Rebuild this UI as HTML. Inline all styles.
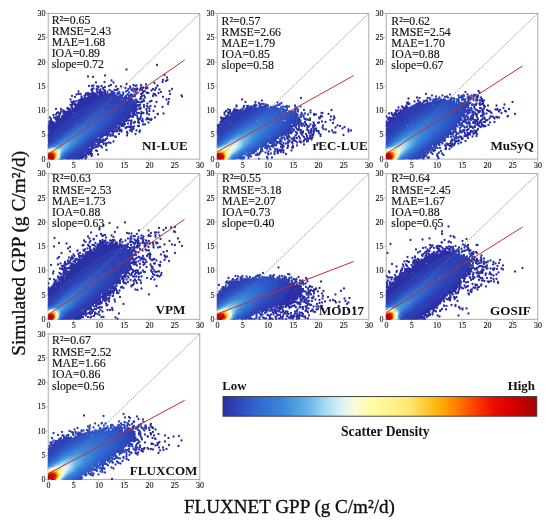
<!DOCTYPE html>
<html><head><meta charset="utf-8"><title>GPP scatter density</title>
<style>html,body{margin:0;padding:0;background:#fff}svg{display:block}text{font-family:"Liberation Serif",serif;fill:#111}</style></head><body>
<svg width="550" height="525" viewBox="0 0 550 525">
<rect width="550" height="525" fill="#fff"/>
<defs><linearGradient id="cb" x1="0" x2="1" y1="0" y2="0">
<stop offset="0.000" stop-color="#2b2fa5"/>
<stop offset="0.100" stop-color="#2f62cf"/>
<stop offset="0.200" stop-color="#3c8cda"/>
<stop offset="0.270" stop-color="#64b4e8"/>
<stop offset="0.330" stop-color="#aadcf2"/>
<stop offset="0.385" stop-color="#e1f3f8"/>
<stop offset="0.420" stop-color="#fafbd7"/>
<stop offset="0.480" stop-color="#fffca0"/>
<stop offset="0.590" stop-color="#ffe876"/>
<stop offset="0.685" stop-color="#ffb20a"/>
<stop offset="0.740" stop-color="#ff8200"/>
<stop offset="0.807" stop-color="#fa3c00"/>
<stop offset="0.864" stop-color="#eb0c00"/>
<stop offset="0.920" stop-color="#d70000"/>
<stop offset="1.000" stop-color="#a80000"/>
</linearGradient></defs>
<g>
<clipPath id="cp1"><rect x="47.7" y="12.9" width="152.6" height="146.7"/></clipPath>
<rect x="48.2" y="13.4" width="151.6" height="145.7" fill="none" stroke="#a2a2a2" stroke-width="0.9"/>
<path d="M48.2 159.6v1.6M47.7 159.1h-1.6M73.5 159.6v1.6M47.7 134.8h-1.6M98.7 159.6v1.6M47.7 110.5h-1.6M124.0 159.6v1.6M47.7 86.2h-1.6M149.3 159.6v1.6M47.7 62.0h-1.6M174.5 159.6v1.6M47.7 37.7h-1.6M199.8 159.6v1.6M47.7 13.4h-1.6" stroke="#a2a2a2" stroke-width="0.7" fill="none"/>
<g clip-path="url(#cp1)">
<g transform="scale(.5)" fill="none" stroke-width="4.6" stroke-linecap="round">
<path stroke="#2b2fa5" d="M314 130h0M253 139h0M329 150h0M210 151h0M176 153h0M186 154h0M334 155h0M326 160h0M335 160h0M223 161h0M332 162h0M209 164h0M325 164h0M192 165h0M227 165h0M309 166h0M253 168h0M292 169h0M222 170h0M267 170h0M282 170h0M187 171h0M273 171h0M315 171h0M178 172h0M184 172h0M203 172h0M218 172h0M271 172h0M315 172h0M194 173h0M197 173h0M232 173h0M242 173h0M260 173h0M197 174h0M210 174h0M282 175h0M286 175h0M292 175h0M294 175h0M206 176h0M251 176h0M261 176h0M285 176h0M295 176h0M312 176h0M187 177h0M267 177h0M274 177h0M292 177h0M184 178h0M195 178h0M236 178h0M273 178h0M275 178h0M282 178h0M284 178h0M306 178h0M344 178h0M193 179h0M201 179h0M207 179h0M235 179h0M270 179h0M280 179h0M319 179h0M183 180h0M184 180h0M219 180h0M229 180h0M233 180h0M274 180h0M284 180h0M310 180h0M199 181h0M210 181h0M303 181h0M201 182h0M289 182h0M339 182h0M157 183h0M185 183h0M194 183h0M223 183h0M287 183h0M203 184h0M210 184h0M215 184h0M225 184h0M322 184h0M195 185h0M196 185h0M199 185h0M207 185h0M286 185h0M293 185h0M176 186h0M186 186h0M201 186h0M210 186h0M285 186h0M294 186h0M297 186h0M317 186h0M172 187h0M183 187h0M184 187h0M190 187h0M205 187h0M157 188h0M161 188h0M179 188h0M180 188h0M185 188h0M187 188h0M212 188h0M282 188h0M307 188h0M308 188h0M340 188h0M153 189h0M174 189h0M182 189h0M193 189h0M199 189h0M203 189h0M204 189h0M310 189h0M176 190h0M185 190h0M191 190h0M209 190h0M170 191h0M178 191h0M187 191h0M194 191h0M201 191h0M205 191h0M206 191h0M210 191h0M288 191h0M312 191h0M363 191h0M144 192h0M169 192h0M183 192h0M186 192h0M191 192h0M284 192h0M306 192h0M163 193h0M170 193h0M177 193h0M188 193h0M193 193h0M195 193h0M197 193h0M200 193h0M203 193h0M364 193h0M150 194h0M181 194h0M187 194h0M188 194h0M194 194h0M282 194h0M326 194h0M177 195h0M182 195h0M184 195h0M191 195h0M192 195h0M197 195h0M199 195h0M201 195h0M202 195h0M290 195h0M175 196h0M191 196h0M163 197h0M166 197h0M171 197h0M172 197h0M176 197h0M179 197h0M181 197h0M182 197h0M185 197h0M187 197h0M189 197h0M192 197h0M194 197h0M197 197h0M282 197h0M163 198h0M167 198h0M173 198h0M189 198h0M280 198h0M338 198h0M141 199h0M161 199h0M169 199h0M174 199h0M178 199h0M180 199h0M183 199h0M185 199h0M190 199h0M192 199h0M194 199h0M287 199h0M333 199h0M163 200h0M168 200h0M182 200h0M158 201h0M160 201h0M164 201h0M167 201h0M175 201h0M176 201h0M179 201h0M181 201h0M185 201h0M189 201h0M153 202h0M169 202h0M179 202h0M181 202h0M187 202h0M288 202h0M303 202h0M147 203h0M161 203h0M163 203h0M164 203h0M171 203h0M172 203h0M174 203h0M183 203h0M185 203h0M273 203h0M275 203h0M284 203h0M300 203h0M143 204h0M149 204h0M175 204h0M176 204h0M181 204h0M274 204h0M277 204h0M284 204h0M313 204h0M337 204h0M146 205h0M157 205h0M164 205h0M167 205h0M169 205h0M178 205h0M183 205h0M185 205h0M281 205h0M146 206h0M159 206h0M167 206h0M168 206h0M174 206h0M272 206h0M161 207h0M162 207h0M164 207h0M170 207h0M173 207h0M177 207h0M181 207h0M295 207h0M147 208h0M158 208h0M162 208h0M176 208h0M178 208h0M336 208h0M144 209h0M149 209h0M150 209h0M152 209h0M154 209h0M156 209h0M160 209h0M166 209h0M169 209h0M171 209h0M173 209h0M174 209h0M271 209h0M141 210h0M162 210h0M277 210h0M280 210h0M288 210h0M155 211h0M158 211h0M161 211h0M165 211h0M167 211h0M169 211h0M170 211h0M176 211h0M270 211h0M272 211h0M274 211h0M160 212h0M165 212h0M270 212h0M276 212h0M294 212h0M301 212h0M144 213h0M151 213h0M152 213h0M155 213h0M157 213h0M159 213h0M163 213h0M166 213h0M168 213h0M170 213h0M272 213h0M310 213h0M154 214h0M158 214h0M165 214h0M167 214h0M169 214h0M272 214h0M288 214h0M325 214h0M143 215h0M152 215h0M161 215h0M163 215h0M281 215h0M297 215h0M135 216h0M155 216h0M162 216h0M267 216h0M269 216h0M270 216h0M272 216h0M281 216h0M137 217h0M145 217h0M150 217h0M152 217h0M156 217h0M159 217h0M164 217h0M278 217h0M299 217h0M112 218h0M122 218h0M135 218h0M147 218h0M153 218h0M165 218h0M269 218h0M272 218h0M281 218h0M293 218h0M137 219h0M138 219h0M140 219h0M148 219h0M154 219h0M157 219h0M159 219h0M161 219h0M267 219h0M274 219h0M145 220h0M157 220h0M159 220h0M264 220h0M293 220h0M126 221h0M138 221h0M142 221h0M149 221h0M151 221h0M153 221h0M155 221h0M266 221h0M269 221h0M271 221h0M139 222h0M142 222h0M147 222h0M158 222h0M266 222h0M299 222h0M307 222h0M122 223h0M129 223h0M130 223h0M144 223h0M150 223h0M153 223h0M154 223h0M157 223h0M264 223h0M268 223h0M127 224h0M134 224h0M137 224h0M265 224h0M266 224h0M283 224h0M294 224h0M116 225h0M139 225h0M141 225h0M142 225h0M144 225h0M149 225h0M150 225h0M153 225h0M273 225h0M114 226h0M121 226h0M133 226h0M141 226h0M151 226h0M260 226h0M268 226h0M274 226h0M278 226h0M285 226h0M287 226h0M119 227h0M127 227h0M130 227h0M135 227h0M137 227h0M143 227h0M152 227h0M265 227h0M294 227h0M327 227h0M128 228h0M139 228h0M140 228h0M144 228h0M151 228h0M267 228h0M269 228h0M282 228h0M315 228h0M316 228h0M112 229h0M119 229h0M131 229h0M135 229h0M137 229h0M143 229h0M147 229h0M149 229h0M258 229h0M298 229h0M107 230h0M145 230h0M256 230h0M266 230h0M270 230h0M119 231h0M129 231h0M131 231h0M133 231h0M135 231h0M138 231h0M140 231h0M143 231h0M146 231h0M261 231h0M274 231h0M125 232h0M131 232h0M141 232h0M145 232h0M255 232h0M256 232h0M116 233h0M129 233h0M133 233h0M135 233h0M137 233h0M138 233h0M142 233h0M260 233h0M262 233h0M282 233h0M115 234h0M118 234h0M124 234h0M127 234h0M128 234h0M136 234h0M141 234h0M266 234h0M100 235h0M108 235h0M112 235h0M116 235h0M130 235h0M133 235h0M135 235h0M139 235h0M252 235h0M254 235h0M258 235h0M275 235h0M310 235h0M128 236h0M133 236h0M256 236h0M275 236h0M295 236h0M114 237h0M123 237h0M125 237h0M127 237h0M131 237h0M135 237h0M137 237h0M280 237h0M102 238h0M111 238h0M119 238h0M127 238h0M130 238h0M137 238h0M253 238h0M254 238h0M276 238h0M280 238h0M285 238h0M294 238h0M297 238h0M303 238h0M117 239h0M121 239h0M125 239h0M128 239h0M133 239h0M135 239h0M278 239h0M293 239h0M300 239h0M123 240h0M126 240h0M134 240h0M302 240h0M102 241h0M113 241h0M115 241h0M116 241h0M118 241h0M121 241h0M125 241h0M131 241h0M133 241h0M250 241h0M256 241h0M258 241h0M263 241h0M277 241h0M126 242h0M252 242h0M262 242h0M284 242h0M99 243h0M102 243h0M104 243h0M113 243h0M115 243h0M119 243h0M121 243h0M123 243h0M124 243h0M129 243h0M249 243h0M286 243h0M103 244h0M113 244h0M124 244h0M247 244h0M248 244h0M263 244h0M269 244h0M270 244h0M276 244h0M99 245h0M104 245h0M107 245h0M114 245h0M119 245h0M121 245h0M123 245h0M127 245h0M297 245h0M115 246h0M119 246h0M123 246h0M247 246h0M248 246h0M268 246h0M278 246h0M99 247h0M103 247h0M106 247h0M110 247h0M113 247h0M120 247h0M256 247h0M262 247h0M106 248h0M117 248h0M123 248h0M242 248h0M246 248h0M250 248h0M99 249h0M101 249h0M109 249h0M110 249h0M112 249h0M115 249h0M118 249h0M121 249h0M124 249h0M241 249h0M262 249h0M286 249h0M290 249h0M102 250h0M109 250h0M248 250h0M97 251h0M99 251h0M101 251h0M105 251h0M107 251h0M111 251h0M115 251h0M116 251h0M118 251h0M121 251h0M245 251h0M97 252h0M119 252h0M244 252h0M247 252h0M276 252h0M278 252h0M99 253h0M101 253h0M106 253h0M109 253h0M111 253h0M113 253h0M115 253h0M117 253h0M239 253h0M259 253h0M268 253h0M99 254h0M104 254h0M107 254h0M115 254h0M254 254h0M258 254h0M263 254h0M265 254h0M97 255h0M101 255h0M103 255h0M109 255h0M111 255h0M237 255h0M253 255h0M261 255h0M97 256h0M101 256h0M239 256h0M251 256h0M265 256h0M99 257h0M103 257h0M107 257h0M108 257h0M110 257h0M113 257h0M99 258h0M100 258h0M107 258h0M109 258h0M112 258h0M267 258h0M103 259h0M105 259h0M111 259h0M233 259h0M235 259h0M239 259h0M263 259h0M243 260h0M97 261h0M98 261h0M103 261h0M105 261h0M109 261h0M260 261h0M263 261h0M273 261h0M280 261h0M228 262h0M230 262h0M239 262h0M101 263h0M103 263h0M104 263h0M106 263h0M109 263h0M234 263h0M243 263h0M264 263h0M101 264h0M107 264h0M224 264h0M254 264h0M279 264h0M99 265h0M103 265h0M227 265h0M101 267h0M103 267h0M104 267h0M255 267h0M98 268h0M101 268h0M238 268h0M271 268h0M97 269h0M102 269h0M220 269h0M225 269h0M221 270h0M98 271h0M226 271h0M254 271h0M97 272h0M100 272h0M215 272h0M221 272h0M230 273h0M232 274h0M214 277h0M212 278h0M208 281h0M210 281h0M227 283h0M202 284h0M206 284h0M200 285h0M217 285h0M221 286h0M211 287h0M213 287h0M196 288h0M207 288h0M198 290h0M192 291h0M197 291h0M212 291h0M202 292h0M195 293h0M197 293h0M192 294h0M204 295h0M188 296h0M183 298h0M184 298h0M213 300h0M180 301h0M192 301h0M183 302h0M194 302h0M177 304h0M179 304h0M174 306h0M182 306h0M179 307h0M181 308h0M184 308h0M170 309h0M172 309h0M177 309h0M196 309h0M168 310h0M172 310h0M183 311h0M184 311h0M164 312h0M172 312h0M183 312h0M171 313h0M160 314h0M162 314h0M167 314h0M173 314h0M165 315h0M159 316h0M161 316h0M164 317h0M156 318h0M158 318h0M171 318h0"/>
<path stroke="#2c3baf" d="M257 178h0M263 180h0M264 180h0M255 181h0M252 183h0M267 183h0M271 183h0M226 185h0M237 185h0M239 185h0M246 185h0M258 185h0M229 186h0M235 186h0M275 186h0M223 187h0M226 187h0M237 187h0M238 187h0M273 187h0M221 188h0M235 188h0M247 188h0M215 189h0M217 189h0M219 189h0M223 189h0M225 189h0M255 189h0M262 189h0M269 189h0M217 190h0M220 190h0M229 190h0M242 190h0M264 190h0M212 191h0M215 191h0M222 191h0M225 191h0M231 191h0M245 191h0M258 191h0M260 191h0M209 192h0M211 192h0M228 192h0M239 192h0M252 192h0M270 192h0M207 193h0M213 193h0M214 193h0M219 193h0M220 193h0M234 193h0M243 193h0M261 193h0M265 193h0M269 193h0M207 194h0M208 194h0M213 194h0M218 194h0M227 194h0M235 194h0M250 194h0M205 195h0M211 195h0M214 195h0M216 195h0M221 195h0M225 195h0M231 195h0M233 195h0M236 195h0M242 195h0M252 195h0M257 195h0M207 196h0M211 196h0M216 196h0M249 196h0M253 196h0M258 196h0M199 197h0M200 197h0M203 197h0M208 197h0M212 197h0M214 197h0M218 197h0M221 197h0M223 197h0M225 197h0M227 197h0M199 198h0M204 198h0M209 198h0M212 198h0M214 198h0M216 198h0M219 198h0M252 198h0M257 198h0M262 198h0M264 198h0M196 199h0M200 199h0M202 199h0M207 199h0M211 199h0M221 199h0M259 199h0M272 199h0M201 200h0M207 200h0M209 200h0M191 201h0M194 201h0M197 201h0M198 201h0M203 201h0M204 201h0M210 201h0M213 201h0M251 201h0M252 201h0M258 201h0M261 201h0M265 201h0M266 201h0M270 201h0M273 201h0M193 202h0M199 202h0M201 202h0M210 202h0M252 202h0M258 202h0M264 202h0M189 203h0M191 203h0M195 203h0M197 203h0M203 203h0M205 203h0M206 203h0M209 203h0M254 203h0M261 203h0M195 204h0M199 204h0M252 204h0M256 204h0M261 204h0M268 204h0M187 205h0M189 205h0M190 205h0M192 205h0M197 205h0M201 205h0M202 205h0M205 205h0M254 205h0M258 205h0M262 205h0M185 206h0M187 206h0M190 206h0M198 206h0M256 206h0M259 206h0M261 206h0M266 206h0M268 206h0M270 206h0M183 207h0M193 207h0M194 207h0M196 207h0M200 207h0M264 207h0M183 208h0M187 208h0M191 208h0M192 208h0M198 208h0M253 208h0M256 208h0M266 208h0M268 208h0M181 209h0M185 209h0M188 209h0M194 209h0M197 209h0M255 209h0M258 209h0M260 209h0M265 209h0M189 210h0M253 210h0M254 210h0M256 210h0M259 210h0M260 210h0M264 210h0M267 210h0M175 211h0M179 211h0M181 211h0M182 211h0M185 211h0M186 211h0M190 211h0M193 211h0M263 211h0M268 211h0M181 212h0M187 212h0M253 212h0M255 212h0M264 212h0M266 212h0M173 213h0M176 213h0M182 213h0M188 213h0M191 213h0M192 213h0M257 213h0M259 213h0M263 213h0M186 214h0M254 214h0M256 214h0M258 214h0M260 214h0M262 214h0M264 214h0M266 214h0M171 215h0M173 215h0M175 215h0M177 215h0M179 215h0M181 215h0M183 215h0M184 215h0M252 215h0M177 216h0M185 216h0M251 216h0M261 216h0M167 217h0M169 217h0M171 217h0M173 217h0M174 217h0M179 217h0M183 217h0M252 217h0M254 217h0M258 217h0M263 217h0M173 218h0M253 218h0M254 218h0M258 218h0M260 218h0M262 218h0M166 219h0M169 219h0M171 219h0M175 219h0M177 219h0M178 219h0M180 219h0M251 219h0M256 219h0M264 219h0M164 220h0M167 220h0M171 220h0M173 220h0M176 220h0M179 220h0M248 220h0M250 220h0M258 220h0M260 220h0M263 220h0M161 221h0M163 221h0M168 221h0M252 221h0M254 221h0M256 221h0M170 222h0M173 222h0M177 222h0M248 222h0M250 222h0M261 222h0M161 223h0M162 223h0M164 223h0M167 223h0M169 223h0M174 223h0M247 223h0M256 223h0M258 223h0M163 224h0M164 224h0M172 224h0M248 224h0M255 224h0M256 224h0M258 224h0M260 224h0M155 225h0M156 225h0M159 225h0M161 225h0M166 225h0M169 225h0M171 225h0M246 225h0M250 225h0M252 225h0M167 226h0M247 226h0M248 226h0M254 226h0M256 226h0M154 227h0M158 227h0M161 227h0M163 227h0M168 227h0M244 227h0M250 227h0M252 227h0M244 228h0M248 228h0M257 228h0M152 229h0M157 229h0M159 229h0M160 229h0M167 229h0M168 229h0M246 229h0M250 229h0M253 229h0M254 229h0M152 230h0M159 230h0M163 230h0M242 230h0M248 230h0M250 230h0M149 231h0M151 231h0M155 231h0M157 231h0M161 231h0M246 231h0M253 231h0M150 232h0M157 232h0M161 232h0M240 232h0M242 232h0M244 232h0M247 232h0M250 232h0M253 232h0M149 233h0M152 233h0M155 233h0M159 233h0M162 233h0M153 234h0M239 234h0M240 234h0M242 234h0M246 234h0M248 234h0M142 235h0M145 235h0M149 235h0M150 235h0M157 235h0M159 235h0M244 235h0M250 235h0M143 236h0M147 236h0M149 236h0M238 236h0M240 236h0M243 236h0M245 236h0M247 236h0M249 236h0M139 237h0M141 237h0M145 237h0M150 237h0M152 237h0M154 237h0M138 238h0M143 238h0M236 238h0M240 238h0M244 238h0M246 238h0M249 238h0M140 239h0M145 239h0M147 239h0M149 239h0M151 239h0M155 239h0M238 239h0M144 240h0M234 240h0M239 240h0M137 241h0M138 241h0M141 241h0M142 241h0M146 241h0M148 241h0M237 241h0M240 241h0M243 241h0M244 241h0M247 241h0M233 242h0M234 242h0M238 242h0M240 242h0M242 242h0M132 243h0M134 243h0M137 243h0M138 243h0M141 243h0M143 243h0M145 243h0M148 243h0M237 243h0M132 244h0M140 244h0M230 244h0M233 244h0M235 244h0M237 244h0M243 244h0M131 245h0M137 245h0M138 245h0M144 245h0M139 246h0M142 246h0M232 246h0M236 246h0M240 246h0M127 247h0M129 247h0M131 247h0M132 247h0M135 247h0M137 247h0M140 247h0M228 247h0M230 247h0M234 247h0M126 248h0M231 248h0M232 248h0M236 248h0M128 249h0M131 249h0M132 249h0M135 249h0M139 249h0M238 249h0M124 250h0M133 250h0M123 251h0M127 251h0M129 251h0M130 251h0M134 251h0M137 251h0M138 251h0M223 251h0M228 251h0M232 251h0M129 252h0M131 252h0M132 252h0M225 252h0M230 252h0M121 253h0M123 253h0M124 253h0M127 253h0M135 253h0M222 253h0M226 253h0M229 253h0M232 253h0M234 253h0M121 254h0M124 254h0M130 254h0M133 254h0M220 254h0M223 254h0M227 254h0M233 254h0M117 255h0M118 255h0M122 255h0M126 255h0M129 255h0M225 255h0M230 255h0M117 256h0M118 256h0M124 256h0M127 256h0M218 256h0M220 256h0M225 256h0M120 257h0M123 257h0M131 257h0M217 257h0M222 257h0M227 257h0M228 257h0M230 257h0M117 258h0M127 258h0M216 258h0M223 258h0M226 258h0M115 259h0M118 259h0M121 259h0M122 259h0M125 259h0M128 259h0M117 260h0M122 260h0M127 260h0M215 260h0M218 260h0M226 260h0M114 261h0M119 261h0M121 261h0M125 261h0M221 261h0M222 261h0M225 261h0M212 262h0M220 262h0M224 262h0M226 262h0M111 263h0M113 263h0M115 263h0M117 263h0M118 263h0M120 263h0M122 263h0M214 263h0M216 263h0M119 264h0M122 264h0M210 264h0M213 264h0M108 265h0M110 265h0M112 265h0M115 265h0M117 265h0M121 265h0M208 265h0M216 265h0M218 265h0M112 266h0M116 266h0M209 266h0M218 266h0M106 267h0M109 267h0M111 267h0M115 267h0M212 267h0M214 267h0M217 267h0M204 268h0M212 268h0M215 268h0M104 269h0M107 269h0M109 269h0M111 269h0M113 269h0M114 269h0M116 269h0M208 269h0M210 269h0M217 269h0M110 270h0M203 270h0M205 270h0M207 270h0M209 270h0M212 270h0M216 270h0M101 271h0M105 271h0M107 271h0M108 271h0M112 271h0M102 272h0M105 272h0M112 272h0M201 272h0M202 272h0M204 272h0M206 272h0M106 273h0M108 273h0M110 273h0M107 274h0M109 274h0M201 274h0M203 274h0M204 274h0M97 275h0M98 275h0M101 275h0M102 275h0M105 275h0M97 276h0M101 276h0M200 276h0M99 277h0M102 277h0M105 277h0M107 277h0M101 278h0M192 278h0M200 278h0M98 279h0M102 279h0M194 279h0M196 279h0M199 279h0M207 279h0M101 280h0M191 280h0M193 280h0M196 280h0M200 280h0M205 280h0M206 280h0M97 281h0M99 281h0M102 281h0M203 281h0M186 282h0M188 282h0M193 282h0M194 282h0M101 283h0M197 283h0M201 283h0M185 284h0M194 284h0M98 285h0M182 285h0M188 285h0M190 285h0M183 286h0M184 286h0M188 286h0M198 286h0M186 287h0M180 288h0M182 288h0M184 288h0M188 288h0M178 289h0M180 290h0M183 290h0M184 290h0M186 290h0M191 290h0M176 291h0M179 291h0M172 292h0M177 292h0M181 292h0M187 292h0M183 293h0M185 293h0M173 294h0M177 294h0M185 294h0M174 295h0M183 295h0M170 296h0M172 296h0M174 296h0M177 296h0M185 296h0M171 298h0M174 298h0M176 298h0M181 298h0M165 299h0M167 299h0M169 299h0M173 299h0M165 300h0M168 300h0M175 300h0M178 300h0M162 301h0M170 301h0M172 301h0M162 302h0M165 302h0M174 302h0M166 303h0M169 303h0M171 303h0M164 304h0M166 304h0M171 304h0M172 304h0M160 305h0M162 305h0M163 306h0M164 306h0M166 306h0M168 306h0M158 307h0M160 307h0M154 308h0M158 308h0M162 308h0M165 308h0M166 308h0M152 309h0M151 310h0M152 310h0M154 310h0M159 310h0M163 310h0M164 310h0M166 310h0M148 311h0M156 311h0M160 311h0M149 312h0M156 312h0M159 312h0M147 313h0M150 313h0M153 313h0M155 313h0M161 313h0M145 314h0M147 314h0M149 314h0M150 314h0M153 314h0M154 314h0M156 314h0M159 314h0M140 316h0M142 316h0M145 316h0M146 316h0M148 316h0M150 316h0M152 316h0M154 316h0M156 316h0M138 318h0M143 318h0M146 318h0M148 318h0M150 318h0M152 318h0"/>
<path stroke="#2d43b5" d="M238 195h0M231 196h0M234 196h0M244 196h0M232 197h0M236 197h0M238 197h0M243 197h0M247 197h0M248 198h0M223 199h0M224 199h0M227 199h0M229 199h0M231 199h0M235 199h0M237 199h0M239 199h0M228 200h0M234 200h0M217 201h0M219 201h0M221 201h0M223 201h0M225 201h0M227 201h0M233 201h0M237 201h0M238 201h0M240 201h0M243 201h0M246 201h0M248 201h0M214 202h0M220 202h0M246 202h0M249 202h0M251 202h0M213 203h0M217 203h0M223 203h0M224 203h0M227 203h0M231 203h0M233 203h0M235 203h0M236 203h0M238 203h0M240 203h0M242 203h0M245 203h0M219 204h0M226 204h0M240 204h0M243 204h0M245 204h0M247 204h0M248 204h0M250 204h0M207 205h0M209 205h0M210 205h0M212 205h0M214 205h0M220 205h0M223 205h0M225 205h0M229 205h0M232 205h0M235 205h0M239 205h0M210 206h0M213 206h0M221 206h0M235 206h0M236 206h0M252 206h0M205 207h0M206 207h0M209 207h0M215 207h0M216 207h0M219 207h0M223 207h0M224 207h0M227 207h0M229 207h0M231 207h0M233 207h0M238 207h0M240 207h0M242 207h0M244 207h0M246 207h0M248 207h0M250 207h0M201 208h0M212 208h0M215 208h0M223 208h0M240 208h0M243 208h0M249 208h0M203 209h0M205 209h0M207 209h0M208 209h0M210 209h0M217 209h0M233 209h0M235 209h0M236 209h0M238 209h0M244 209h0M250 209h0M205 210h0M209 210h0M211 210h0M236 210h0M244 210h0M246 210h0M250 210h0M197 211h0M199 211h0M201 211h0M202 211h0M207 211h0M235 211h0M238 211h0M240 211h0M242 211h0M248 211h0M197 212h0M199 212h0M208 212h0M236 212h0M240 212h0M244 212h0M195 213h0M200 213h0M203 213h0M204 213h0M206 213h0M242 213h0M249 213h0M250 213h0M205 214h0M236 214h0M239 214h0M242 214h0M246 214h0M189 215h0M191 215h0M193 215h0M194 215h0M196 215h0M199 215h0M200 215h0M240 215h0M248 215h0M250 215h0M192 216h0M238 216h0M241 216h0M187 217h0M191 217h0M195 217h0M197 217h0M198 217h0M242 217h0M246 217h0M240 218h0M242 218h0M248 218h0M183 219h0M185 219h0M187 219h0M189 219h0M191 219h0M193 219h0M238 219h0M245 219h0M246 219h0M185 220h0M187 220h0M236 220h0M241 220h0M246 220h0M181 221h0M189 221h0M191 221h0M238 221h0M243 221h0M244 221h0M236 222h0M240 222h0M243 222h0M245 222h0M178 223h0M181 223h0M182 223h0M185 223h0M186 223h0M238 223h0M178 224h0M183 224h0M236 224h0M240 224h0M176 225h0M181 225h0M238 225h0M242 225h0M244 225h0M234 226h0M238 226h0M241 226h0M242 226h0M171 227h0M172 227h0M175 227h0M176 227h0M178 227h0M180 227h0M177 228h0M234 228h0M238 228h0M242 228h0M171 229h0M172 229h0M175 229h0M232 229h0M237 229h0M241 229h0M232 230h0M234 230h0M238 230h0M240 230h0M165 231h0M167 231h0M168 231h0M170 231h0M172 231h0M169 232h0M172 232h0M232 232h0M236 232h0M238 232h0M167 233h0M171 233h0M235 233h0M165 234h0M171 234h0M229 234h0M232 234h0M235 234h0M237 234h0M160 235h0M162 235h0M230 235h0M233 236h0M235 236h0M157 237h0M159 237h0M161 237h0M162 237h0M164 237h0M229 237h0M228 238h0M231 238h0M232 238h0M156 239h0M158 239h0M161 239h0M226 239h0M153 240h0M154 240h0M227 240h0M232 240h0M157 241h0M159 241h0M228 241h0M230 241h0M222 242h0M224 242h0M226 242h0M229 242h0M151 243h0M155 243h0M157 243h0M230 243h0M153 244h0M222 244h0M226 244h0M228 244h0M147 245h0M149 245h0M151 245h0M225 245h0M220 246h0M226 246h0M144 247h0M146 247h0M149 247h0M151 247h0M224 247h0M218 248h0M220 248h0M222 248h0M142 249h0M144 249h0M147 249h0M224 249h0M145 250h0M216 250h0M218 250h0M220 250h0M224 250h0M141 251h0M143 251h0M147 251h0M214 252h0M216 252h0M220 252h0M137 253h0M138 253h0M140 253h0M142 253h0M216 254h0M218 254h0M135 255h0M138 255h0M141 255h0M212 255h0M214 255h0M210 256h0M215 256h0M133 257h0M135 257h0M137 257h0M209 257h0M133 258h0M208 258h0M212 258h0M214 258h0M131 259h0M135 259h0M210 259h0M130 260h0M133 260h0M205 260h0M206 260h0M208 260h0M213 260h0M128 261h0M210 261h0M129 262h0M204 262h0M210 262h0M127 263h0M131 263h0M206 263h0M209 263h0M202 264h0M205 264h0M207 264h0M125 265h0M126 265h0M201 265h0M124 266h0M203 266h0M204 266h0M206 266h0M119 267h0M121 267h0M122 267h0M199 267h0M200 267h0M120 268h0M196 268h0M200 268h0M202 268h0M118 269h0M123 269h0M122 270h0M196 270h0M115 271h0M116 271h0M119 271h0M120 271h0M194 271h0M198 271h0M196 272h0M198 272h0M115 273h0M116 273h0M192 273h0M188 274h0M191 274h0M195 274h0M110 275h0M112 275h0M115 275h0M109 276h0M112 276h0M186 276h0M189 276h0M191 276h0M110 277h0M111 278h0M188 278h0M105 279h0M106 279h0M108 279h0M186 279h0M184 280h0M107 281h0M181 281h0M182 281h0M186 281h0M188 281h0M183 282h0M184 282h0M103 283h0M104 283h0M107 283h0M177 283h0M180 283h0M178 284h0M180 284h0M101 285h0M103 285h0M104 285h0M174 285h0M176 285h0M99 286h0M101 286h0M176 286h0M180 286h0M174 287h0M178 287h0M174 288h0M177 288h0M97 289h0M173 289h0M172 290h0M175 290h0M171 291h0M167 292h0M171 292h0M163 294h0M166 294h0M168 294h0M165 295h0M161 296h0M163 296h0M166 296h0M164 297h0M160 298h0M162 298h0M158 299h0M156 300h0M159 300h0M161 300h0M153 302h0M159 302h0M160 302h0M155 303h0M157 303h0M149 304h0M153 304h0M154 305h0M149 306h0M150 306h0M152 306h0M154 306h0M146 307h0M144 308h0M147 308h0M150 308h0M148 309h0M147 310h0M142 311h0M144 311h0M137 312h0M142 312h0M145 312h0M138 313h0M140 313h0M137 314h0M139 314h0M134 315h0M140 315h0M134 316h0M139 316h0M137 317h0M134 318h0"/>
<path stroke="#2d4bbc" d="M228 208h0M219 209h0M220 209h0M225 209h0M226 209h0M230 209h0M224 210h0M230 210h0M212 211h0M214 211h0M216 211h0M219 211h0M221 211h0M223 211h0M227 211h0M228 211h0M233 211h0M219 212h0M226 212h0M233 212h0M234 212h0M210 213h0M213 213h0M214 213h0M216 213h0M220 213h0M223 213h0M224 213h0M228 213h0M230 213h0M213 214h0M231 214h0M235 214h0M207 215h0M208 215h0M211 215h0M215 215h0M216 215h0M218 215h0M221 215h0M222 215h0M225 215h0M227 215h0M232 215h0M204 216h0M211 216h0M212 216h0M219 216h0M223 216h0M236 216h0M201 217h0M203 217h0M206 217h0M215 217h0M216 217h0M220 217h0M224 217h0M226 217h0M228 217h0M231 217h0M232 217h0M204 218h0M207 218h0M211 218h0M213 218h0M221 218h0M224 218h0M226 218h0M228 218h0M230 218h0M232 218h0M234 218h0M236 218h0M195 219h0M197 219h0M199 219h0M200 219h0M202 219h0M209 219h0M215 219h0M216 219h0M218 219h0M222 219h0M201 220h0M220 220h0M224 220h0M226 220h0M232 220h0M193 221h0M195 221h0M197 221h0M199 221h0M203 221h0M223 221h0M229 221h0M231 221h0M234 221h0M192 222h0M195 222h0M224 222h0M234 222h0M188 223h0M191 223h0M196 223h0M226 223h0M231 223h0M232 223h0M197 224h0M224 224h0M227 224h0M233 224h0M234 224h0M185 225h0M186 225h0M188 225h0M190 225h0M193 225h0M229 225h0M230 225h0M191 226h0M224 226h0M227 226h0M230 226h0M183 227h0M185 227h0M187 227h0M188 227h0M228 227h0M232 227h0M179 228h0M183 228h0M180 229h0M185 229h0M222 229h0M224 229h0M229 229h0M230 229h0M179 230h0M185 230h0M222 230h0M226 230h0M174 231h0M177 231h0M181 231h0M224 231h0M228 231h0M230 231h0M222 232h0M175 233h0M179 233h0M224 233h0M226 233h0M228 233h0M223 234h0M225 234h0M169 235h0M173 235h0M175 235h0M220 235h0M226 235h0M169 236h0M170 236h0M173 236h0M220 236h0M166 237h0M224 237h0M226 237h0M224 238h0M163 239h0M165 239h0M167 239h0M169 239h0M219 239h0M220 239h0M216 240h0M218 240h0M222 240h0M224 240h0M161 241h0M163 241h0M164 241h0M166 241h0M221 241h0M216 242h0M219 242h0M159 243h0M161 243h0M163 243h0M164 243h0M214 243h0M221 243h0M161 244h0M215 244h0M220 244h0M155 245h0M157 245h0M218 245h0M216 246h0M152 247h0M154 247h0M157 247h0M158 247h0M214 247h0M210 248h0M213 248h0M214 248h0M216 248h0M149 249h0M151 249h0M209 250h0M212 250h0M214 250h0M148 251h0M151 251h0M207 252h0M211 252h0M212 252h0M145 253h0M147 253h0M149 253h0M208 253h0M147 254h0M206 254h0M208 254h0M210 254h0M142 255h0M145 255h0M204 255h0M205 256h0M139 257h0M141 257h0M143 257h0M203 257h0M206 257h0M202 258h0M206 258h0M137 259h0M139 259h0M141 259h0M204 259h0M200 260h0M203 260h0M134 261h0M137 261h0M135 262h0M133 263h0M198 263h0M200 263h0M195 264h0M197 264h0M198 264h0M129 265h0M131 265h0M132 265h0M131 266h0M192 266h0M194 266h0M197 266h0M126 267h0M129 267h0M194 268h0M125 269h0M127 269h0M188 269h0M190 269h0M191 270h0M192 270h0M125 271h0M188 271h0M120 272h0M187 272h0M190 272h0M119 273h0M186 274h0M116 275h0M119 275h0M182 275h0M184 275h0M119 276h0M181 276h0M183 276h0M185 276h0M115 277h0M117 277h0M117 278h0M181 278h0M182 278h0M113 279h0M115 279h0M178 279h0M176 280h0M178 280h0M109 281h0M111 281h0M111 282h0M173 282h0M174 282h0M178 282h0M108 283h0M110 284h0M172 284h0M107 285h0M108 285h0M171 285h0M171 286h0M172 286h0M103 287h0M104 287h0M106 287h0M169 287h0M165 288h0M167 288h0M168 288h0M170 288h0M99 289h0M100 289h0M99 290h0M164 290h0M166 290h0M168 290h0M163 292h0M164 292h0M159 295h0M155 296h0M157 296h0M158 297h0M154 299h0M151 300h0M154 300h0M149 302h0M150 302h0M144 304h0M146 304h0M141 306h0M142 306h0M144 306h0M139 308h0M140 309h0M140 310h0M136 311h0M138 311h0M132 312h0M135 313h0M132 314h0M130 315h0M132 316h0M130 317h0"/>
<path stroke="#2e53c3" d="M211 220h0M217 220h0M204 221h0M209 221h0M213 221h0M214 221h0M218 221h0M211 222h0M215 222h0M220 222h0M199 223h0M201 223h0M203 223h0M205 223h0M206 223h0M208 223h0M213 223h0M217 223h0M218 223h0M199 225h0M200 225h0M204 225h0M207 225h0M209 225h0M211 225h0M213 225h0M214 225h0M216 225h0M219 225h0M220 225h0M206 226h0M211 226h0M216 226h0M220 226h0M222 226h0M193 227h0M194 227h0M197 227h0M199 227h0M202 227h0M208 227h0M212 227h0M218 227h0M189 228h0M191 228h0M192 228h0M212 228h0M214 228h0M217 228h0M221 228h0M194 229h0M196 229h0M198 229h0M202 229h0M204 229h0M206 229h0M208 229h0M219 229h0M189 230h0M210 230h0M214 230h0M218 230h0M220 230h0M187 231h0M191 231h0M194 231h0M212 231h0M210 232h0M212 232h0M214 232h0M218 232h0M220 232h0M181 233h0M183 233h0M184 233h0M186 233h0M190 233h0M216 233h0M213 234h0M214 234h0M179 235h0M181 235h0M183 235h0M184 235h0M216 235h0M218 235h0M212 236h0M218 236h0M175 237h0M177 237h0M179 237h0M210 237h0M215 237h0M216 237h0M175 238h0M210 238h0M170 239h0M173 239h0M212 239h0M216 239h0M169 241h0M171 241h0M173 241h0M211 241h0M212 241h0M215 241h0M211 242h0M167 243h0M168 243h0M170 243h0M208 243h0M206 244h0M208 244h0M210 244h0M212 244h0M163 245h0M164 245h0M206 246h0M160 247h0M162 247h0M210 247h0M205 248h0M206 248h0M208 248h0M155 249h0M156 249h0M158 249h0M202 250h0M204 250h0M206 250h0M155 251h0M200 252h0M202 252h0M204 252h0M150 253h0M153 253h0M200 254h0M149 255h0M150 255h0M198 255h0M202 255h0M147 256h0M197 256h0M198 256h0M144 257h0M148 257h0M200 257h0M200 258h0M142 259h0M195 259h0M196 259h0M198 259h0M194 260h0M196 260h0M139 261h0M140 261h0M138 262h0M192 262h0M137 263h0M194 263h0M189 264h0M190 264h0M193 264h0M134 265h0M136 265h0M134 266h0M191 266h0M133 267h0M188 267h0M129 269h0M131 269h0M185 269h0M186 269h0M186 270h0M127 271h0M180 272h0M184 272h0M123 273h0M124 273h0M182 273h0M123 274h0M178 274h0M121 275h0M180 275h0M176 276h0M178 276h0M120 277h0M118 278h0M174 278h0M176 279h0M171 280h0M174 280h0M113 283h0M114 284h0M167 284h0M168 285h0M164 286h0M167 286h0M104 288h0M162 288h0M161 289h0M97 291h0M100 291h0M160 291h0M157 292h0M160 292h0M156 294h0M153 296h0M150 298h0M149 299h0M148 300h0M146 301h0M144 302h0M146 302h0M141 305h0M142 305h0M139 306h0M135 308h0M136 308h0M133 310h0M135 310h0M130 313h0M129 316h0M127 317h0M126 318h0"/>
<path stroke="#2e5bc9" d="M200 229h0M199 230h0M201 230h0M205 230h0M193 231h0M196 231h0M203 231h0M206 231h0M208 231h0M193 232h0M203 232h0M206 232h0M189 233h0M195 233h0M197 233h0M198 233h0M200 233h0M204 233h0M208 233h0M195 234h0M210 234h0M186 235h0M188 235h0M191 235h0M197 235h0M199 235h0M202 235h0M204 235h0M206 235h0M208 235h0M186 236h0M208 236h0M181 237h0M183 237h0M185 237h0M188 237h0M190 237h0M193 237h0M195 237h0M196 237h0M199 237h0M201 237h0M202 237h0M205 237h0M206 237h0M187 238h0M190 238h0M178 239h0M180 239h0M182 239h0M185 239h0M199 239h0M202 239h0M206 239h0M208 239h0M181 240h0M198 240h0M206 240h0M174 241h0M177 241h0M179 241h0M200 241h0M202 241h0M204 241h0M173 242h0M204 242h0M206 242h0M175 243h0M176 243h0M199 243h0M200 243h0M202 243h0M174 244h0M198 244h0M205 244h0M167 245h0M169 245h0M170 245h0M172 245h0M200 245h0M202 245h0M169 246h0M170 246h0M198 246h0M203 246h0M204 246h0M165 247h0M167 247h0M163 248h0M198 248h0M201 248h0M202 248h0M161 249h0M165 249h0M196 249h0M163 250h0M164 250h0M196 250h0M198 250h0M200 250h0M159 251h0M194 252h0M196 252h0M198 252h0M157 253h0M194 254h0M153 255h0M155 255h0M193 255h0M197 255h0M151 256h0M192 256h0M194 256h0M149 258h0M145 259h0M147 259h0M190 259h0M192 259h0M145 260h0M189 260h0M190 260h0M143 261h0M146 261h0M192 261h0M187 262h0M189 262h0M190 262h0M140 263h0M143 263h0M139 265h0M141 265h0M184 265h0M184 266h0M186 266h0M137 267h0M133 269h0M134 269h0M180 269h0M183 269h0M178 270h0M131 271h0M181 271h0M130 272h0M177 272h0M178 272h0M127 273h0M129 273h0M175 274h0M176 274h0M125 275h0M123 277h0M124 277h0M172 277h0M174 277h0M171 278h0M172 278h0M119 280h0M117 281h0M166 282h0M168 282h0M165 283h0M165 284h0M113 285h0M162 286h0M111 287h0M160 287h0M106 289h0M157 290h0M102 291h0M158 291h0M101 292h0M154 292h0M97 293h0M152 294h0M150 296h0M145 300h0M143 302h0M138 304h0M137 305h0M136 306h0M132 309h0M130 311h0M128 313h0M128 314h0"/>
<path stroke="#2f63cf" d="M189 239h0M192 239h0M194 239h0M191 240h0M192 240h0M183 241h0M185 241h0M187 241h0M189 241h0M194 241h0M179 243h0M181 243h0M183 243h0M184 243h0M191 243h0M192 243h0M196 243h0M177 244h0M190 244h0M192 244h0M196 244h0M178 245h0M181 245h0M183 245h0M184 245h0M186 245h0M188 245h0M172 246h0M175 246h0M184 246h0M194 246h0M196 246h0M176 247h0M187 247h0M189 247h0M191 247h0M193 247h0M171 248h0M190 248h0M194 248h0M167 249h0M169 249h0M188 249h0M192 249h0M167 250h0M191 250h0M192 250h0M194 250h0M165 252h0M188 252h0M190 252h0M159 253h0M160 253h0M163 253h0M192 253h0M160 254h0M163 254h0M188 254h0M157 255h0M158 255h0M153 257h0M154 257h0M156 257h0M188 257h0M190 257h0M152 258h0M188 258h0M150 259h0M184 259h0M187 259h0M149 260h0M184 260h0M186 260h0M150 261h0M182 262h0M184 263h0M143 265h0M180 265h0M182 265h0M179 266h0M180 266h0M182 266h0M138 267h0M137 268h0M177 268h0M179 268h0M138 269h0M133 270h0M177 271h0M174 272h0M128 274h0M172 274h0M170 275h0M127 276h0M170 276h0M168 278h0M121 280h0M168 280h0M164 281h0M118 283h0M117 284h0M162 284h0M160 285h0M158 286h0M113 287h0M156 288h0M158 288h0M155 290h0M104 291h0M107 291h0M152 293h0M150 294h0M145 298h0M146 298h0M143 300h0M141 302h0M134 306h0M132 307h0M129 311h0M126 314h0M124 317h0M123 318h0"/>
<path stroke="#3169d1" d="M179 247h0M182 247h0M181 248h0M177 249h0M179 249h0M182 249h0M185 249h0M186 249h0M173 250h0M184 250h0M170 251h0M175 251h0M176 251h0M178 251h0M181 251h0M186 251h0M188 251h0M167 252h0M186 252h0M169 253h0M171 253h0M173 253h0M176 253h0M179 253h0M180 253h0M182 253h0M184 253h0M176 254h0M182 254h0M186 254h0M165 255h0M167 255h0M178 255h0M180 255h0M184 255h0M160 256h0M180 256h0M184 256h0M158 257h0M182 257h0M180 258h0M154 259h0M157 259h0M182 259h0M180 260h0M182 260h0M153 261h0M178 261h0M149 262h0M178 262h0M147 263h0M180 263h0M149 264h0M175 264h0M177 264h0M145 265h0M178 265h0M146 266h0M142 267h0M175 267h0M140 268h0M172 269h0M174 269h0M171 270h0M172 270h0M174 270h0M135 271h0M136 271h0M132 273h0M168 274h0M168 276h0M164 277h0M166 277h0M167 278h0M125 279h0M164 279h0M163 280h0M122 281h0M160 282h0M162 282h0M120 283h0M158 284h0M157 286h0M115 287h0M154 287h0M154 288h0M111 289h0M112 289h0M153 290h0M151 291h0M150 292h0M99 294h0M149 294h0M146 296h0M144 297h0M142 298h0M140 300h0M134 304h0M130 308h0M126 312h0M124 314h0"/>
<path stroke="#3370d3" d="M170 254h0M169 255h0M173 255h0M174 255h0M164 257h0M166 257h0M169 257h0M170 257h0M175 257h0M176 257h0M178 257h0M161 258h0M163 258h0M168 258h0M177 258h0M178 258h0M159 259h0M166 259h0M170 259h0M172 259h0M174 259h0M158 260h0M166 260h0M170 260h0M155 261h0M156 261h0M173 261h0M175 261h0M176 261h0M172 262h0M151 263h0M174 263h0M153 264h0M147 265h0M150 265h0M172 265h0M172 266h0M148 267h0M171 267h0M142 269h0M144 269h0M168 269h0M170 269h0M139 270h0M142 270h0M140 271h0M137 272h0M166 272h0M168 272h0M135 274h0M166 274h0M131 275h0M132 275h0M133 276h0M129 277h0M129 278h0M162 278h0M127 279h0M126 280h0M160 280h0M125 281h0M158 282h0M156 284h0M119 285h0M117 287h0M116 288h0M152 288h0M111 291h0M149 291h0M148 292h0M103 293h0M146 294h0M97 296h0M140 299h0M139 300h0M136 302h0M131 305h0M131 306h0M129 307h0M122 316h0"/>
<path stroke="#3576d4" d="M161 261h0M162 261h0M164 261h0M169 261h0M160 262h0M166 262h0M170 262h0M157 263h0M164 263h0M168 263h0M162 264h0M165 264h0M170 264h0M154 265h0M156 265h0M158 265h0M161 265h0M166 265h0M168 265h0M155 266h0M162 266h0M168 266h0M150 267h0M165 267h0M166 267h0M167 268h0M164 269h0M145 270h0M164 270h0M166 270h0M142 272h0M162 272h0M164 272h0M138 273h0M161 274h0M162 274h0M164 274h0M136 275h0M161 276h0M162 276h0M131 277h0M160 278h0M159 279h0M157 280h0M156 282h0M155 283h0M153 284h0M154 284h0M120 285h0M119 286h0M153 286h0M150 288h0M114 289h0M114 290h0M146 291h0M147 292h0M105 293h0M106 293h0M144 294h0M142 295h0M142 296h0M137 299h0M139 299h0M136 300h0M126 308h0M126 310h0M124 312h0M122 315h0"/>
<path stroke="#377dd6" d="M160 266h0M156 267h0M158 267h0M151 268h0M153 268h0M162 268h0M149 269h0M155 269h0M157 269h0M158 269h0M161 269h0M150 270h0M152 270h0M154 270h0M159 270h0M162 270h0M146 271h0M156 271h0M160 271h0M157 272h0M141 273h0M158 273h0M160 273h0M139 274h0M140 275h0M159 275h0M134 277h0M156 277h0M158 277h0M130 279h0M153 279h0M156 279h0M128 281h0M154 281h0M125 283h0M150 283h0M152 283h0M123 284h0M151 286h0M120 287h0M148 288h0M113 291h0M112 292h0M143 292h0M145 292h0M109 293h0M141 294h0M101 295h0M140 296h0M137 297h0M138 297h0M135 300h0M124 310h0M120 318h0"/>
<path stroke="#3983d8" d="M149 272h0M150 272h0M154 272h0M145 273h0M146 273h0M153 273h0M144 274h0M156 274h0M143 275h0M149 275h0M150 275h0M153 275h0M155 275h0M139 276h0M152 276h0M154 276h0M136 277h0M141 277h0M137 278h0M154 278h0M132 279h0M135 279h0M150 280h0M152 281h0M127 283h0M128 283h0M148 285h0M148 286h0M119 288h0M146 288h0M116 291h0M144 291h0M111 293h0M138 295h0M98 297h0M130 302h0M129 304h0M126 307h0"/>
<path stroke="#3b8ad9" d="M148 276h0M143 277h0M145 277h0M147 277h0M150 277h0M139 278h0M150 278h0M146 279h0M148 279h0M134 280h0M148 280h0M131 281h0M132 281h0M147 281h0M146 282h0M130 283h0M148 283h0M125 286h0M122 287h0M144 287h0M143 288h0M144 288h0M120 289h0M141 291h0M142 291h0M140 293h0M105 295h0M106 295h0M134 298h0M131 300h0M126 305h0M124 309h0"/>
<path stroke="#4292dc" d="M141 279h0M142 279h0M144 279h0M144 280h0M137 281h0M140 281h0M143 281h0M132 283h0M142 283h0M144 283h0M143 284h0M144 284h0M127 285h0M128 285h0M142 286h0M123 288h0M140 289h0M118 291h0M117 292h0M136 295h0M134 296h0M132 298h0M128 302h0M123 310h0"/>
<path stroke="#4b9bdf" d="M139 282h0M136 284h0M138 284h0M131 285h0M132 285h0M134 285h0M140 285h0M127 287h0M139 287h0M140 287h0M127 288h0M122 290h0M137 291h0M138 291h0M136 292h0M115 293h0M109 295h0M133 295h0M101 297h0M132 297h0M130 299h0M128 301h0M126 303h0M124 305h0M122 308h0M120 315h0"/>
<path stroke="#54a4e2" d="M133 286h0M134 286h0M129 287h0M136 287h0M129 288h0M136 288h0M138 288h0M125 289h0M135 289h0M135 291h0M133 292h0M134 293h0M116 294h0M134 294h0M111 295h0M130 297h0M129 298h0M123 307h0"/>
<path stroke="#5dade6" d="M130 289h0M132 289h0M125 291h0M127 291h0M128 291h0M130 291h0M132 291h0M122 292h0M119 293h0M120 293h0M130 293h0M130 294h0M113 295h0M115 295h0M118 295h0M126 300h0M124 303h0"/>
<path stroke="#68b6e9" d="M128 292h0M124 293h0M124 294h0M126 294h0M129 294h0M121 295h0M112 296h0M126 296h0M128 296h0M103 297h0M106 297h0M99 298h0M97 299h0M126 299h0M124 300h0M123 304h0M120 312h0"/>
<path stroke="#7ac1eb" d="M123 295h0M116 296h0M122 296h0M124 296h0M105 297h0M108 297h0M111 297h0M121 297h0M124 298h0M100 299h0M120 311h0M118 317h0"/>
<path stroke="#8ccbee" d="M115 297h0M122 299h0M122 301h0M121 302h0M122 303h0"/>
<path stroke="#9fd6f0" d="M120 299h0M120 300h0M120 306h0"/>
<path stroke="#b0def3" d="M112 298h0M102 299h0M116 299h0M118 299h0M118 314h0M116 317h0"/>
<path stroke="#c0e5f4" d="M105 299h0M107 299h0M114 299h0M97 301h0M119 301h0M118 302h0M118 313h0"/>
<path stroke="#cfecf6" d="M110 299h0M117 301h0M118 304h0M118 309h0M118 310h0"/>
<path stroke="#dff2f8" d="M108 299h0M102 300h0M99 301h0M117 302h0M118 307h0M116 314h0"/>
<path stroke="#ebf6eb" d="M111 300h0M114 301h0"/>
<path stroke="#f6fadd" d="M100 301h0M105 301h0M109 301h0M116 304h0"/>
<path stroke="#fbfbce" d="M113 301h0M97 303h0M116 307h0M116 308h0M116 310h0M116 312h0"/>
<path stroke="#fcfbc0" d="M106 301h0M114 303h0M114 316h0"/>
<path stroke="#fdfcb1" d="M113 303h0M114 304h0M115 307h0M115 311h0M114 314h0"/>
<path stroke="#fffca3" d="M99 303h0M113 304h0"/>
<path stroke="#fffa9b" d="M108 302h0M110 303h0"/>
<path stroke="#fff795" d="M114 308h0M111 318h0"/>
<path stroke="#fff48f" d="M101 303h0"/>
<path stroke="#fff189" d="M103 303h0M107 303h0M112 316h0"/>
<path stroke="#ffee83" d="M105 303h0M111 305h0M113 309h0"/>
<path stroke="#ffec7e" d="M112 307h0M113 311h0M112 313h0M112 314h0"/>
<path stroke="#ffe978" d="M106 304h0"/>
<path stroke="#ffe169" d="M99 305h0M111 307h0"/>
<path stroke="#ffd957" d="M108 305h0"/>
<path stroke="#ffd045" d="M111 315h0M110 316h0"/>
<path stroke="#ffbe22" d="M103 305h0M111 309h0"/>
<path stroke="#ffb510" d="M109 307h0"/>
<path stroke="#ff9b05" d="M97 307h0M110 313h0M108 317h0"/>
<path stroke="#ff8e02" d="M110 310h0M108 318h0"/>
<path stroke="#ff8000" d="M98 307h0M107 307h0"/>
<path stroke="#fe6f00" d="M108 309h0"/>
<path stroke="#fb4f00" d="M101 307h0M104 307h0M108 310h0"/>
<path stroke="#fa3e00" d="M103 307h0"/>
<path stroke="#f63100" d="M97 309h0M108 314h0"/>
<path stroke="#f22400" d="M106 309h0M106 318h0"/>
<path stroke="#ea0b00" d="M105 317h0M106 317h0"/>
<path stroke="#e40800" d="M99 309h0M103 309h0M104 309h0M105 318h0"/>
<path stroke="#df0500" d="M106 311h0"/>
<path stroke="#d90100" d="M106 315h0"/>
<path stroke="#d10000" d="M104 310h0M103 318h0"/>
<path stroke="#c80000" d="M99 311h0"/>
<path stroke="#bf0000" d="M100 311h0M102 311h0M104 313h0"/>
<path stroke="#b60000" d="M97 313h0M103 313h0M104 315h0M102 316h0M101 318h0"/>
<path stroke="#ad0000" d="M99 313h0M100 313h0M98 315h0M100 315h0M102 315h0M99 316h0M100 316h0M97 317h0"/>
</g>
</g>
<line x1="48.2" y1="159.1" x2="199.8" y2="13.4" stroke="#7c7c7c" stroke-opacity="0.9" stroke-width="0.8" stroke-dasharray="1.8 1"/>
<polyline points="48.2,154.4 184.6,60.0" fill="none" stroke="#c22c3a" stroke-width="1"/>
<text x="48.5" y="167.5" font-size="8" stroke="#111" stroke-width="0.12" text-anchor="middle">0</text>
<text x="45.6" y="161.7" font-size="8" stroke="#111" stroke-width="0.12" text-anchor="end">0</text>
<text x="73.8" y="167.5" font-size="8" stroke="#111" stroke-width="0.12" text-anchor="middle">5</text>
<text x="45.6" y="137.4" font-size="8" stroke="#111" stroke-width="0.12" text-anchor="end">5</text>
<text x="99.0" y="167.5" font-size="8" stroke="#111" stroke-width="0.12" text-anchor="middle">10</text>
<text x="45.6" y="113.1" font-size="8" stroke="#111" stroke-width="0.12" text-anchor="end">10</text>
<text x="124.3" y="167.5" font-size="8" stroke="#111" stroke-width="0.12" text-anchor="middle">15</text>
<text x="45.6" y="88.8" font-size="8" stroke="#111" stroke-width="0.12" text-anchor="end">15</text>
<text x="149.6" y="167.5" font-size="8" stroke="#111" stroke-width="0.12" text-anchor="middle">20</text>
<text x="45.6" y="64.6" font-size="8" stroke="#111" stroke-width="0.12" text-anchor="end">20</text>
<text x="174.8" y="167.5" font-size="8" stroke="#111" stroke-width="0.12" text-anchor="middle">25</text>
<text x="45.6" y="40.3" font-size="8" stroke="#111" stroke-width="0.12" text-anchor="end">25</text>
<text x="200.1" y="167.5" font-size="8" stroke="#111" stroke-width="0.12" text-anchor="middle">30</text>
<text x="45.6" y="16.0" font-size="8" stroke="#111" stroke-width="0.12" text-anchor="end">30</text>
<text x="51.7" y="23.5" font-size="11.8" stroke="#111" stroke-width="0.15">R²=0.65</text>
<text x="51.7" y="34.6" font-size="11.8" stroke="#111" stroke-width="0.15">RMSE=2.43</text>
<text x="51.7" y="45.8" font-size="11.8" stroke="#111" stroke-width="0.15">MAE=1.68</text>
<text x="51.7" y="57.0" font-size="11.8" stroke="#111" stroke-width="0.15">IOA=0.89</text>
<text x="51.7" y="68.1" font-size="11.8" stroke="#111" stroke-width="0.15">slope=0.72</text>
<text x="141.9" y="149.7" font-size="13.1" font-weight="bold" fill="#161616">NI-LUE</text>
</g>
<g>
<clipPath id="cp2"><rect x="216.7" y="12.9" width="152.6" height="146.7"/></clipPath>
<rect x="217.2" y="13.4" width="151.6" height="145.7" fill="none" stroke="#a2a2a2" stroke-width="0.9"/>
<path d="M217.2 159.6v1.6M216.7 159.1h-1.6M242.5 159.6v1.6M216.7 134.8h-1.6M267.7 159.6v1.6M216.7 110.5h-1.6M293.0 159.6v1.6M216.7 86.2h-1.6M318.3 159.6v1.6M216.7 62.0h-1.6M343.5 159.6v1.6M216.7 37.7h-1.6M368.8 159.6v1.6M216.7 13.4h-1.6" stroke="#a2a2a2" stroke-width="0.7" fill="none"/>
<g clip-path="url(#cp2)">
<g transform="scale(.5)" fill="none" stroke-width="4.6" stroke-linecap="round">
<path stroke="#2b2fa5" d="M484 199h0M491 204h0M473 211h0M488 212h0M473 213h0M469 218h0M456 219h0M460 220h0M471 220h0M473 220h0M663 220h0M468 221h0M452 222h0M467 222h0M472 222h0M460 223h0M471 223h0M468 224h0M449 225h0M456 225h0M465 225h0M621 225h0M459 226h0M643 226h0M645 226h0M461 227h0M465 227h0M628 228h0M657 228h0M449 229h0M457 229h0M632 229h0M628 230h0M453 232h0M642 232h0M455 233h0M456 233h0M644 233h0M662 233h0M668 233h0M442 235h0M452 235h0M455 235h0M638 235h0M447 236h0M640 236h0M669 236h0M443 237h0M449 237h0M451 237h0M452 237h0M620 237h0M639 237h0M447 239h0M449 239h0M450 239h0M614 239h0M667 239h0M445 240h0M447 240h0M618 240h0M620 240h0M661 240h0M443 241h0M445 242h0M443 243h0M446 243h0M644 243h0M441 244h0M610 244h0M651 244h0M444 245h0M627 245h0M638 245h0M636 246h0M666 246h0M607 248h0M612 248h0M628 248h0M440 249h0M621 249h0M438 250h0M435 251h0M614 251h0M626 251h0M630 251h0M646 251h0M675 251h0M435 252h0M609 252h0M680 252h0M437 253h0M618 253h0M627 253h0M626 254h0M689 254h0M615 255h0M645 255h0M671 255h0M628 257h0M632 257h0M685 257h0M623 258h0M647 258h0M614 259h0M652 259h0M697 259h0M598 260h0M602 260h0M632 260h0M617 261h0M622 261h0M627 261h0M664 261h0M702 261h0M617 262h0M628 262h0M634 262h0M637 262h0M606 263h0M658 263h0M697 263h0M603 264h0M623 264h0M628 264h0M601 265h0M606 265h0M621 265h0M667 265h0M671 265h0M594 266h0M618 266h0M638 266h0M603 268h0M612 268h0M627 268h0M593 269h0M624 269h0M641 269h0M687 270h0M591 271h0M605 271h0M620 271h0M626 271h0M614 272h0M621 272h0M641 272h0M598 273h0M608 274h0M614 274h0M588 275h0M620 275h0M622 275h0M625 275h0M593 276h0M594 276h0M620 276h0M583 277h0M600 277h0M615 277h0M618 277h0M586 278h0M588 278h0M610 278h0M616 278h0M613 279h0M623 279h0M579 281h0M587 281h0M589 281h0M608 281h0M591 282h0M616 282h0M579 283h0M599 283h0M601 283h0M607 283h0M614 283h0M584 284h0M594 285h0M602 285h0M576 286h0M585 287h0M635 287h0M608 289h0M576 291h0M594 291h0M586 292h0M567 293h0M576 293h0M564 295h0M584 295h0M586 295h0M565 296h0M575 296h0M560 300h0M564 300h0M567 301h0M583 301h0M555 302h0M557 302h0M562 303h0M562 304h0M567 305h0M555 306h0M556 306h0M549 308h0M572 308h0M544 315h0M535 317h0"/>
<path stroke="#2c3baf" d="M602 196h0M524 201h0M511 204h0M518 206h0M523 208h0M527 208h0M511 209h0M519 209h0M509 210h0M511 211h0M513 211h0M494 212h0M497 212h0M507 212h0M509 212h0M511 212h0M502 213h0M497 214h0M503 214h0M487 215h0M495 215h0M504 215h0M510 215h0M499 216h0M494 217h0M503 217h0M505 217h0M506 217h0M510 217h0M485 218h0M491 218h0M495 218h0M497 218h0M493 219h0M499 219h0M500 219h0M503 219h0M504 219h0M507 219h0M482 220h0M499 220h0M503 220h0M608 220h0M475 221h0M476 221h0M478 221h0M481 221h0M491 221h0M493 221h0M494 221h0M497 221h0M500 221h0M621 221h0M477 222h0M488 222h0M499 222h0M501 222h0M483 223h0M485 223h0M487 223h0M491 223h0M493 223h0M495 223h0M475 224h0M483 224h0M486 224h0M470 225h0M473 225h0M477 225h0M478 225h0M480 225h0M485 225h0M489 225h0M493 225h0M496 225h0M469 226h0M481 226h0M483 226h0M485 226h0M488 226h0M495 226h0M603 226h0M470 227h0M473 227h0M474 227h0M476 227h0M479 227h0M487 227h0M493 227h0M610 227h0M604 228h0M467 229h0M470 229h0M472 229h0M474 229h0M477 229h0M479 229h0M480 229h0M483 229h0M485 229h0M489 229h0M490 229h0M616 229h0M463 230h0M466 230h0M471 230h0M479 230h0M480 230h0M484 230h0M486 230h0M465 231h0M468 231h0M472 231h0M474 231h0M477 231h0M483 231h0M488 231h0M601 231h0M607 231h0M465 232h0M469 232h0M472 232h0M475 232h0M477 232h0M480 232h0M482 232h0M460 233h0M462 233h0M467 233h0M471 233h0M479 233h0M602 233h0M607 233h0M462 234h0M475 234h0M602 234h0M457 235h0M459 235h0M461 235h0M465 235h0M466 235h0M469 235h0M471 235h0M473 235h0M476 235h0M478 235h0M481 235h0M457 236h0M461 236h0M598 236h0M455 237h0M459 237h0M463 237h0M465 237h0M467 237h0M469 237h0M471 237h0M473 237h0M474 237h0M477 237h0M478 237h0M609 237h0M455 238h0M469 238h0M609 238h0M453 239h0M457 239h0M458 239h0M462 239h0M465 239h0M467 239h0M471 239h0M472 239h0M598 239h0M612 239h0M452 240h0M459 240h0M460 240h0M599 240h0M455 241h0M457 241h0M462 241h0M464 241h0M467 241h0M469 241h0M470 241h0M595 241h0M596 241h0M601 241h0M465 242h0M467 242h0M597 242h0M448 243h0M450 243h0M452 243h0M454 243h0M459 243h0M461 243h0M469 243h0M470 243h0M447 244h0M449 244h0M454 244h0M461 244h0M599 244h0M600 244h0M450 245h0M453 245h0M456 245h0M462 245h0M465 245h0M467 245h0M595 245h0M451 246h0M463 246h0M602 246h0M443 247h0M445 247h0M447 247h0M448 247h0M452 247h0M454 247h0M461 247h0M597 247h0M604 247h0M456 248h0M592 248h0M594 248h0M596 248h0M443 249h0M445 249h0M447 249h0M448 249h0M451 249h0M452 249h0M459 249h0M445 250h0M455 250h0M598 250h0M602 250h0M443 251h0M446 251h0M449 251h0M451 251h0M453 251h0M457 251h0M588 251h0M592 251h0M445 252h0M589 252h0M591 252h0M604 252h0M440 253h0M443 253h0M446 253h0M448 253h0M451 253h0M440 254h0M447 254h0M591 254h0M598 254h0M436 255h0M438 255h0M443 255h0M444 255h0M449 255h0M450 255h0M592 255h0M437 256h0M445 256h0M449 256h0M450 256h0M441 257h0M443 257h0M446 257h0M584 258h0M594 258h0M598 258h0M435 259h0M436 259h0M439 259h0M440 259h0M443 259h0M445 259h0M583 259h0M588 259h0M435 260h0M441 260h0M596 260h0M436 261h0M443 261h0M588 261h0M436 262h0M578 262h0M580 262h0M434 263h0M438 263h0M442 263h0M585 263h0M437 264h0M439 264h0M443 264h0M581 264h0M592 264h0M441 265h0M577 265h0M435 266h0M437 266h0M439 266h0M574 266h0M578 266h0M581 266h0M583 266h0M576 267h0M577 268h0M435 269h0M571 270h0M572 270h0M577 271h0M574 273h0M578 273h0M579 274h0M563 275h0M568 275h0M576 275h0M574 276h0M564 277h0M560 279h0M570 279h0M576 279h0M561 282h0M563 282h0M554 284h0M558 284h0M576 284h0M559 286h0M561 286h0M567 286h0M549 287h0M554 287h0M572 287h0M549 289h0M562 289h0M547 290h0M564 290h0M552 291h0M567 291h0M543 292h0M545 293h0M547 293h0M539 294h0M562 294h0M539 296h0M534 298h0M550 298h0M555 298h0M541 299h0M551 301h0M537 303h0M549 304h0M531 305h0M520 306h0M536 307h0M542 307h0M517 309h0M518 309h0M537 309h0M515 310h0M534 314h0M518 318h0"/>
<path stroke="#2d43b5" d="M555 205h0M531 209h0M535 211h0M536 211h0M590 211h0M521 212h0M529 212h0M534 212h0M536 212h0M519 213h0M522 213h0M531 213h0M601 213h0M525 214h0M532 214h0M591 214h0M521 215h0M526 215h0M529 215h0M522 216h0M513 217h0M515 217h0M517 217h0M518 217h0M520 217h0M592 217h0M595 217h0M512 218h0M515 218h0M517 218h0M519 218h0M525 218h0M509 219h0M511 219h0M520 219h0M515 220h0M596 220h0M505 221h0M506 221h0M508 221h0M510 221h0M513 221h0M517 221h0M591 221h0M505 222h0M507 222h0M510 222h0M503 223h0M509 223h0M513 223h0M515 223h0M596 223h0M502 224h0M511 224h0M591 224h0M500 225h0M505 225h0M506 225h0M509 225h0M496 227h0M499 227h0M503 227h0M505 227h0M506 227h0M592 227h0M590 228h0M494 229h0M497 229h0M499 229h0M500 229h0M503 229h0M504 229h0M595 229h0M490 230h0M500 230h0M493 231h0M494 231h0M497 231h0M499 231h0M589 231h0M594 231h0M495 232h0M592 232h0M595 232h0M484 233h0M487 233h0M491 233h0M493 233h0M496 233h0M590 233h0M488 234h0M588 234h0M591 234h0M594 234h0M483 235h0M485 235h0M491 235h0M492 235h0M495 235h0M483 236h0M588 236h0M591 236h0M481 237h0M485 237h0M486 237h0M489 237h0M490 237h0M481 238h0M485 238h0M586 238h0M588 238h0M594 238h0M477 239h0M482 239h0M487 239h0M476 240h0M481 240h0M487 240h0M588 240h0M590 240h0M473 241h0M474 241h0M483 241h0M485 241h0M587 241h0M479 242h0M587 242h0M589 242h0M592 242h0M473 243h0M475 243h0M481 243h0M483 243h0M584 243h0M591 243h0M473 244h0M475 244h0M584 244h0M588 244h0M468 245h0M471 245h0M477 245h0M479 245h0M582 245h0M587 245h0M591 245h0M469 246h0M580 246h0M582 246h0M585 246h0M465 247h0M467 247h0M471 247h0M473 247h0M474 247h0M476 247h0M463 248h0M578 248h0M581 248h0M588 248h0M461 249h0M464 249h0M467 249h0M468 249h0M470 249h0M472 249h0M463 250h0M468 250h0M471 250h0M578 250h0M580 250h0M587 250h0M459 251h0M461 251h0M464 251h0M466 251h0M458 252h0M465 252h0M466 252h0M469 252h0M578 252h0M582 252h0M585 252h0M586 252h0M455 253h0M456 253h0M461 253h0M463 253h0M461 254h0M578 254h0M584 254h0M453 255h0M454 255h0M457 255h0M459 255h0M462 255h0M577 255h0M580 255h0M582 255h0M455 256h0M458 256h0M578 256h0M580 256h0M453 257h0M461 257h0M462 257h0M574 257h0M577 257h0M572 258h0M577 258h0M579 258h0M580 258h0M449 259h0M450 259h0M453 259h0M455 259h0M456 259h0M459 259h0M571 259h0M574 259h0M447 260h0M453 260h0M570 260h0M572 260h0M445 261h0M449 261h0M451 261h0M455 261h0M568 261h0M575 261h0M576 261h0M453 262h0M568 262h0M570 262h0M574 262h0M445 263h0M446 263h0M448 263h0M451 263h0M572 263h0M451 264h0M568 264h0M571 264h0M572 264h0M445 265h0M446 265h0M449 265h0M566 265h0M443 266h0M449 266h0M573 266h0M441 267h0M445 267h0M447 267h0M564 267h0M570 267h0M441 268h0M568 268h0M570 268h0M437 269h0M438 269h0M443 269h0M445 269h0M447 269h0M562 269h0M565 269h0M439 270h0M559 270h0M561 270h0M564 270h0M566 270h0M437 271h0M443 271h0M444 271h0M558 272h0M563 272h0M437 273h0M439 273h0M441 273h0M439 274h0M553 274h0M555 274h0M556 274h0M437 275h0M435 276h0M551 276h0M554 276h0M556 276h0M547 278h0M550 278h0M552 278h0M546 280h0M549 280h0M544 281h0M551 281h0M543 282h0M548 282h0M551 282h0M549 284h0M541 285h0M545 285h0M539 286h0M542 286h0M545 288h0M536 291h0M532 292h0M537 292h0M534 293h0M534 294h0M530 295h0M524 296h0M532 296h0M523 298h0M524 298h0M522 300h0M525 302h0M521 304h0M508 306h0M515 307h0M515 309h0M512 310h0M497 313h0M502 313h0M497 316h0"/>
<path stroke="#2d4bbc" d="M563 206h0M560 208h0M557 210h0M559 210h0M553 211h0M574 212h0M548 213h0M552 213h0M565 213h0M572 213h0M578 213h0M542 214h0M569 214h0M545 215h0M550 215h0M531 216h0M540 216h0M574 216h0M527 217h0M532 217h0M535 217h0M538 217h0M535 218h0M523 219h0M527 219h0M529 219h0M531 219h0M533 219h0M522 220h0M531 220h0M589 220h0M519 221h0M521 221h0M524 221h0M527 222h0M516 223h0M519 223h0M521 223h0M525 223h0M578 223h0M583 223h0M584 223h0M518 224h0M580 224h0M588 224h0M512 225h0M515 225h0M520 225h0M522 225h0M579 225h0M513 226h0M516 226h0M519 226h0M580 226h0M582 226h0M584 226h0M587 226h0M509 227h0M510 227h0M514 227h0M511 228h0M515 228h0M582 228h0M506 229h0M508 229h0M579 229h0M581 229h0M505 230h0M507 230h0M512 230h0M585 230h0M586 230h0M503 231h0M509 231h0M510 231h0M580 232h0M586 232h0M588 232h0M499 233h0M501 233h0M502 233h0M504 233h0M582 233h0M584 233h0M499 234h0M503 234h0M579 234h0M580 234h0M586 234h0M496 235h0M500 235h0M584 235h0M499 236h0M501 236h0M580 236h0M582 236h0M586 236h0M493 237h0M494 237h0M579 237h0M584 237h0M491 238h0M494 238h0M580 238h0M582 238h0M584 238h0M489 239h0M492 239h0M497 239h0M578 239h0M580 240h0M583 240h0M488 241h0M490 241h0M493 241h0M579 241h0M584 241h0M574 242h0M578 242h0M580 242h0M582 242h0M487 243h0M488 243h0M574 244h0M576 244h0M480 245h0M482 245h0M485 245h0M578 245h0M580 245h0M478 246h0M480 246h0M482 246h0M573 246h0M575 246h0M578 246h0M576 247h0M480 248h0M574 248h0M576 248h0M474 249h0M478 249h0M572 249h0M475 250h0M477 250h0M572 250h0M576 250h0M570 251h0M574 251h0M470 252h0M571 252h0M572 252h0M473 253h0M474 253h0M568 253h0M574 253h0M568 254h0M570 254h0M574 254h0M467 255h0M469 255h0M471 255h0M472 255h0M565 255h0M566 255h0M570 256h0M572 256h0M466 257h0M470 257h0M564 257h0M566 257h0M463 258h0M564 258h0M461 259h0M563 259h0M568 259h0M465 260h0M563 260h0M566 260h0M457 261h0M459 261h0M461 261h0M463 261h0M560 261h0M560 262h0M564 262h0M455 263h0M457 263h0M459 263h0M461 263h0M558 263h0M563 263h0M453 264h0M562 264h0M455 265h0M457 265h0M556 265h0M558 265h0M561 265h0M555 266h0M559 266h0M560 266h0M562 266h0M451 267h0M453 267h0M455 267h0M556 267h0M451 268h0M449 269h0M453 269h0M551 269h0M553 269h0M449 270h0M452 270h0M447 271h0M553 271h0M554 271h0M445 272h0M447 272h0M552 272h0M443 273h0M546 273h0M549 273h0M550 273h0M444 274h0M547 274h0M548 274h0M440 275h0M443 275h0M545 275h0M550 275h0M443 276h0M543 276h0M544 276h0M546 276h0M548 276h0M439 277h0M544 278h0M437 279h0M438 279h0M440 279h0M540 279h0M542 279h0M437 280h0M538 280h0M543 280h0M435 281h0M536 281h0M435 282h0M540 282h0M436 283h0M536 283h0M539 283h0M532 284h0M534 285h0M528 286h0M531 286h0M532 286h0M527 288h0M532 288h0M525 290h0M529 290h0M526 291h0M524 292h0M527 292h0M519 293h0M521 293h0M522 293h0M522 295h0M516 298h0M513 299h0M511 300h0M509 301h0M511 302h0M512 302h0M506 303h0M509 303h0M504 304h0M509 304h0M506 305h0M504 306h0M506 306h0M502 307h0M497 308h0M501 308h0M493 310h0M499 311h0M489 314h0M486 316h0M482 317h0M484 317h0M481 318h0M482 318h0M487 318h0"/>
<path stroke="#2e53c3" d="M548 215h0M562 215h0M547 216h0M550 216h0M552 216h0M542 217h0M544 217h0M556 217h0M540 218h0M557 218h0M563 218h0M566 218h0M536 219h0M542 219h0M544 219h0M547 219h0M551 219h0M552 219h0M555 219h0M559 219h0M564 219h0M574 219h0M536 220h0M538 220h0M549 220h0M558 220h0M570 220h0M574 220h0M533 221h0M535 221h0M541 221h0M543 221h0M545 221h0M547 221h0M553 221h0M554 221h0M560 221h0M568 221h0M572 221h0M566 222h0M572 222h0M529 223h0M531 223h0M533 223h0M535 223h0M537 223h0M539 223h0M527 224h0M530 224h0M569 224h0M572 224h0M529 225h0M533 225h0M570 225h0M572 226h0M520 227h0M523 227h0M525 227h0M526 227h0M528 227h0M518 228h0M524 228h0M572 228h0M576 228h0M516 229h0M520 229h0M522 229h0M514 230h0M518 230h0M570 230h0M572 230h0M576 230h0M516 231h0M578 231h0M509 232h0M513 232h0M570 232h0M574 232h0M507 233h0M511 233h0M515 233h0M572 233h0M572 234h0M576 234h0M505 235h0M506 235h0M509 235h0M571 235h0M574 235h0M506 236h0M574 236h0M502 237h0M504 237h0M573 237h0M576 237h0M502 238h0M570 238h0M573 238h0M499 239h0M500 239h0M574 239h0M576 239h0M573 240h0M574 240h0M495 241h0M497 241h0M499 241h0M494 242h0M492 243h0M566 243h0M572 243h0M566 244h0M568 244h0M487 245h0M488 245h0M491 245h0M570 245h0M490 246h0M566 246h0M570 246h0M485 247h0M487 247h0M489 247h0M564 247h0M568 247h0M566 248h0M568 248h0M570 248h0M484 249h0M486 249h0M564 249h0M562 250h0M567 250h0M479 251h0M481 251h0M483 251h0M564 251h0M477 252h0M478 252h0M562 252h0M481 253h0M560 253h0M566 253h0M474 255h0M477 255h0M563 255h0M475 256h0M476 256h0M558 256h0M562 256h0M561 257h0M469 258h0M471 258h0M556 258h0M559 258h0M560 258h0M467 259h0M554 260h0M556 260h0M558 260h0M467 261h0M468 261h0M552 262h0M554 262h0M557 262h0M462 263h0M465 263h0M463 264h0M459 265h0M461 265h0M551 265h0M554 265h0M547 266h0M548 266h0M551 266h0M552 266h0M457 267h0M455 268h0M546 268h0M457 269h0M544 269h0M548 269h0M545 270h0M546 270h0M548 270h0M455 271h0M543 271h0M453 272h0M543 272h0M449 273h0M451 273h0M543 274h0M447 275h0M449 275h0M541 275h0M445 276h0M536 276h0M447 277h0M540 277h0M534 278h0M538 278h0M443 279h0M444 279h0M441 280h0M532 280h0M534 280h0M442 282h0M528 282h0M438 283h0M530 283h0M437 284h0M438 284h0M528 285h0M523 286h0M435 287h0M526 287h0M522 288h0M521 289h0M521 290h0M515 292h0M516 292h0M514 294h0M516 294h0M514 296h0M508 297h0M510 297h0M506 298h0M508 298h0M504 300h0M500 302h0M504 302h0M502 303h0M498 304h0M494 310h0M482 314h0M484 314h0M480 315h0M479 316h0M480 316h0"/>
<path stroke="#2e5bc9" d="M556 222h0M558 222h0M540 223h0M543 223h0M544 223h0M547 223h0M549 223h0M553 223h0M554 223h0M561 223h0M540 224h0M546 224h0M551 224h0M557 224h0M560 224h0M535 225h0M536 225h0M539 225h0M542 225h0M545 225h0M553 225h0M554 225h0M559 225h0M562 225h0M565 225h0M534 226h0M553 226h0M558 226h0M560 226h0M530 227h0M533 227h0M536 227h0M539 227h0M540 227h0M545 227h0M546 227h0M549 227h0M554 227h0M557 227h0M563 227h0M564 227h0M566 227h0M531 228h0M535 228h0M555 228h0M564 228h0M527 229h0M529 229h0M533 229h0M537 229h0M557 229h0M558 229h0M560 229h0M563 229h0M566 229h0M568 229h0M527 230h0M562 230h0M522 231h0M525 231h0M529 231h0M557 231h0M558 231h0M560 231h0M564 231h0M567 231h0M568 231h0M561 232h0M566 232h0M568 232h0M516 233h0M520 233h0M522 233h0M524 233h0M562 233h0M564 233h0M514 234h0M564 234h0M566 234h0M568 234h0M513 235h0M517 235h0M562 235h0M512 236h0M562 236h0M567 236h0M568 236h0M509 237h0M515 237h0M560 237h0M564 237h0M508 238h0M510 238h0M560 238h0M562 238h0M566 238h0M568 238h0M505 239h0M507 239h0M565 239h0M562 240h0M566 240h0M501 241h0M503 241h0M504 241h0M506 241h0M561 241h0M560 242h0M562 242h0M497 243h0M499 243h0M501 243h0M558 244h0M562 244h0M564 244h0M497 245h0M499 245h0M560 245h0M561 246h0M493 247h0M494 247h0M558 247h0M562 247h0M495 248h0M557 248h0M561 248h0M562 248h0M489 249h0M491 249h0M559 249h0M558 250h0M485 251h0M486 251h0M489 251h0M556 251h0M556 252h0M483 253h0M558 253h0M554 254h0M556 254h0M558 254h0M479 255h0M480 255h0M552 255h0M552 256h0M554 256h0M556 257h0M477 258h0M551 258h0M552 258h0M554 258h0M473 259h0M475 259h0M549 260h0M551 260h0M552 260h0M471 261h0M473 261h0M468 262h0M548 262h0M466 263h0M470 263h0M546 263h0M465 265h0M466 265h0M544 265h0M546 265h0M543 266h0M545 266h0M461 267h0M462 267h0M461 268h0M541 268h0M543 269h0M541 270h0M458 271h0M539 271h0M539 272h0M540 272h0M454 273h0M536 274h0M451 275h0M452 275h0M534 275h0M451 276h0M448 277h0M530 277h0M532 277h0M535 277h0M532 278h0M446 279h0M448 279h0M528 279h0M530 280h0M442 281h0M445 281h0M527 281h0M528 281h0M526 283h0M522 285h0M524 285h0M436 287h0M519 287h0M520 287h0M435 289h0M516 289h0M514 290h0M516 290h0M511 294h0M509 295h0M504 297h0M503 299h0M501 301h0M496 302h0M495 303h0M496 304h0M495 305h0M487 308h0M488 308h0M490 308h0M485 309h0M481 311h0M483 312h0M477 314h0M478 314h0M475 316h0M476 316h0M470 318h0"/>
<path stroke="#2f63cf" d="M539 229h0M541 229h0M543 229h0M545 229h0M546 229h0M548 229h0M553 229h0M533 230h0M536 230h0M545 230h0M530 231h0M534 231h0M538 231h0M541 231h0M542 231h0M546 231h0M549 231h0M550 231h0M554 231h0M530 232h0M541 232h0M543 232h0M544 232h0M553 232h0M558 232h0M527 233h0M528 233h0M533 233h0M534 233h0M536 233h0M539 233h0M546 233h0M549 233h0M557 233h0M523 234h0M530 234h0M535 234h0M536 234h0M545 234h0M546 234h0M553 234h0M554 234h0M556 234h0M519 235h0M521 235h0M525 235h0M527 235h0M529 235h0M548 235h0M550 235h0M558 235h0M517 236h0M518 236h0M521 237h0M523 237h0M524 237h0M550 237h0M552 237h0M555 237h0M559 237h0M514 238h0M520 238h0M550 238h0M553 238h0M556 238h0M558 238h0M513 239h0M517 239h0M519 239h0M554 239h0M553 240h0M554 240h0M558 240h0M508 241h0M510 241h0M556 241h0M557 242h0M558 242h0M505 243h0M507 243h0M509 243h0M552 243h0M554 243h0M503 244h0M501 245h0M552 245h0M555 245h0M552 246h0M497 247h0M499 247h0M500 247h0M554 247h0M552 248h0M493 249h0M550 249h0M555 249h0M550 250h0M552 250h0M490 251h0M492 251h0M555 251h0M490 252h0M550 252h0M552 252h0M554 252h0M487 253h0M488 253h0M548 253h0M548 254h0M482 255h0M485 255h0M487 255h0M547 255h0M550 255h0M481 256h0M546 256h0M549 256h0M483 257h0M547 258h0M478 259h0M544 259h0M543 260h0M544 260h0M475 261h0M476 261h0M546 261h0M543 262h0M544 263h0M543 264h0M468 265h0M540 265h0M465 266h0M538 266h0M540 266h0M536 268h0M463 269h0M538 269h0M460 270h0M536 270h0M534 271h0M533 272h0M536 272h0M457 273h0M534 273h0M530 274h0M532 274h0M455 275h0M454 276h0M528 276h0M452 277h0M526 277h0M526 278h0M524 279h0M522 280h0M447 281h0M524 281h0M447 282h0M521 282h0M444 283h0M522 283h0M443 284h0M518 285h0M520 285h0M440 286h0M439 287h0M516 287h0M436 289h0M438 289h0M512 289h0M514 289h0M510 290h0M512 290h0M508 292h0M510 292h0M506 294h0M503 296h0M500 298h0M493 304h0M490 306h0M485 307h0M486 307h0M488 307h0M477 312h0M480 312h0M478 313h0M475 314h0M470 316h0M472 316h0"/>
<path stroke="#3169d1" d="M533 235h0M538 235h0M541 235h0M542 235h0M541 236h0M526 237h0M528 237h0M530 237h0M532 237h0M535 237h0M537 237h0M538 237h0M543 237h0M545 237h0M546 237h0M549 237h0M527 238h0M548 238h0M522 239h0M524 239h0M529 239h0M531 239h0M532 239h0M534 239h0M537 239h0M538 239h0M540 239h0M543 239h0M544 239h0M546 239h0M520 240h0M517 241h0M519 241h0M522 241h0M540 241h0M542 241h0M545 241h0M548 241h0M551 241h0M519 242h0M510 243h0M513 243h0M515 243h0M544 243h0M548 243h0M509 244h0M515 244h0M546 244h0M507 245h0M511 245h0M545 245h0M548 245h0M550 245h0M506 246h0M548 246h0M550 246h0M503 247h0M505 247h0M509 247h0M544 247h0M546 247h0M545 248h0M497 249h0M498 249h0M501 249h0M502 249h0M546 249h0M548 249h0M497 250h0M498 250h0M546 250h0M494 251h0M545 251h0M548 251h0M546 252h0M493 253h0M543 253h0M544 253h0M492 254h0M544 254h0M489 255h0M491 255h0M542 255h0M542 256h0M485 257h0M486 257h0M488 257h0M539 257h0M540 257h0M485 258h0M542 258h0M481 259h0M482 259h0M540 259h0M481 260h0M540 261h0M537 262h0M539 262h0M474 263h0M476 263h0M538 264h0M471 265h0M473 265h0M474 265h0M534 265h0M536 265h0M533 266h0M534 266h0M536 266h0M469 267h0M533 268h0M534 268h0M465 269h0M466 269h0M531 269h0M530 270h0M532 270h0M462 271h0M530 272h0M459 273h0M461 273h0M526 274h0M528 274h0M457 275h0M458 275h0M524 277h0M453 278h0M521 278h0M451 279h0M521 280h0M449 281h0M518 282h0M448 283h0M517 283h0M516 284h0M444 285h0M514 285h0M444 286h0M514 286h0M442 287h0M512 287h0M509 289h0M510 289h0M506 290h0M508 291h0M505 292h0M506 292h0M502 293h0M503 294h0M504 294h0M501 296h0M499 297h0M496 298h0M495 300h0M489 304h0M483 308h0M479 310h0M475 312h0M472 314h0M469 315h0M467 317h0M465 318h0M467 318h0"/>
<path stroke="#3370d3" d="M534 240h0M524 241h0M527 241h0M528 241h0M530 241h0M532 241h0M537 241h0M539 241h0M524 242h0M530 242h0M533 242h0M538 242h0M520 243h0M523 243h0M526 243h0M528 243h0M534 243h0M536 243h0M540 243h0M517 244h0M522 244h0M526 244h0M541 244h0M513 245h0M519 245h0M524 245h0M529 245h0M531 245h0M532 245h0M534 245h0M536 245h0M542 245h0M513 246h0M517 246h0M540 246h0M511 247h0M514 247h0M534 247h0M536 247h0M538 247h0M542 247h0M540 248h0M504 249h0M506 249h0M509 249h0M538 249h0M503 250h0M505 250h0M537 250h0M538 250h0M500 251h0M540 251h0M542 251h0M538 252h0M541 252h0M495 253h0M497 253h0M499 253h0M501 253h0M536 253h0M536 254h0M538 254h0M494 255h0M536 256h0M538 258h0M487 259h0M534 259h0M482 261h0M484 261h0M534 261h0M536 261h0M479 262h0M534 262h0M481 263h0M476 264h0M531 264h0M532 264h0M528 266h0M531 266h0M471 267h0M472 267h0M528 268h0M470 269h0M527 269h0M467 270h0M526 270h0M528 270h0M465 271h0M463 272h0M465 272h0M526 272h0M522 274h0M524 274h0M460 275h0M521 276h0M522 276h0M457 277h0M459 277h0M518 278h0M454 279h0M516 279h0M515 280h0M517 280h0M518 280h0M451 281h0M453 281h0M514 283h0M512 284h0M446 285h0M508 286h0M511 286h0M442 288h0M441 289h0M506 289h0M437 291h0M438 291h0M435 293h0M499 294h0M500 295h0M497 296h0M493 298h0M494 298h0M491 300h0M492 300h0M488 302h0M486 304h0M482 306h0M479 308h0M480 308h0M476 310h0M473 312h0M468 316h0"/>
<path stroke="#3576d4" d="M519 247h0M521 247h0M522 247h0M524 247h0M526 247h0M529 247h0M531 247h0M532 247h0M528 248h0M531 248h0M511 249h0M513 249h0M514 249h0M517 249h0M518 249h0M520 249h0M523 249h0M524 249h0M527 249h0M532 249h0M535 249h0M511 250h0M512 250h0M516 250h0M521 250h0M523 250h0M524 250h0M530 250h0M507 251h0M508 251h0M528 251h0M532 251h0M534 251h0M512 252h0M532 252h0M534 252h0M503 253h0M505 253h0M529 253h0M530 253h0M502 254h0M530 254h0M496 255h0M498 255h0M501 255h0M533 255h0M534 255h0M495 256h0M534 256h0M491 257h0M492 257h0M531 257h0M532 257h0M530 258h0M489 259h0M491 259h0M492 259h0M528 260h0M530 260h0M532 260h0M487 261h0M527 261h0M527 262h0M530 262h0M483 263h0M484 263h0M479 264h0M526 264h0M529 265h0M526 266h0M474 267h0M473 268h0M524 268h0M522 269h0M469 270h0M524 270h0M522 271h0M520 272h0M522 272h0M463 274h0M464 274h0M519 274h0M517 275h0M516 276h0M519 276h0M458 278h0M514 278h0M457 279h0M512 280h0M511 282h0M512 282h0M453 283h0M508 284h0M510 284h0M448 285h0M447 286h0M506 286h0M504 288h0M503 290h0M500 292h0M436 293h0M499 293h0M494 296h0M490 299h0M487 301h0M487 302h0M484 304h0M479 307h0M480 307h0M477 308h0M475 309h0M471 312h0M467 314h0M463 317h0M463 318h0"/>
<path stroke="#377dd6" d="M518 251h0M522 252h0M526 252h0M507 253h0M510 253h0M514 253h0M517 253h0M520 253h0M524 253h0M508 254h0M514 254h0M516 254h0M505 255h0M506 255h0M513 255h0M519 255h0M520 255h0M526 255h0M528 255h0M499 256h0M505 256h0M509 256h0M524 256h0M528 256h0M497 257h0M501 257h0M502 257h0M522 257h0M526 257h0M522 258h0M496 259h0M524 259h0M526 259h0M528 259h0M494 260h0M525 260h0M488 261h0M491 261h0M493 261h0M522 261h0M522 262h0M524 262h0M521 264h0M524 264h0M482 265h0M522 265h0M520 266h0M524 266h0M477 267h0M479 267h0M523 267h0M520 268h0M474 269h0M518 270h0M470 271h0M469 272h0M516 272h0M466 273h0M518 273h0M514 276h0M461 277h0M512 277h0M513 278h0M455 281h0M508 281h0M454 282h0M508 282h0M452 284h0M504 285h0M448 287h0M504 287h0M501 288h0M502 288h0M500 290h0M498 291h0M440 292h0M497 292h0M493 294h0M494 294h0M496 294h0M435 295h0M491 296h0M492 296h0M488 299h0M485 302h0M472 310h0M468 313h0M464 315h0"/>
<path stroke="#3983d8" d="M516 256h0M506 257h0M510 257h0M512 257h0M514 257h0M519 257h0M520 257h0M516 258h0M503 259h0M506 259h0M508 259h0M511 259h0M518 259h0M520 259h0M516 260h0M497 261h0M498 261h0M500 261h0M518 261h0M520 261h0M491 262h0M494 262h0M518 262h0M489 263h0M493 263h0M516 263h0M520 263h0M489 264h0M516 264h0M518 264h0M484 265h0M486 265h0M483 266h0M516 266h0M518 266h0M481 267h0M479 268h0M481 268h0M516 268h0M518 268h0M477 269h0M514 269h0M515 270h0M473 271h0M474 271h0M516 271h0M471 272h0M514 273h0M514 274h0M466 275h0M510 276h0M462 277h0M508 278h0M510 278h0M461 279h0M457 281h0M506 281h0M504 283h0M450 285h0M503 285h0M501 286h0M502 286h0M498 288h0M447 289h0M443 291h0M496 291h0M494 292h0M439 294h0M489 296h0M486 299h0M485 300h0M482 302h0M477 306h0M468 311h0M470 311h0"/>
<path stroke="#3b8ad9" d="M505 260h0M508 260h0M512 260h0M503 261h0M511 261h0M511 262h0M498 263h0M502 263h0M505 263h0M506 263h0M509 263h0M512 263h0M514 263h0M495 264h0M499 264h0M490 265h0M493 265h0M510 265h0M512 265h0M487 266h0M510 266h0M512 266h0M514 266h0M485 267h0M485 268h0M513 268h0M510 269h0M510 270h0M476 271h0M512 271h0M474 272h0M512 272h0M472 273h0M508 273h0M510 273h0M472 274h0M508 274h0M511 274h0M468 275h0M509 276h0M465 277h0M506 278h0M463 279h0M504 280h0M458 281h0M501 283h0M502 283h0M500 284h0M498 286h0M451 287h0M494 291h0M443 292h0M492 292h0M490 294h0M489 295h0M485 298h0M480 302h0M479 303h0M478 304h0M476 305h0M474 306h0M472 308h0"/>
<path stroke="#4292dc" d="M501 263h0M501 264h0M506 264h0M496 265h0M503 265h0M504 265h0M508 265h0M494 266h0M499 266h0M500 266h0M489 267h0M491 267h0M503 267h0M504 267h0M506 267h0M508 267h0M490 268h0M508 268h0M483 269h0M487 269h0M505 270h0M507 270h0M483 271h0M508 271h0M477 273h0M504 273h0M506 273h0M505 274h0M506 274h0M471 275h0M504 276h0M506 276h0M466 277h0M466 278h0M502 278h0M464 279h0M461 280h0M501 280h0M502 280h0M458 282h0M457 283h0M498 284h0M497 286h0M451 288h0M449 289h0M492 290h0M445 291h0M446 291h0M490 292h0M437 295h0M482 300h0M480 301h0M470 308h0M468 309h0"/>
<path stroke="#4b9bdf" d="M497 267h0M489 268h0M493 268h0M497 268h0M501 268h0M494 269h0M498 269h0M502 269h0M504 269h0M488 270h0M501 270h0M502 270h0M485 271h0M501 272h0M502 272h0M478 273h0M474 275h0M500 275h0M502 275h0M469 277h0M500 278h0M499 279h0M498 280h0M461 282h0M498 282h0M457 284h0M458 284h0M455 285h0M496 285h0M494 286h0M453 287h0M493 288h0M449 290h0M489 291h0M490 291h0M488 293h0M484 296h0M476 303h0M472 306h0M466 310h0M464 312h0M462 314h0M460 315h0M460 316h0"/>
<path stroke="#54a4e2" d="M487 271h0M490 271h0M492 271h0M495 271h0M496 271h0M498 271h0M489 272h0M481 273h0M482 273h0M484 273h0M487 273h0M492 273h0M496 273h0M498 273h0M483 274h0M476 275h0M479 275h0M497 275h0M498 275h0M474 276h0M470 277h0M473 277h0M496 277h0M496 278h0M469 279h0M495 279h0M466 280h0M463 281h0M465 281h0M496 281h0M494 282h0M496 282h0M492 284h0M494 284h0M492 286h0M455 287h0M490 289h0M486 292h0M445 293h0M443 294h0M479 299h0M478 300h0M475 303h0M471 305h0M470 306h0M462 312h0"/>
<path stroke="#5dade6" d="M491 273h0M489 274h0M485 275h0M491 275h0M493 275h0M494 275h0M476 276h0M481 276h0M491 277h0M494 277h0M492 278h0M471 279h0M472 279h0M492 280h0M494 280h0M492 283h0M490 284h0M490 286h0M457 287h0M453 289h0M486 291h0M485 292h0M447 293h0M445 294h0M484 294h0M440 295h0M438 296h0M477 300h0M472 304h0M468 306h0M464 310h0M462 311h0M458 318h0"/>
<path stroke="#68b6e9" d="M479 277h0M482 277h0M485 277h0M486 277h0M476 278h0M482 278h0M485 278h0M487 279h0M489 279h0M491 279h0M469 281h0M488 281h0M490 281h0M490 282h0M463 283h0M465 283h0M488 283h0M487 285h0M488 285h0M459 286h0M460 286h0M488 286h0M487 287h0M486 288h0M455 289h0M452 290h0M451 291h0M448 292h0M482 294h0M480 296h0M474 301h0M463 309h0M464 309h0"/>
<path stroke="#7ac1eb" d="M475 279h0M479 279h0M473 280h0M474 280h0M480 280h0M483 280h0M485 280h0M471 281h0M467 283h0M461 285h0M462 285h0M484 288h0M484 290h0M482 291h0M482 292h0M480 294h0M437 297h0M476 298h0M473 300h0M460 312h0M458 316h0"/>
<path stroke="#8ccbee" d="M476 281h0M478 281h0M471 282h0M480 282h0M469 283h0M483 283h0M484 283h0M464 285h0M484 285h0M482 286h0M463 287h0M482 288h0M457 289h0M454 291h0M481 291h0M450 292h0M480 293h0M479 294h0M478 296h0M435 298h0M475 298h0M470 302h0M468 304h0M464 306h0M466 306h0M460 311h0M458 314h0"/>
<path stroke="#9fd6f0" d="M474 283h0M477 283h0M479 283h0M469 284h0M480 284h0M467 285h0M479 285h0M480 287h0M481 288h0M459 289h0M456 290h0M479 291h0M478 293h0M446 295h0M476 296h0M472 299h0M469 302h0M466 304h0M458 313h0M456 317h0"/>
<path stroke="#b0def3" d="M471 285h0M472 285h0M475 285h0M476 285h0M476 286h0M465 287h0M478 288h0M461 289h0M461 290h0M477 290h0M453 293h0M476 293h0M476 294h0M474 296h0M441 297h0M442 297h0M469 300h0M470 300h0M462 306h0"/>
<path stroke="#c0e5f4" d="M467 287h0M469 287h0M471 287h0M472 287h0M475 287h0M467 288h0M474 288h0M465 289h0M474 291h0M474 292h0M448 295h0M473 295h0M471 297h0M470 298h0M466 302h0M460 309h0M458 311h0M457 312h0"/>
<path stroke="#cfecf6" d="M469 289h0M470 289h0M473 289h0M462 290h0M470 291h0M456 293h0M472 293h0M470 294h0M451 295h0M452 295h0M448 297h0M443 298h0M444 298h0M468 298h0M436 299h0M466 301h0M465 302h0M463 304h0M459 308h0"/>
<path stroke="#dff2f8" d="M465 291h0M466 291h0M468 291h0M460 292h0M462 292h0M470 292h0M458 293h0M468 293h0M469 294h0M451 296h0M445 297h0M446 297h0M468 297h0M466 299h0M464 301h0M461 305h0M454 318h0"/>
<path stroke="#ebf6eb" d="M465 293h0M466 293h0M459 294h0M466 294h0M455 295h0M456 295h0M465 295h0M465 296h0M466 297h0M441 299h0M465 299h0M462 303h0M460 306h0"/>
<path stroke="#f6fadd" d="M460 295h0M462 295h0M457 296h0M453 297h0M462 298h0M462 301h0M459 304h0M458 307h0M456 311h0"/>
<path stroke="#fbfbce" d="M454 297h0M458 297h0M448 298h0M460 298h0M438 300h0M460 300h0M437 301h0M460 302h0"/>
<path stroke="#fcfbc0" d="M457 298h0M447 299h0M458 299h0M459 300h0M458 303h0M456 308h0"/>
<path stroke="#fdfcb1" d="M451 299h0M452 299h0M455 299h0M447 300h0M456 301h0M456 302h0M456 307h0"/>
<path stroke="#fffca3" d="M449 300h0M450 300h0M454 301h0M454 310h0M454 312h0"/>
<path stroke="#fffa9b" d="M440 301h0M443 301h0M445 301h0M452 301h0M439 302h0M454 308h0"/>
<path stroke="#fff795" d="M435 303h0M453 303h0M454 303h0M454 304h0M454 306h0M452 316h0M451 317h0"/>
<path stroke="#fff48f" d="M453 304h0M452 313h0M452 314h0"/>
<path stroke="#fff189" d="M449 303h0M450 303h0M452 306h0M452 309h0"/>
<path stroke="#ffee83" d="M451 305h0"/>
<path stroke="#ffec7e" d="M437 303h0M447 303h0M451 307h0M451 308h0M452 310h0"/>
<path stroke="#ffe978" d="M445 303h0M437 304h0M449 305h0M450 315h0M449 318h0"/>
<path stroke="#ffe169" d="M443 303h0"/>
<path stroke="#ffd957" d="M439 304h0"/>
<path stroke="#ffd045" d="M450 313h0"/>
<path stroke="#ffc734" d="M446 305h0M448 307h0"/>
<path stroke="#ffbe22" d="M440 305h0"/>
<path stroke="#ffb510" d="M445 306h0M448 309h0M449 312h0"/>
<path stroke="#ffa908" d="M442 305h0M446 307h0M448 316h0"/>
<path stroke="#ff8e02" d="M448 315h0"/>
<path stroke="#ff8000" d="M435 307h0M448 311h0"/>
<path stroke="#fd5f00" d="M446 309h0M446 318h0"/>
<path stroke="#fb4f00" d="M443 307h0"/>
<path stroke="#fa3e00" d="M437 307h0M445 318h0"/>
<path stroke="#f63100" d="M446 311h0"/>
<path stroke="#f22400" d="M446 316h0"/>
<path stroke="#ee1600" d="M436 308h0M446 312h0M446 314h0M445 317h0"/>
<path stroke="#e40800" d="M445 315h0"/>
<path stroke="#d90100" d="M442 309h0M444 311h0"/>
<path stroke="#d10000" d="M438 309h0M440 309h0M435 310h0M444 313h0"/>
<path stroke="#c80000" d="M442 311h0"/>
<path stroke="#bf0000" d="M441 311h0"/>
<path stroke="#b60000" d="M439 311h0M442 312h0M442 316h0M441 318h0"/>
<path stroke="#ad0000" d="M437 311h0M441 312h0M435 313h0M437 313h0M439 313h0M435 315h0M436 315h0M438 315h0M440 315h0M435 316h0M437 316h0M440 317h0M435 318h0M437 318h0M439 318h0"/>
</g>
</g>
<line x1="217.2" y1="159.1" x2="368.8" y2="13.4" stroke="#7c7c7c" stroke-opacity="0.9" stroke-width="0.8" stroke-dasharray="1.8 1"/>
<polyline points="217.2,151.8 353.6,75.6" fill="none" stroke="#c22c3a" stroke-width="1"/>
<text x="217.5" y="167.5" font-size="8" stroke="#111" stroke-width="0.12" text-anchor="middle">0</text>
<text x="214.6" y="161.7" font-size="8" stroke="#111" stroke-width="0.12" text-anchor="end">0</text>
<text x="242.8" y="167.5" font-size="8" stroke="#111" stroke-width="0.12" text-anchor="middle">5</text>
<text x="214.6" y="137.4" font-size="8" stroke="#111" stroke-width="0.12" text-anchor="end">5</text>
<text x="268.0" y="167.5" font-size="8" stroke="#111" stroke-width="0.12" text-anchor="middle">10</text>
<text x="214.6" y="113.1" font-size="8" stroke="#111" stroke-width="0.12" text-anchor="end">10</text>
<text x="293.3" y="167.5" font-size="8" stroke="#111" stroke-width="0.12" text-anchor="middle">15</text>
<text x="214.6" y="88.8" font-size="8" stroke="#111" stroke-width="0.12" text-anchor="end">15</text>
<text x="318.6" y="167.5" font-size="8" stroke="#111" stroke-width="0.12" text-anchor="middle">20</text>
<text x="214.6" y="64.6" font-size="8" stroke="#111" stroke-width="0.12" text-anchor="end">20</text>
<text x="343.8" y="167.5" font-size="8" stroke="#111" stroke-width="0.12" text-anchor="middle">25</text>
<text x="214.6" y="40.3" font-size="8" stroke="#111" stroke-width="0.12" text-anchor="end">25</text>
<text x="369.1" y="167.5" font-size="8" stroke="#111" stroke-width="0.12" text-anchor="middle">30</text>
<text x="214.6" y="16.0" font-size="8" stroke="#111" stroke-width="0.12" text-anchor="end">30</text>
<text x="221.6" y="24.9" font-size="11.8" stroke="#111" stroke-width="0.15">R²=0.57</text>
<text x="221.6" y="35.9" font-size="11.8" stroke="#111" stroke-width="0.15">RMSE=2.66</text>
<text x="221.6" y="46.9" font-size="11.8" stroke="#111" stroke-width="0.15">MAE=1.79</text>
<text x="221.6" y="57.9" font-size="11.8" stroke="#111" stroke-width="0.15">IOA=0.85</text>
<text x="221.6" y="68.9" font-size="11.8" stroke="#111" stroke-width="0.15">slope=0.58</text>
<text x="312.4" y="149.9" font-size="13.1" font-weight="bold" fill="#161616">rEC-LUE</text>
</g>
<g>
<clipPath id="cp3"><rect x="385.7" y="12.9" width="152.6" height="146.7"/></clipPath>
<rect x="386.2" y="13.4" width="151.6" height="145.7" fill="none" stroke="#a2a2a2" stroke-width="0.9"/>
<path d="M386.2 159.6v1.6M385.7 159.1h-1.6M411.5 159.6v1.6M385.7 134.8h-1.6M436.7 159.6v1.6M385.7 110.5h-1.6M462.0 159.6v1.6M385.7 86.2h-1.6M487.3 159.6v1.6M385.7 62.0h-1.6M512.5 159.6v1.6M385.7 37.7h-1.6M537.8 159.6v1.6M385.7 13.4h-1.6" stroke="#a2a2a2" stroke-width="0.7" fill="none"/>
<g clip-path="url(#cp3)">
<g transform="scale(.5)" fill="none" stroke-width="4.6" stroke-linecap="round">
<path stroke="#2b2fa5" d="M957 182h0M959 185h0M852 188h0M834 195h0M962 195h0M839 196h0M817 197h0M964 198h0M963 200h0M836 201h0M964 201h0M968 201h0M964 202h0M829 203h0M1025 204h0M816 205h0M960 205h0M966 205h0M814 206h0M817 208h0M819 208h0M964 208h0M967 209h0M1009 209h0M960 210h0M813 211h0M976 211h0M993 211h0M968 212h0M804 213h0M970 213h0M811 214h0M797 215h0M806 215h0M813 215h0M815 215h0M806 216h0M812 216h0M960 216h0M1007 216h0M810 217h0M963 217h0M968 217h0M807 218h0M995 218h0M1018 218h0M813 219h0M991 219h0M801 220h0M954 220h0M965 220h0M974 220h0M995 220h0M1000 220h0M792 221h0M796 221h0M807 221h0M810 221h0M802 222h0M806 222h0M956 222h0M960 222h0M965 222h0M966 222h0M977 222h0M979 222h0M1010 222h0M793 223h0M801 223h0M805 223h0M808 223h0M998 223h0M1012 223h0M801 224h0M805 224h0M959 224h0M981 224h0M792 225h0M803 225h0M806 225h0M957 225h0M965 225h0M967 225h0M783 226h0M798 226h0M967 226h0M983 226h0M1003 226h0M778 227h0M789 227h0M801 227h0M803 227h0M973 227h0M797 228h0M798 228h0M951 228h0M1030 228h0M784 229h0M791 229h0M793 229h0M795 229h0M801 229h0M953 229h0M954 229h0M968 229h0M785 230h0M788 230h0M791 230h0M965 230h0M793 231h0M794 231h0M797 231h0M953 231h0M787 232h0M962 232h0M964 232h0M1016 232h0M773 233h0M795 233h0M981 233h0M985 233h0M1015 233h0M787 234h0M954 234h0M993 234h0M779 235h0M789 235h0M793 235h0M969 235h0M988 235h0M995 235h0M998 235h0M778 236h0M781 236h0M967 236h0M776 237h0M783 237h0M787 237h0M789 237h0M946 237h0M969 237h0M979 237h0M989 237h0M783 238h0M785 238h0M787 238h0M789 238h0M946 238h0M956 238h0M969 238h0M777 239h0M779 239h0M964 239h0M785 240h0M951 240h0M975 240h0M781 241h0M786 241h0M949 241h0M953 241h0M954 241h0M962 241h0M972 241h0M780 242h0M949 242h0M950 242h0M952 242h0M773 243h0M779 243h0M783 243h0M955 243h0M960 243h0M773 244h0M779 244h0M968 244h0M970 244h0M989 244h0M775 245h0M776 245h0M781 245h0M946 245h0M963 245h0M980 245h0M777 246h0M947 246h0M950 246h0M955 246h0M773 247h0M774 247h0M779 247h0M940 247h0M958 247h0M956 248h0M963 248h0M773 249h0M775 249h0M777 249h0M953 249h0M964 249h0M775 250h0M956 250h0M977 250h0M773 251h0M939 251h0M967 251h0M772 252h0M949 252h0M958 252h0M971 252h0M775 253h0M942 253h0M963 253h0M968 253h0M940 254h0M944 254h0M950 254h0M961 254h0M946 256h0M937 258h0M956 258h0M935 260h0M933 261h0M949 261h0M954 261h0M942 262h0M950 262h0M928 263h0M945 263h0M952 264h0M941 265h0M935 266h0M938 266h0M950 266h0M930 267h0M947 267h0M936 268h0M947 268h0M954 268h0M940 269h0M932 270h0M936 271h0M929 272h0M930 272h0M933 272h0M953 272h0M920 273h0M945 273h0M922 274h0M917 275h0M925 276h0M936 276h0M923 278h0M925 278h0M912 281h0M918 281h0M913 282h0M916 282h0M931 282h0M911 283h0M911 284h0M922 285h0M910 286h0M917 287h0M905 288h0M903 289h0M909 289h0M907 291h0M900 292h0M903 293h0M903 294h0M891 298h0M892 298h0M899 298h0M884 307h0M887 310h0M874 311h0M876 314h0M877 317h0"/>
<path stroke="#2c3baf" d="M931 184h0M900 189h0M935 189h0M927 190h0M948 190h0M950 190h0M864 191h0M885 191h0M943 191h0M953 191h0M928 192h0M956 192h0M872 193h0M938 193h0M947 193h0M956 194h0M879 195h0M935 195h0M940 195h0M954 195h0M855 196h0M859 196h0M942 196h0M947 196h0M878 197h0M937 197h0M953 197h0M872 198h0M954 198h0M861 199h0M867 199h0M874 199h0M938 199h0M941 199h0M953 199h0M861 200h0M867 200h0M869 200h0M937 200h0M947 200h0M960 200h0M853 201h0M938 201h0M952 201h0M955 201h0M848 202h0M851 202h0M855 202h0M866 203h0M840 204h0M837 205h0M847 205h0M859 206h0M862 206h0M941 206h0M844 207h0M853 207h0M855 207h0M856 207h0M938 207h0M953 207h0M833 208h0M841 208h0M855 208h0M953 208h0M959 208h0M835 209h0M839 209h0M842 209h0M850 209h0M853 209h0M946 209h0M951 209h0M832 210h0M836 210h0M846 210h0M853 210h0M944 210h0M950 210h0M952 210h0M828 211h0M831 211h0M835 211h0M839 211h0M840 211h0M845 211h0M849 211h0M850 211h0M831 212h0M847 212h0M849 212h0M825 213h0M829 213h0M833 213h0M834 213h0M836 213h0M838 213h0M841 213h0M845 213h0M850 213h0M823 214h0M839 214h0M843 214h0M948 214h0M821 215h0M827 215h0M829 215h0M830 215h0M833 215h0M835 215h0M836 215h0M840 215h0M845 215h0M831 216h0M835 216h0M843 216h0M942 216h0M949 216h0M817 217h0M820 217h0M823 217h0M825 217h0M829 217h0M839 217h0M841 217h0M825 218h0M836 218h0M839 218h0M943 218h0M815 219h0M816 219h0M819 219h0M821 219h0M822 219h0M827 219h0M828 219h0M831 219h0M832 219h0M835 219h0M938 219h0M951 219h0M816 220h0M822 220h0M828 220h0M838 220h0M943 220h0M812 221h0M815 221h0M819 221h0M821 221h0M825 221h0M827 221h0M831 221h0M834 221h0M837 221h0M940 221h0M813 222h0M817 222h0M824 222h0M811 223h0M814 223h0M821 223h0M822 223h0M829 223h0M835 223h0M946 223h0M812 224h0M817 224h0M821 224h0M822 224h0M936 224h0M945 224h0M809 225h0M811 225h0M815 225h0M819 225h0M825 225h0M827 225h0M829 225h0M831 225h0M940 225h0M948 225h0M950 225h0M811 226h0M814 226h0M816 226h0M823 226h0M809 227h0M819 227h0M821 227h0M824 227h0M827 227h0M829 227h0M935 227h0M937 227h0M945 227h0M819 228h0M826 228h0M803 229h0M805 229h0M806 229h0M809 229h0M811 229h0M812 229h0M814 229h0M816 229h0M823 229h0M824 229h0M804 230h0M823 230h0M947 230h0M798 231h0M801 231h0M803 231h0M807 231h0M809 231h0M813 231h0M814 231h0M817 231h0M818 231h0M933 231h0M944 231h0M803 232h0M943 232h0M797 233h0M799 233h0M800 233h0M806 233h0M809 233h0M810 233h0M813 233h0M816 233h0M820 233h0M934 233h0M797 234h0M806 234h0M815 234h0M931 234h0M936 234h0M942 234h0M946 234h0M795 235h0M798 235h0M800 235h0M803 235h0M810 235h0M813 235h0M816 235h0M818 235h0M793 236h0M815 236h0M816 236h0M944 236h0M791 237h0M794 237h0M797 237h0M798 237h0M801 237h0M802 237h0M806 237h0M810 237h0M813 237h0M929 237h0M798 238h0M801 238h0M811 238h0M814 238h0M936 238h0M940 238h0M942 238h0M945 238h0M790 239h0M794 239h0M797 239h0M803 239h0M805 239h0M807 239h0M809 239h0M813 239h0M931 239h0M935 239h0M795 240h0M797 240h0M942 240h0M789 241h0M791 241h0M793 241h0M798 241h0M801 241h0M802 241h0M807 241h0M809 241h0M928 241h0M786 242h0M795 242h0M803 242h0M927 242h0M929 242h0M788 243h0M791 243h0M792 243h0M797 243h0M798 243h0M801 243h0M805 243h0M806 243h0M932 243h0M938 243h0M803 244h0M926 244h0M783 245h0M785 245h0M786 245h0M788 245h0M793 245h0M795 245h0M797 245h0M799 245h0M800 245h0M805 245h0M931 245h0M933 245h0M794 246h0M799 246h0M803 246h0M923 246h0M938 246h0M781 247h0M782 247h0M785 247h0M786 247h0M788 247h0M791 247h0M793 247h0M797 247h0M801 247h0M934 247h0M936 247h0M783 248h0M787 248h0M788 248h0M792 248h0M780 249h0M784 249h0M790 249h0M794 249h0M796 249h0M921 249h0M924 249h0M783 250h0M793 250h0M925 250h0M777 251h0M778 251h0M781 251h0M784 251h0M786 251h0M789 251h0M790 251h0M794 251h0M797 251h0M785 252h0M791 252h0M777 253h0M779 253h0M781 253h0M783 253h0M786 253h0M788 253h0M793 253h0M923 253h0M928 253h0M934 253h0M775 254h0M782 254h0M784 254h0M788 254h0M791 254h0M934 254h0M777 255h0M779 255h0M781 255h0M787 255h0M930 255h0M775 256h0M787 256h0M920 256h0M777 257h0M779 257h0M781 257h0M783 257h0M784 257h0M789 257h0M773 258h0M776 258h0M780 258h0M784 258h0M787 258h0M775 259h0M779 259h0M777 260h0M778 260h0M911 260h0M928 260h0M773 261h0M775 261h0M781 261h0M783 261h0M785 261h0M920 261h0M925 261h0M780 262h0M783 262h0M773 263h0M775 263h0M776 263h0M779 263h0M909 263h0M779 264h0M908 264h0M912 264h0M920 264h0M924 264h0M775 265h0M776 265h0M923 265h0M776 266h0M779 266h0M905 266h0M773 267h0M774 267h0M915 267h0M917 267h0M775 268h0M904 268h0M913 268h0M773 269h0M902 269h0M906 269h0M773 270h0M775 271h0M912 271h0M896 273h0M907 273h0M896 274h0M902 274h0M913 274h0M910 276h0M914 276h0M890 279h0M904 279h0M908 280h0M890 281h0M888 282h0M902 283h0M904 283h0M902 284h0M884 285h0M885 287h0M893 287h0M900 287h0M895 288h0M877 289h0M878 289h0M897 289h0M879 290h0M893 290h0M897 290h0M890 291h0M892 295h0M871 296h0M875 296h0M880 296h0M869 299h0M866 300h0M870 301h0M861 302h0M867 302h0M882 302h0M861 304h0M863 305h0M878 305h0M856 306h0M865 308h0M875 308h0M853 310h0M849 311h0M850 311h0M851 312h0M848 314h0M855 315h0M858 315h0M845 316h0M847 318h0"/>
<path stroke="#2d43b5" d="M917 191h0M923 192h0M894 193h0M926 193h0M890 194h0M892 194h0M921 194h0M896 195h0M918 196h0M924 196h0M902 197h0M904 197h0M906 197h0M908 197h0M909 198h0M927 198h0M882 199h0M888 199h0M902 199h0M914 199h0M931 199h0M886 200h0M890 200h0M917 200h0M924 200h0M930 200h0M879 201h0M880 201h0M885 201h0M899 201h0M871 202h0M878 202h0M888 202h0M892 202h0M894 202h0M896 202h0M929 202h0M869 203h0M875 203h0M877 203h0M881 203h0M887 203h0M916 203h0M918 203h0M936 203h0M872 204h0M881 204h0M929 204h0M865 205h0M867 205h0M871 205h0M874 205h0M877 205h0M878 205h0M930 205h0M932 205h0M935 205h0M865 206h0M868 206h0M871 206h0M879 206h0M922 206h0M937 206h0M861 207h0M872 207h0M875 207h0M876 207h0M921 207h0M924 207h0M926 207h0M931 207h0M864 208h0M857 209h0M859 209h0M861 209h0M863 209h0M869 209h0M871 209h0M873 209h0M924 209h0M926 209h0M929 209h0M931 209h0M933 209h0M934 209h0M936 209h0M855 211h0M857 211h0M859 211h0M860 211h0M867 211h0M868 211h0M924 211h0M926 211h0M928 211h0M930 211h0M932 211h0M937 211h0M856 212h0M928 212h0M930 212h0M935 212h0M853 213h0M855 213h0M859 213h0M863 213h0M865 213h0M924 213h0M926 213h0M933 213h0M936 213h0M857 214h0M861 214h0M863 214h0M928 214h0M932 214h0M847 215h0M848 215h0M851 215h0M852 215h0M858 215h0M925 215h0M930 215h0M934 215h0M936 215h0M853 216h0M930 216h0M937 216h0M845 217h0M846 217h0M848 217h0M851 217h0M857 217h0M924 217h0M927 217h0M928 217h0M842 218h0M849 218h0M857 218h0M926 218h0M929 218h0M841 219h0M845 219h0M847 219h0M850 219h0M853 219h0M854 219h0M930 219h0M851 220h0M925 220h0M930 220h0M936 220h0M841 221h0M843 221h0M845 221h0M847 221h0M849 221h0M926 221h0M928 221h0M933 221h0M926 222h0M841 223h0M843 223h0M845 223h0M847 223h0M924 223h0M928 223h0M932 223h0M835 224h0M841 224h0M926 224h0M932 224h0M836 225h0M838 225h0M843 225h0M924 225h0M922 226h0M928 226h0M830 227h0M832 227h0M837 227h0M839 227h0M841 227h0M926 227h0M835 228h0M836 228h0M839 228h0M928 228h0M829 229h0M831 229h0M833 229h0M922 229h0M924 229h0M827 230h0M834 230h0M837 230h0M921 230h0M923 230h0M924 230h0M927 230h0M825 231h0M828 231h0M830 231h0M833 231h0M929 231h0M829 232h0M832 232h0M920 232h0M924 232h0M929 232h0M822 233h0M825 233h0M827 233h0M831 233h0M926 233h0M823 234h0M824 234h0M919 234h0M928 234h0M821 235h0M829 235h0M920 235h0M921 236h0M819 237h0M821 237h0M823 237h0M825 237h0M826 237h0M919 237h0M922 237h0M819 238h0M820 238h0M816 239h0M823 239h0M824 239h0M916 239h0M919 239h0M923 239h0M813 240h0M815 240h0M920 240h0M923 240h0M816 241h0M819 241h0M916 241h0M816 242h0M914 242h0M809 243h0M811 243h0M815 243h0M819 243h0M916 243h0M918 243h0M809 244h0M810 244h0M818 244h0M913 244h0M915 244h0M919 244h0M807 245h0M813 245h0M814 245h0M806 246h0M808 246h0M912 246h0M917 246h0M805 247h0M810 247h0M812 247h0M910 247h0M918 247h0M801 248h0M803 248h0M807 249h0M808 249h0M913 249h0M908 250h0M912 250h0M919 250h0M799 251h0M800 251h0M802 251h0M805 251h0M808 251h0M797 252h0M801 252h0M805 252h0M907 252h0M911 252h0M912 252h0M794 253h0M799 253h0M802 253h0M909 253h0M915 253h0M797 254h0M799 254h0M906 254h0M909 254h0M793 255h0M795 255h0M801 255h0M803 255h0M910 255h0M902 256h0M906 256h0M909 256h0M792 257h0M795 257h0M796 257h0M800 257h0M905 257h0M911 257h0M788 258h0M795 258h0M905 258h0M791 259h0M793 259h0M797 259h0M902 259h0M901 260h0M907 260h0M787 261h0M789 261h0M791 261h0M793 261h0M795 261h0M898 261h0M790 262h0M898 262h0M786 263h0M789 263h0M900 263h0M785 264h0M898 264h0M781 265h0M783 265h0M787 265h0M788 265h0M895 265h0M896 265h0M901 265h0M904 265h0M781 266h0M785 266h0M787 266h0M788 266h0M896 266h0M898 266h0M901 266h0M892 267h0M894 267h0M779 268h0M781 268h0M892 268h0M895 268h0M900 268h0M783 269h0M785 269h0M897 269h0M781 270h0M888 270h0M895 270h0M777 271h0M779 271h0M893 271h0M775 272h0M886 272h0M892 272h0M773 273h0M777 273h0M781 273h0M891 273h0M895 273h0M776 274h0M779 274h0M781 274h0M885 274h0M892 274h0M775 275h0M886 275h0M890 275h0M775 277h0M777 277h0M887 277h0M880 278h0M884 278h0M773 279h0M775 279h0M888 279h0M877 280h0M879 281h0M881 281h0M884 281h0M875 282h0M878 282h0M877 283h0M872 284h0M871 285h0M876 285h0M880 285h0M869 286h0M871 286h0M876 286h0M878 286h0M872 287h0M869 288h0M872 288h0M866 289h0M870 289h0M867 290h0M870 290h0M872 290h0M872 292h0M862 293h0M861 294h0M868 294h0M862 295h0M859 296h0M865 296h0M857 298h0M862 298h0M859 299h0M856 300h0M858 300h0M855 301h0M853 302h0M854 302h0M856 302h0M846 304h0M854 304h0M844 305h0M852 305h0M849 306h0M850 306h0M841 307h0M846 307h0M840 308h0M847 308h0M841 310h0M847 310h0M839 311h0M844 311h0M836 312h0M845 312h0M839 313h0M840 313h0M843 313h0M832 314h0M834 314h0M836 314h0M842 314h0M840 315h0M828 316h0M831 316h0M834 316h0M837 316h0M827 317h0M833 317h0M839 317h0M824 318h0M827 318h0M833 318h0M834 318h0"/>
<path stroke="#2d4bbc" d="M908 202h0M891 203h0M901 203h0M903 203h0M904 203h0M906 203h0M913 203h0M887 204h0M891 204h0M904 204h0M908 204h0M883 205h0M884 205h0M888 205h0M892 205h0M894 205h0M897 205h0M899 205h0M900 205h0M902 205h0M906 205h0M918 205h0M884 206h0M881 207h0M886 207h0M889 207h0M891 207h0M892 207h0M895 207h0M896 207h0M898 207h0M900 207h0M903 207h0M905 207h0M906 207h0M908 207h0M910 207h0M913 207h0M885 208h0M887 208h0M893 208h0M907 208h0M911 208h0M877 209h0M878 209h0M880 209h0M882 209h0M888 209h0M891 209h0M894 209h0M896 209h0M898 209h0M900 209h0M902 209h0M905 209h0M908 209h0M912 209h0M917 209h0M918 209h0M920 209h0M922 209h0M875 210h0M877 210h0M883 210h0M886 210h0M892 210h0M901 210h0M904 210h0M906 210h0M912 210h0M916 210h0M870 211h0M873 211h0M878 211h0M881 211h0M885 211h0M888 211h0M895 211h0M903 211h0M910 211h0M915 211h0M918 211h0M920 211h0M875 212h0M876 212h0M908 212h0M913 212h0M916 212h0M867 213h0M871 213h0M881 213h0M904 213h0M906 213h0M910 213h0M914 213h0M918 213h0M921 213h0M922 213h0M868 214h0M917 214h0M865 215h0M867 215h0M870 215h0M872 215h0M874 215h0M911 215h0M914 215h0M918 215h0M920 215h0M922 215h0M869 216h0M911 216h0M914 216h0M916 216h0M922 216h0M859 217h0M861 217h0M862 217h0M865 217h0M867 217h0M912 217h0M919 217h0M920 217h0M917 218h0M922 218h0M858 219h0M861 219h0M862 219h0M864 219h0M912 219h0M918 219h0M916 220h0M920 220h0M922 220h0M855 221h0M856 221h0M859 221h0M861 221h0M914 221h0M918 221h0M851 222h0M857 222h0M859 222h0M914 222h0M920 222h0M922 222h0M849 223h0M852 223h0M855 223h0M916 223h0M918 223h0M912 224h0M914 224h0M916 224h0M920 224h0M922 224h0M845 225h0M847 225h0M849 225h0M851 225h0M853 225h0M855 225h0M919 225h0M843 226h0M844 226h0M912 226h0M914 226h0M917 226h0M920 226h0M846 227h0M851 227h0M919 227h0M841 228h0M847 228h0M848 228h0M914 228h0M916 228h0M918 228h0M920 228h0M843 229h0M845 229h0M912 229h0M844 230h0M911 230h0M918 230h0M839 231h0M841 231h0M843 231h0M913 231h0M914 231h0M916 231h0M840 232h0M911 232h0M913 232h0M914 232h0M917 232h0M835 233h0M837 233h0M839 233h0M918 233h0M911 234h0M912 234h0M831 235h0M832 235h0M835 235h0M837 235h0M839 235h0M914 235h0M829 236h0M910 236h0M912 236h0M915 236h0M831 237h0M833 237h0M916 237h0M908 238h0M912 238h0M914 238h0M826 239h0M829 239h0M830 239h0M910 239h0M825 240h0M826 240h0M829 240h0M907 240h0M908 240h0M914 240h0M823 241h0M911 241h0M825 242h0M906 242h0M908 242h0M910 242h0M912 242h0M821 243h0M822 243h0M820 244h0M904 244h0M907 244h0M910 244h0M822 245h0M908 245h0M822 246h0M904 246h0M906 246h0M909 246h0M817 247h0M818 247h0M903 247h0M813 248h0M816 248h0M903 248h0M904 248h0M908 248h0M811 249h0M815 249h0M818 249h0M907 249h0M902 250h0M905 250h0M907 250h0M811 251h0M900 251h0M811 252h0M900 252h0M806 253h0M812 253h0M899 253h0M905 253h0M809 254h0M898 254h0M902 254h0M807 255h0M900 255h0M897 256h0M898 256h0M900 256h0M803 257h0M805 257h0M806 257h0M803 258h0M805 258h0M894 258h0M899 258h0M900 258h0M798 259h0M800 259h0M896 259h0M801 260h0M891 260h0M892 260h0M894 260h0M797 261h0M798 261h0M802 261h0M896 261h0M798 262h0M800 262h0M890 262h0M892 262h0M894 262h0M793 263h0M797 263h0M889 263h0M791 264h0M888 264h0M793 265h0M794 265h0M796 265h0M890 265h0M892 265h0M790 266h0M793 266h0M884 266h0M887 266h0M890 266h0M790 268h0M888 268h0M890 268h0M787 269h0M789 269h0M885 269h0M887 269h0M887 270h0M785 271h0M786 271h0M790 271h0M880 271h0M879 272h0M882 272h0M885 272h0M785 273h0M881 273h0M786 274h0M876 274h0M878 274h0M880 274h0M785 275h0M882 275h0M781 276h0M874 276h0M877 276h0M878 276h0M880 276h0M778 277h0M783 277h0M777 278h0M781 278h0M873 278h0M875 278h0M876 278h0M879 278h0M779 279h0M870 280h0M874 280h0M777 281h0M778 281h0M872 281h0M775 282h0M870 282h0M872 282h0M773 283h0M866 283h0M868 283h0M773 284h0M775 284h0M864 284h0M866 284h0M868 285h0M773 286h0M864 286h0M866 286h0M859 288h0M863 288h0M860 289h0M864 289h0M860 290h0M862 290h0M856 291h0M858 291h0M854 292h0M856 292h0M860 292h0M852 293h0M852 294h0M854 294h0M857 294h0M859 294h0M853 296h0M854 296h0M856 296h0M850 297h0M846 298h0M852 298h0M845 299h0M848 299h0M851 299h0M844 300h0M846 300h0M851 300h0M848 301h0M841 302h0M842 302h0M845 302h0M846 302h0M848 302h0M840 304h0M843 304h0M839 305h0M836 306h0M842 306h0M838 307h0M835 308h0M837 308h0M839 308h0M829 310h0M832 310h0M834 310h0M837 310h0M827 312h0M829 312h0M832 312h0M834 312h0M831 313h0M828 314h0M830 314h0M825 315h0M827 315h0M822 316h0M824 316h0M817 318h0M819 318h0M821 318h0M822 318h0"/>
<path stroke="#2e53c3" d="M891 211h0M897 211h0M899 211h0M891 212h0M895 212h0M883 213h0M884 213h0M887 213h0M888 213h0M892 213h0M896 213h0M898 213h0M901 213h0M903 213h0M879 214h0M881 214h0M888 214h0M877 215h0M885 215h0M886 215h0M891 215h0M893 215h0M894 215h0M896 215h0M899 215h0M901 215h0M903 215h0M904 215h0M906 215h0M908 215h0M881 216h0M884 216h0M892 216h0M901 216h0M902 216h0M871 217h0M873 217h0M874 217h0M876 217h0M878 217h0M883 217h0M887 217h0M889 217h0M891 217h0M896 217h0M898 217h0M905 217h0M906 217h0M908 217h0M871 218h0M873 218h0M882 218h0M891 218h0M896 218h0M902 218h0M910 218h0M869 219h0M874 219h0M879 219h0M880 219h0M885 219h0M887 219h0M893 219h0M894 219h0M899 219h0M901 219h0M906 219h0M909 219h0M894 220h0M900 220h0M904 220h0M863 221h0M865 221h0M867 221h0M869 221h0M871 221h0M874 221h0M877 221h0M896 221h0M899 221h0M902 221h0M909 221h0M910 221h0M868 222h0M906 222h0M908 222h0M860 223h0M863 223h0M864 223h0M867 223h0M870 223h0M899 223h0M901 223h0M902 223h0M904 223h0M910 223h0M857 224h0M860 224h0M901 224h0M905 224h0M908 224h0M910 224h0M859 225h0M863 225h0M864 225h0M899 225h0M906 225h0M901 226h0M904 226h0M910 226h0M852 227h0M855 227h0M857 227h0M858 227h0M860 227h0M903 227h0M906 227h0M908 227h0M852 228h0M904 228h0M851 229h0M854 229h0M857 229h0M901 229h0M908 229h0M910 229h0M849 230h0M851 230h0M854 230h0M901 230h0M902 230h0M904 230h0M852 231h0M908 231h0M901 232h0M902 232h0M908 232h0M843 233h0M845 233h0M847 233h0M904 233h0M906 233h0M845 234h0M847 234h0M841 235h0M900 235h0M902 235h0M904 235h0M907 235h0M908 235h0M842 236h0M844 236h0M900 236h0M906 236h0M908 236h0M837 237h0M839 237h0M841 237h0M902 237h0M904 237h0M900 238h0M902 238h0M905 238h0M906 238h0M833 239h0M835 239h0M836 239h0M838 239h0M835 240h0M902 240h0M904 240h0M831 241h0M833 241h0M898 242h0M900 242h0M903 242h0M827 243h0M829 243h0M830 243h0M832 243h0M897 243h0M904 243h0M827 244h0M896 244h0M898 244h0M900 244h0M829 245h0M902 245h0M826 247h0M898 247h0M822 248h0M825 248h0M894 248h0M899 248h0M900 248h0M821 249h0M896 249h0M817 250h0M819 250h0M820 250h0M895 250h0M899 250h0M892 251h0M895 252h0M896 252h0M892 253h0M891 254h0M892 254h0M894 254h0M896 254h0M811 255h0M814 255h0M888 256h0M893 256h0M894 256h0M809 257h0M810 257h0M812 257h0M886 258h0M889 258h0M892 258h0M806 259h0M809 259h0M810 259h0M890 259h0M807 260h0M886 260h0M888 260h0M805 261h0M884 261h0M884 262h0M803 263h0M804 263h0M882 263h0M886 263h0M882 264h0M884 264h0M799 265h0M801 265h0M880 265h0M797 266h0M799 266h0M882 266h0M795 267h0M878 267h0M878 268h0M880 268h0M882 268h0M793 269h0M795 269h0M876 269h0M878 270h0M793 271h0M877 271h0M875 272h0M789 273h0M791 273h0M872 273h0M876 273h0M871 274h0M872 274h0M875 274h0M868 276h0M871 276h0M785 277h0M872 277h0M786 278h0M866 278h0M869 278h0M870 278h0M783 279h0M784 279h0M865 279h0M781 280h0M782 280h0M866 280h0M868 280h0M862 281h0M863 282h0M864 282h0M777 283h0M779 283h0M860 284h0M862 284h0M777 285h0M776 286h0M859 286h0M860 286h0M862 286h0M775 287h0M855 288h0M857 288h0M773 289h0M854 290h0M852 291h0M849 292h0M850 292h0M848 294h0M850 294h0M846 295h0M844 296h0M846 296h0M849 296h0M841 298h0M842 298h0M839 299h0M842 300h0M836 302h0M839 302h0M835 304h0M837 304h0M833 306h0M834 306h0M831 307h0M831 308h0M826 309h0M828 309h0M827 311h0M822 312h0M824 313h0M823 314h0M818 315h0M820 315h0M817 316h0"/>
<path stroke="#2e5bc9" d="M887 220h0M878 221h0M881 221h0M883 221h0M884 221h0M888 221h0M890 221h0M892 221h0M877 222h0M880 222h0M884 222h0M872 223h0M874 223h0M879 223h0M883 223h0M886 223h0M888 223h0M890 223h0M892 223h0M897 223h0M878 224h0M882 224h0M885 224h0M889 224h0M895 224h0M897 224h0M873 225h0M874 225h0M877 225h0M880 225h0M886 225h0M892 225h0M869 226h0M874 226h0M885 226h0M887 226h0M888 226h0M865 227h0M866 227h0M871 227h0M872 227h0M877 227h0M880 227h0M883 227h0M890 227h0M895 227h0M896 227h0M898 227h0M859 229h0M860 229h0M863 229h0M864 229h0M868 229h0M870 229h0M888 229h0M890 229h0M892 229h0M894 229h0M896 229h0M898 229h0M857 230h0M891 230h0M898 230h0M858 231h0M861 231h0M863 231h0M894 231h0M897 231h0M892 232h0M894 232h0M898 232h0M849 233h0M851 233h0M853 233h0M855 233h0M856 233h0M890 233h0M896 233h0M850 234h0M857 234h0M898 234h0M849 235h0M852 235h0M894 235h0M891 236h0M893 236h0M894 236h0M896 236h0M898 236h0M849 237h0M841 238h0M842 238h0M847 238h0M892 238h0M894 238h0M898 238h0M844 239h0M897 239h0M891 240h0M894 240h0M896 240h0M839 241h0M841 241h0M842 241h0M892 241h0M890 242h0M892 242h0M835 243h0M837 243h0M839 243h0M894 243h0M834 244h0M891 244h0M894 244h0M831 245h0M833 245h0M888 245h0M893 245h0M832 246h0M890 246h0M892 246h0M829 247h0M830 247h0M894 247h0M888 248h0M890 248h0M829 249h0M886 249h0M892 249h0M828 250h0M888 250h0M823 251h0M824 251h0M890 251h0M821 252h0M884 252h0M888 252h0M890 252h0M818 253h0M823 253h0M887 253h0M817 254h0M887 254h0M883 255h0M884 255h0M882 256h0M884 256h0M815 257h0M816 257h0M886 257h0M815 258h0M880 258h0M882 258h0M884 258h0M812 259h0M880 260h0M809 261h0M882 261h0M807 262h0M876 263h0M877 264h0M803 265h0M805 265h0M878 265h0M875 266h0M876 266h0M800 267h0M803 267h0M799 268h0M875 268h0M801 269h0M873 269h0M869 270h0M870 270h0M872 270h0M796 271h0M795 272h0M868 272h0M871 272h0M793 273h0M791 275h0M793 275h0M867 275h0M789 276h0M863 276h0M864 276h0M866 276h0M787 277h0M860 278h0M862 278h0M787 280h0M860 280h0M785 281h0M857 282h0M858 282h0M861 282h0M783 283h0M858 284h0M779 285h0M854 285h0M856 285h0M852 286h0M856 286h0M854 287h0M776 288h0M852 288h0M850 289h0M851 290h0M773 291h0M848 291h0M845 293h0M846 293h0M845 294h0M841 296h0M842 296h0M836 300h0M838 300h0M832 302h0M834 302h0M830 304h0M832 304h0M826 307h0M828 307h0M825 308h0M822 309h0M821 310h0M823 310h0M824 310h0M818 312h0M820 312h0M816 314h0M814 315h0M814 316h0M812 317h0M809 318h0"/>
<path stroke="#2f63cf" d="M878 228h0M872 229h0M875 229h0M876 229h0M881 229h0M882 229h0M884 229h0M873 230h0M876 230h0M865 231h0M866 231h0M869 231h0M871 231h0M874 231h0M880 231h0M886 231h0M888 231h0M868 232h0M875 232h0M876 232h0M885 232h0M861 233h0M862 233h0M864 233h0M866 233h0M870 233h0M873 233h0M878 233h0M881 233h0M882 233h0M886 233h0M888 233h0M870 234h0M875 234h0M877 234h0M879 234h0M880 234h0M886 234h0M890 234h0M855 235h0M858 235h0M861 235h0M863 235h0M864 235h0M867 235h0M869 235h0M883 235h0M885 235h0M888 235h0M861 236h0M884 236h0M851 237h0M853 237h0M855 237h0M856 237h0M859 237h0M880 237h0M882 237h0M887 237h0M848 238h0M856 238h0M882 238h0M885 238h0M850 239h0M853 239h0M887 239h0M888 239h0M890 239h0M845 240h0M882 240h0M885 240h0M886 240h0M888 240h0M848 241h0M850 241h0M845 242h0M882 242h0M884 242h0M886 242h0M841 243h0M843 243h0M888 243h0M882 244h0M884 244h0M836 245h0M841 245h0M842 245h0M887 245h0M839 246h0M886 246h0M835 247h0M882 247h0M884 247h0M832 249h0M835 249h0M880 249h0M882 249h0M884 249h0M886 250h0M827 251h0M884 251h0M879 252h0M882 252h0M825 253h0M827 253h0M880 253h0M877 254h0M878 254h0M881 254h0M821 255h0M823 255h0M880 256h0M819 257h0M874 258h0M876 258h0M878 258h0M816 259h0M874 260h0M876 260h0M811 261h0M812 261h0M814 261h0M874 262h0M811 263h0M812 263h0M873 263h0M870 264h0M873 264h0M807 265h0M808 265h0M804 266h0M870 266h0M872 266h0M807 267h0M868 267h0M803 268h0M804 268h0M869 268h0M870 268h0M866 269h0M865 270h0M799 271h0M864 272h0M866 272h0M797 273h0M862 273h0M861 274h0M862 274h0M864 274h0M795 275h0M861 276h0M791 277h0M793 277h0M790 278h0M858 278h0M789 279h0M789 280h0M858 280h0M854 281h0M856 281h0M852 282h0M854 282h0M785 283h0M785 284h0M850 284h0M852 284h0M781 285h0M782 285h0M850 286h0M779 287h0M781 287h0M848 287h0M779 288h0M846 288h0M848 288h0M844 290h0M847 290h0M777 291h0M775 292h0M842 293h0M841 294h0M842 294h0M836 296h0M838 296h0M832 300h0M834 300h0M830 302h0M829 304h0M824 306h0M818 311h0M815 312h0M813 314h0M810 316h0M806 318h0"/>
<path stroke="#3169d1" d="M873 235h0M868 236h0M863 237h0M865 237h0M866 237h0M871 237h0M872 237h0M874 237h0M876 237h0M879 237h0M863 238h0M867 238h0M855 239h0M858 239h0M864 239h0M869 239h0M870 239h0M872 239h0M874 239h0M876 239h0M878 239h0M880 239h0M855 240h0M869 240h0M870 240h0M874 240h0M852 241h0M856 241h0M859 241h0M861 241h0M863 241h0M866 241h0M872 241h0M876 241h0M879 241h0M861 242h0M870 242h0M878 242h0M846 243h0M849 243h0M850 243h0M852 243h0M854 243h0M856 243h0M872 243h0M874 243h0M876 243h0M880 243h0M846 244h0M850 244h0M876 244h0M878 244h0M880 244h0M845 245h0M849 245h0M873 245h0M874 245h0M880 246h0M841 247h0M842 247h0M845 247h0M873 247h0M874 247h0M878 247h0M841 248h0M873 248h0M874 248h0M877 248h0M878 248h0M837 249h0M838 249h0M834 250h0M874 250h0M831 251h0M832 251h0M878 251h0M833 252h0M875 252h0M828 253h0M830 253h0M873 253h0M876 253h0M875 254h0M825 255h0M827 255h0M871 255h0M872 255h0M871 256h0M873 256h0M876 256h0M823 257h0M821 258h0M823 258h0M872 258h0M819 259h0M871 259h0M817 260h0M869 260h0M870 260h0M873 260h0M868 262h0M871 262h0M815 263h0M867 264h0M811 265h0M813 265h0M868 265h0M808 266h0M863 266h0M866 266h0M864 267h0M862 268h0M864 268h0M802 270h0M862 270h0M801 271h0M861 271h0M861 272h0M858 274h0M797 275h0M857 275h0M857 276h0M858 276h0M794 278h0M853 278h0M854 278h0M856 278h0M851 280h0M852 280h0M789 282h0M850 282h0M787 283h0M848 283h0M787 284h0M849 284h0M847 285h0M782 287h0M846 287h0M843 288h0M844 288h0M781 289h0M841 289h0M841 290h0M842 291h0M838 292h0M840 292h0M836 294h0M838 294h0M834 296h0M832 298h0M834 298h0M831 300h0M828 301h0M826 302h0M828 302h0M826 304h0M822 305h0M823 306h0M820 307h0M818 308h0M821 308h0M816 310h0M814 311h0M812 312h0M811 314h0M808 315h0M808 316h0M804 318h0"/>
<path stroke="#3370d3" d="M863 242h0M866 242h0M858 243h0M869 243h0M852 244h0M859 244h0M854 245h0M860 245h0M862 245h0M865 245h0M866 245h0M869 245h0M853 246h0M864 246h0M849 247h0M851 247h0M854 247h0M856 247h0M858 247h0M861 247h0M862 247h0M866 247h0M868 247h0M870 247h0M847 248h0M857 248h0M862 248h0M843 249h0M849 249h0M864 249h0M866 249h0M869 249h0M870 249h0M866 250h0M868 250h0M872 250h0M837 251h0M838 251h0M841 251h0M842 251h0M864 251h0M870 251h0M866 252h0M834 253h0M837 253h0M833 254h0M868 254h0M830 255h0M868 256h0M827 257h0M828 257h0M866 257h0M825 259h0M866 259h0M868 259h0M823 260h0M864 260h0M866 260h0M819 261h0M821 261h0M819 262h0M820 262h0M861 262h0M862 262h0M866 262h0M817 263h0M814 264h0M861 264h0M862 264h0M816 265h0M864 265h0M810 267h0M860 267h0M807 269h0M808 269h0M860 269h0M856 270h0M858 270h0M805 271h0M802 272h0M804 272h0M856 272h0M801 273h0M854 273h0M801 274h0M799 275h0M854 275h0M854 276h0M797 277h0M852 277h0M796 278h0M850 278h0M793 280h0M848 280h0M791 281h0M790 282h0M847 283h0M789 284h0M844 285h0M843 286h0M844 286h0M785 287h0M783 288h0M779 291h0M780 291h0M834 292h0M836 293h0M773 294h0M834 294h0M831 296h0M832 296h0M829 297h0M828 298h0M830 298h0M827 300h0M820 304h0M824 304h0M818 306h0M817 308h0M813 310h0M806 315h0M806 316h0M803 317h0"/>
<path stroke="#3576d4" d="M852 249h0M854 249h0M861 249h0M856 250h0M861 250h0M844 251h0M848 251h0M850 251h0M853 251h0M855 251h0M859 251h0M862 251h0M843 252h0M845 252h0M847 252h0M851 252h0M860 252h0M864 252h0M841 253h0M849 253h0M852 253h0M855 253h0M856 253h0M863 253h0M839 254h0M843 254h0M855 254h0M860 254h0M862 254h0M864 254h0M835 255h0M837 255h0M841 255h0M856 255h0M858 255h0M859 256h0M864 256h0M831 257h0M833 257h0M835 257h0M836 257h0M856 257h0M860 257h0M858 258h0M860 258h0M827 259h0M828 259h0M831 259h0M862 259h0M861 260h0M862 260h0M825 261h0M827 261h0M829 261h0M858 261h0M859 262h0M856 263h0M858 264h0M819 265h0M856 265h0M816 266h0M854 266h0M857 266h0M815 267h0M858 267h0M857 268h0M811 269h0M852 270h0M807 271h0M808 271h0M854 271h0M853 273h0M853 274h0M802 275h0M848 276h0M850 276h0M798 277h0M847 278h0M848 278h0M795 280h0M845 280h0M844 282h0M792 283h0M842 284h0M840 285h0M840 286h0M838 289h0M836 291h0M833 292h0M777 293h0M832 294h0M826 299h0M825 300h0M820 303h0M819 304h0M817 306h0M814 308h0M811 310h0M804 316h0M800 318h0"/>
<path stroke="#377dd6" d="M845 255h0M848 255h0M851 255h0M852 255h0M846 256h0M849 256h0M850 256h0M839 257h0M840 257h0M842 257h0M845 257h0M852 257h0M854 257h0M835 258h0M850 258h0M856 258h0M833 259h0M838 259h0M841 259h0M843 259h0M848 259h0M854 259h0M850 260h0M830 261h0M832 261h0M852 261h0M854 261h0M856 261h0M831 262h0M854 262h0M825 263h0M850 263h0M852 263h0M852 264h0M821 265h0M823 265h0M854 265h0M850 266h0M819 267h0M853 267h0M850 268h0M815 269h0M816 269h0M811 270h0M849 270h0M812 271h0M850 271h0M848 272h0M850 272h0M807 273h0M805 275h0M846 275h0M848 275h0M844 277h0M846 277h0M799 278h0M842 280h0M840 282h0M842 282h0M838 284h0M790 285h0M838 286h0M837 288h0M785 289h0M786 289h0M834 289h0M834 290h0M782 291h0M780 292h0M831 294h0M775 295h0M828 295h0M827 296h0M814 306h0M813 307h0M812 308h0M804 314h0"/>
<path stroke="#3983d8" d="M844 259h0M835 261h0M837 261h0M839 261h0M841 261h0M842 261h0M844 261h0M846 261h0M848 261h0M848 262h0M829 263h0M832 263h0M835 263h0M839 263h0M841 263h0M843 263h0M844 263h0M847 263h0M831 264h0M832 264h0M845 264h0M846 264h0M850 264h0M825 265h0M827 265h0M829 265h0M848 265h0M847 266h0M848 266h0M820 267h0M823 267h0M824 267h0M844 267h0M823 268h0M848 268h0M845 269h0M846 269h0M844 270h0M847 270h0M814 271h0M809 273h0M844 273h0M846 273h0M809 274h0M806 275h0M842 275h0M844 275h0M843 276h0M803 277h0M805 277h0M803 278h0M840 278h0M800 279h0M842 279h0M840 280h0M797 281h0M798 281h0M838 281h0M838 282h0M795 283h0M796 283h0M836 284h0M792 285h0M835 286h0M836 286h0M832 290h0M830 291h0M826 294h0M776 295h0M825 296h0M824 298h0M820 300h0M822 300h0M818 301h0M816 304h0M810 308h0M808 310h0M806 311h0M806 312h0M801 315h0M800 316h0"/>
<path stroke="#3b8ad9" d="M840 264h0M835 265h0M837 265h0M839 265h0M842 265h0M837 266h0M827 267h0M829 267h0M831 267h0M833 267h0M835 267h0M839 267h0M840 267h0M842 267h0M826 268h0M842 268h0M819 269h0M821 269h0M839 269h0M841 269h0M819 270h0M840 270h0M816 271h0M820 271h0M838 271h0M842 271h0M840 272h0M813 273h0M814 273h0M817 273h0M842 273h0M840 276h0M806 277h0M838 277h0M805 278h0M839 278h0M836 279h0M835 281h0M837 281h0M836 283h0M795 284h0M834 284h0M793 286h0M832 286h0M791 287h0M831 288h0M789 289h0M785 291h0M827 291h0M828 291h0M828 292h0M826 293h0M823 296h0M772 297h0M820 299h0M814 304h0M811 306h0M809 308h0M805 310h0M804 312h0"/>
<path stroke="#4292dc" d="M834 268h0M825 269h0M829 269h0M831 269h0M833 269h0M836 269h0M832 270h0M823 271h0M824 271h0M827 271h0M829 271h0M830 271h0M835 271h0M837 271h0M818 272h0M821 272h0M834 272h0M836 273h0M838 273h0M838 274h0M811 275h0M812 275h0M834 275h0M836 275h0M836 276h0M808 277h0M834 279h0M801 281h0M802 281h0M832 281h0M834 282h0M799 283h0M830 284h0M832 284h0M796 285h0M830 286h0M828 287h0M828 288h0M790 289h0M786 291h0M783 293h0M784 293h0M823 294h0M824 294h0M821 296h0M819 298h0M816 300h0M815 302h0M816 302h0M813 304h0M808 307h0M806 308h0M802 312h0"/>
<path stroke="#4b9bdf" d="M823 273h0M825 273h0M826 273h0M828 273h0M830 273h0M832 273h0M822 274h0M828 274h0M832 274h0M816 275h0M819 275h0M821 275h0M824 275h0M826 275h0M830 275h0M811 277h0M812 277h0M814 277h0M832 277h0M811 278h0M830 278h0M807 279h0M808 279h0M832 279h0M828 281h0M830 281h0M801 282h0M830 282h0M829 284h0M799 285h0M795 287h0M827 287h0M793 288h0M826 289h0M825 290h0M789 291h0M824 292h0M822 293h0M778 295h0M781 295h0M820 295h0M810 305h0M802 311h0M798 316h0M796 318h0"/>
<path stroke="#54a4e2" d="M826 276h0M817 277h0M819 277h0M821 277h0M822 277h0M824 277h0M828 277h0M821 278h0M815 279h0M822 279h0M824 279h0M826 279h0M828 279h0M825 280h0M827 280h0M805 281h0M809 281h0M824 282h0M828 282h0M803 283h0M826 285h0M824 287h0M824 288h0M822 290h0M790 291h0M786 293h0M818 296h0M775 297h0M816 298h0M812 302h0M811 303h0M808 305h0M806 307h0M800 313h0"/>
<path stroke="#5dade6" d="M817 279h0M819 279h0M810 280h0M815 280h0M821 281h0M822 281h0M822 282h0M821 283h0M805 284h0M824 284h0M802 285h0M822 285h0M800 286h0M823 286h0M797 287h0M798 287h0M794 289h0M822 289h0M820 290h0M820 292h0M819 293h0M818 294h0M815 296h0M816 296h0M777 297h0M815 298h0M812 301h0M804 308h0M798 314h0M796 316h0"/>
<path stroke="#68b6e9" d="M813 281h0M816 281h0M812 282h0M807 283h0M809 283h0M818 283h0M818 285h0M819 286h0M820 287h0M818 288h0M796 289h0M820 289h0M793 291h0M818 291h0M789 293h0M784 295h0M816 295h0M811 299h0M808 302h0M804 306h0M802 308h0M800 310h0M797 315h0"/>
<path stroke="#7ac1eb" d="M811 283h0M814 283h0M811 284h0M809 285h0M812 285h0M815 285h0M816 285h0M803 286h0M816 287h0M816 288h0M799 289h0M800 289h0M797 290h0M795 291h0M816 291h0M816 292h0M791 293h0M814 293h0M814 294h0M781 296h0M811 296h0M812 296h0M778 297h0M773 299h0M808 300h0M806 304h0M798 312h0"/>
<path stroke="#8ccbee" d="M805 287h0M806 287h0M809 287h0M811 287h0M812 287h0M814 287h0M812 288h0M803 289h0M815 289h0M812 290h0M814 290h0M798 291h0M793 293h0M812 293h0M787 295h0M812 295h0M775 299h0M808 299h0M806 302h0M804 304h0M802 306h0M800 308h0"/>
<path stroke="#9fd6f0" d="M805 289h0M806 289h0M809 289h0M810 289h0M806 290h0M800 291h0M803 291h0M808 291h0M794 293h0M797 293h0M811 293h0M810 294h0M790 295h0M808 296h0M782 297h0M806 298h0M804 302h0M803 303h0M802 304h0M800 307h0M798 310h0"/>
<path stroke="#b0def3" d="M804 291h0M801 292h0M803 292h0M799 293h0M804 293h0M807 293h0M808 293h0M804 294h0M808 294h0M793 295h0M806 295h0M806 296h0M805 298h0M773 300h0M804 300h0M795 315h0M794 316h0"/>
<path stroke="#c0e5f4" d="M799 294h0M795 295h0M796 295h0M801 295h0M803 295h0M802 296h0M785 297h0M790 297h0M804 297h0M776 299h0M802 299h0M802 301h0M800 304h0M796 312h0"/>
<path stroke="#cfecf6" d="M787 297h0M788 297h0M792 297h0M794 297h0M797 297h0M800 297h0M800 298h0M780 299h0M800 301h0M800 302h0M799 303h0M798 306h0M796 310h0M792 318h0"/>
<path stroke="#dff2f8" d="M791 298h0M796 299h0M798 299h0M798 300h0M798 304h0M797 307h0M796 309h0M794 312h0"/>
<path stroke="#ebf6eb" d="M783 299h0M785 299h0M792 299h0M794 299h0M796 300h0M775 301h0M796 302h0M797 304h0M792 316h0"/>
<path stroke="#f6fadd" d="M787 299h0M789 299h0M794 301h0M794 311h0"/>
<path stroke="#fbfbce" d="M786 300h0M793 301h0M790 318h0"/>
<path stroke="#fcfbc0" d="M784 300h0M788 300h0M791 301h0M794 303h0M794 304h0M794 306h0M794 309h0M793 310h0M792 314h0"/>
<path stroke="#fdfcb1" d="M773 303h0M792 303h0M791 315h0M790 317h0"/>
<path stroke="#fffca3" d="M781 301h0M782 301h0M774 303h0M792 305h0M792 312h0"/>
<path stroke="#fffa9b" d="M790 303h0"/>
<path stroke="#fff795" d="M788 303h0M773 304h0M792 308h0"/>
<path stroke="#fff48f" d="M776 303h0M788 318h0"/>
<path stroke="#fff189" d="M785 303h0M786 303h0M790 310h0M790 313h0"/>
<path stroke="#ffee83" d="M787 304h0M788 305h0M790 307h0M790 309h0M788 317h0"/>
<path stroke="#ffec7e" d="M782 303h0"/>
<path stroke="#ffe978" d="M776 304h0"/>
<path stroke="#ffe169" d="M788 307h0M789 312h0"/>
<path stroke="#ffd957" d="M788 310h0"/>
<path stroke="#ffd045" d="M781 305h0M788 309h0M788 314h0"/>
<path stroke="#ffbe22" d="M786 307h0M786 316h0M785 318h0"/>
<path stroke="#ffb510" d="M778 305h0"/>
<path stroke="#ffa908" d="M787 309h0M787 312h0M786 315h0"/>
<path stroke="#ff8e02" d="M785 308h0"/>
<path stroke="#ff8000" d="M782 306h0M786 310h0"/>
<path stroke="#fe6f00" d="M784 307h0"/>
<path stroke="#fd5f00" d="M775 307h0M784 317h0"/>
<path stroke="#f63100" d="M778 307h0M780 307h0M783 309h0M784 313h0M782 318h0"/>
<path stroke="#f22400" d="M780 308h0M783 310h0M784 314h0"/>
<path stroke="#e40800" d="M774 309h0M777 309h0"/>
<path stroke="#d90100" d="M778 309h0"/>
<path stroke="#d10000" d="M773 311h0M782 313h0M782 315h0M780 317h0"/>
<path stroke="#c80000" d="M780 310h0"/>
<path stroke="#bf0000" d="M775 311h0M778 311h0M773 312h0"/>
<path stroke="#b60000" d="M777 311h0"/>
<path stroke="#ad0000" d="M777 313h0M778 313h0M780 314h0M778 315h0M773 316h0M774 316h0M776 316h0M778 316h0M775 318h0M776 318h0"/>
</g>
</g>
<line x1="386.2" y1="159.1" x2="537.8" y2="13.4" stroke="#7c7c7c" stroke-opacity="0.9" stroke-width="0.8" stroke-dasharray="1.8 1"/>
<polyline points="386.2,153.8 522.6,65.9" fill="none" stroke="#c22c3a" stroke-width="1"/>
<text x="386.5" y="167.5" font-size="8" stroke="#111" stroke-width="0.12" text-anchor="middle">0</text>
<text x="383.6" y="161.7" font-size="8" stroke="#111" stroke-width="0.12" text-anchor="end">0</text>
<text x="411.8" y="167.5" font-size="8" stroke="#111" stroke-width="0.12" text-anchor="middle">5</text>
<text x="383.6" y="137.4" font-size="8" stroke="#111" stroke-width="0.12" text-anchor="end">5</text>
<text x="437.0" y="167.5" font-size="8" stroke="#111" stroke-width="0.12" text-anchor="middle">10</text>
<text x="383.6" y="113.1" font-size="8" stroke="#111" stroke-width="0.12" text-anchor="end">10</text>
<text x="462.3" y="167.5" font-size="8" stroke="#111" stroke-width="0.12" text-anchor="middle">15</text>
<text x="383.6" y="88.8" font-size="8" stroke="#111" stroke-width="0.12" text-anchor="end">15</text>
<text x="487.6" y="167.5" font-size="8" stroke="#111" stroke-width="0.12" text-anchor="middle">20</text>
<text x="383.6" y="64.6" font-size="8" stroke="#111" stroke-width="0.12" text-anchor="end">20</text>
<text x="512.8" y="167.5" font-size="8" stroke="#111" stroke-width="0.12" text-anchor="middle">25</text>
<text x="383.6" y="40.3" font-size="8" stroke="#111" stroke-width="0.12" text-anchor="end">25</text>
<text x="538.1" y="167.5" font-size="8" stroke="#111" stroke-width="0.12" text-anchor="middle">30</text>
<text x="383.6" y="16.0" font-size="8" stroke="#111" stroke-width="0.12" text-anchor="end">30</text>
<text x="391.3" y="24.9" font-size="11.8" stroke="#111" stroke-width="0.15">R²=0.62</text>
<text x="391.3" y="35.9" font-size="11.8" stroke="#111" stroke-width="0.15">RMSE=2.54</text>
<text x="391.3" y="46.9" font-size="11.8" stroke="#111" stroke-width="0.15">MAE=1.70</text>
<text x="391.3" y="57.9" font-size="11.8" stroke="#111" stroke-width="0.15">IOA=0.88</text>
<text x="391.3" y="68.9" font-size="11.8" stroke="#111" stroke-width="0.15">slope=0.67</text>
<text x="490.4" y="149.6" font-size="13.1" font-weight="bold" fill="#161616">MuSyQ</text>
</g>
<g>
<clipPath id="cp4"><rect x="47.7" y="173.1" width="152.6" height="146.7"/></clipPath>
<rect x="48.2" y="173.6" width="151.6" height="145.7" fill="none" stroke="#a2a2a2" stroke-width="0.9"/>
<path d="M48.2 319.8v1.6M47.7 319.3h-1.6M73.5 319.8v1.6M47.7 295.0h-1.6M98.7 319.8v1.6M47.7 270.7h-1.6M124.0 319.8v1.6M47.7 246.4h-1.6M149.3 319.8v1.6M47.7 222.2h-1.6M174.5 319.8v1.6M47.7 197.9h-1.6M199.8 319.8v1.6M47.7 173.6h-1.6" stroke="#a2a2a2" stroke-width="0.7" fill="none"/>
<g clip-path="url(#cp4)">
<g transform="scale(.5)" fill="none" stroke-width="4.6" stroke-linecap="round">
<path stroke="#2b2fa5" d="M250 445h0M219 446h0M207 451h0M350 454h0M235 455h0M342 455h0M199 456h0M318 456h0M332 456h0M199 459h0M327 460h0M278 461h0M297 461h0M348 463h0M230 464h0M350 464h0M182 465h0M310 465h0M312 465h0M317 465h0M254 466h0M302 466h0M258 467h0M263 467h0M202 468h0M274 468h0M210 470h0M298 470h0M311 470h0M204 471h0M206 471h0M223 471h0M283 471h0M319 471h0M193 472h0M206 472h0M267 472h0M270 472h0M297 472h0M301 472h0M176 473h0M262 473h0M287 473h0M227 474h0M277 474h0M311 474h0M212 475h0M109 476h0M285 476h0M179 477h0M256 477h0M261 477h0M263 477h0M282 477h0M356 477h0M187 478h0M276 478h0M321 478h0M188 479h0M242 479h0M269 479h0M287 479h0M205 480h0M225 480h0M227 480h0M261 480h0M168 481h0M211 481h0M220 481h0M229 481h0M240 481h0M251 481h0M271 481h0M274 481h0M286 481h0M292 481h0M181 482h0M200 482h0M210 482h0M223 482h0M277 482h0M293 482h0M298 482h0M339 482h0M206 483h0M209 483h0M272 483h0M286 483h0M171 484h0M203 484h0M240 484h0M245 484h0M260 484h0M263 484h0M265 484h0M275 484h0M359 484h0M179 485h0M201 485h0M210 485h0M215 485h0M223 485h0M226 485h0M232 485h0M276 485h0M306 485h0M312 485h0M118 486h0M191 486h0M214 486h0M234 486h0M267 486h0M271 486h0M285 486h0M289 486h0M294 486h0M315 486h0M133 487h0M199 487h0M203 487h0M204 487h0M206 487h0M219 487h0M221 487h0M224 487h0M280 487h0M299 487h0M300 487h0M306 487h0M313 487h0M201 488h0M219 488h0M230 488h0M232 488h0M256 488h0M276 488h0M291 488h0M197 489h0M202 489h0M211 489h0M229 489h0M239 489h0M242 489h0M255 489h0M269 489h0M329 489h0M344 489h0M167 490h0M176 490h0M185 490h0M188 490h0M195 490h0M206 490h0M208 490h0M210 490h0M221 490h0M226 490h0M234 490h0M262 490h0M350 490h0M165 491h0M200 491h0M213 491h0M215 491h0M217 491h0M225 491h0M230 491h0M233 491h0M239 491h0M245 491h0M249 491h0M252 491h0M254 491h0M279 491h0M289 491h0M291 491h0M307 491h0M178 492h0M207 492h0M210 492h0M220 492h0M223 492h0M226 492h0M231 492h0M243 492h0M244 492h0M249 492h0M252 492h0M274 492h0M364 492h0M108 493h0M191 493h0M199 493h0M204 493h0M208 493h0M212 493h0M214 493h0M217 493h0M225 493h0M228 493h0M233 493h0M235 493h0M237 493h0M247 493h0M278 493h0M290 493h0M140 494h0M180 494h0M196 494h0M205 494h0M211 494h0M225 494h0M243 494h0M244 494h0M250 494h0M254 494h0M256 494h0M268 494h0M297 494h0M320 494h0M195 495h0M199 495h0M202 495h0M206 495h0M209 495h0M213 495h0M215 495h0M216 495h0M218 495h0M221 495h0M223 495h0M227 495h0M229 495h0M230 495h0M232 495h0M234 495h0M238 495h0M240 495h0M249 495h0M264 495h0M272 495h0M275 495h0M307 495h0M316 495h0M180 496h0M198 496h0M201 496h0M202 496h0M211 496h0M224 496h0M239 496h0M243 496h0M244 496h0M248 496h0M260 496h0M136 497h0M175 497h0M188 497h0M194 497h0M196 497h0M204 497h0M206 497h0M208 497h0M215 497h0M217 497h0M219 497h0M221 497h0M223 497h0M226 497h0M229 497h0M230 497h0M233 497h0M235 497h0M195 498h0M196 498h0M211 498h0M213 498h0M227 498h0M230 498h0M233 498h0M268 498h0M280 498h0M170 499h0M187 499h0M191 499h0M198 499h0M201 499h0M203 499h0M205 499h0M207 499h0M208 499h0M215 499h0M216 499h0M221 499h0M222 499h0M228 499h0M267 499h0M291 499h0M167 500h0M182 500h0M201 500h0M205 500h0M215 500h0M230 500h0M155 501h0M180 501h0M192 501h0M195 501h0M198 501h0M203 501h0M207 501h0M209 501h0M211 501h0M213 501h0M217 501h0M218 501h0M221 501h0M224 501h0M266 501h0M269 501h0M285 501h0M294 501h0M298 501h0M155 502h0M168 502h0M197 502h0M206 502h0M216 502h0M269 502h0M334 502h0M140 503h0M179 503h0M181 503h0M184 503h0M189 503h0M191 503h0M201 503h0M203 503h0M205 503h0M208 503h0M211 503h0M213 503h0M214 503h0M220 503h0M175 504h0M178 504h0M183 504h0M200 504h0M210 504h0M213 504h0M272 504h0M327 504h0M172 505h0M180 505h0M186 505h0M188 505h0M190 505h0M193 505h0M196 505h0M199 505h0M203 505h0M205 505h0M207 505h0M208 505h0M214 505h0M216 505h0M277 505h0M123 506h0M160 506h0M174 506h0M177 506h0M185 506h0M188 506h0M195 506h0M196 506h0M213 506h0M350 506h0M172 507h0M182 507h0M190 507h0M193 507h0M198 507h0M201 507h0M202 507h0M206 507h0M209 507h0M211 507h0M300 507h0M157 508h0M209 508h0M270 508h0M298 508h0M147 509h0M166 509h0M171 509h0M177 509h0M179 509h0M181 509h0M184 509h0M187 509h0M189 509h0M190 509h0M193 509h0M194 509h0M197 509h0M199 509h0M201 509h0M203 509h0M205 509h0M296 509h0M301 509h0M322 509h0M185 510h0M189 510h0M268 510h0M272 510h0M165 511h0M174 511h0M178 511h0M183 511h0M187 511h0M191 511h0M193 511h0M194 511h0M197 511h0M199 511h0M200 511h0M203 511h0M205 511h0M266 511h0M329 511h0M149 512h0M158 512h0M161 512h0M171 512h0M174 512h0M179 512h0M191 512h0M286 512h0M294 512h0M300 512h0M144 513h0M164 513h0M166 513h0M169 513h0M172 513h0M180 513h0M183 513h0M185 513h0M187 513h0M189 513h0M192 513h0M194 513h0M197 513h0M198 513h0M201 513h0M330 513h0M334 513h0M118 514h0M160 514h0M170 514h0M179 514h0M181 514h0M194 514h0M277 514h0M279 514h0M138 515h0M166 515h0M174 515h0M176 515h0M186 515h0M188 515h0M190 515h0M192 515h0M196 515h0M198 515h0M299 515h0M331 515h0M144 516h0M146 516h0M159 516h0M183 516h0M185 516h0M190 516h0M193 516h0M273 516h0M284 516h0M115 517h0M142 517h0M166 517h0M171 517h0M172 517h0M175 517h0M177 517h0M178 517h0M181 517h0M187 517h0M189 517h0M195 517h0M196 517h0M266 517h0M288 517h0M300 517h0M144 518h0M151 518h0M154 518h0M159 518h0M169 518h0M170 518h0M179 518h0M187 518h0M271 518h0M281 518h0M309 518h0M163 519h0M165 519h0M172 519h0M174 519h0M177 519h0M181 519h0M183 519h0M185 519h0M189 519h0M190 519h0M286 519h0M306 519h0M165 520h0M183 520h0M185 520h0M267 520h0M281 520h0M291 520h0M303 520h0M306 520h0M329 520h0M136 521h0M141 521h0M150 521h0M155 521h0M159 521h0M166 521h0M169 521h0M173 521h0M175 521h0M176 521h0M179 521h0M181 521h0M186 521h0M188 521h0M313 521h0M157 522h0M158 522h0M161 522h0M168 522h0M179 522h0M184 522h0M187 522h0M268 522h0M338 522h0M136 523h0M147 523h0M163 523h0M167 523h0M171 523h0M173 523h0M175 523h0M177 523h0M181 523h0M182 523h0M277 523h0M130 524h0M150 524h0M158 524h0M166 524h0M169 524h0M174 524h0M177 524h0M267 524h0M269 524h0M272 524h0M286 524h0M293 524h0M321 524h0M139 525h0M161 525h0M163 525h0M165 525h0M170 525h0M172 525h0M179 525h0M181 525h0M183 525h0M263 525h0M264 525h0M156 526h0M163 526h0M176 526h0M181 526h0M263 526h0M266 526h0M268 526h0M289 526h0M121 527h0M130 527h0M137 527h0M142 527h0M153 527h0M155 527h0M159 527h0M167 527h0M168 527h0M170 527h0M173 527h0M174 527h0M179 527h0M271 527h0M308 527h0M310 527h0M129 528h0M134 528h0M145 528h0M153 528h0M173 528h0M267 528h0M280 528h0M289 528h0M116 529h0M147 529h0M158 529h0M161 529h0M163 529h0M164 529h0M169 529h0M170 529h0M175 529h0M177 529h0M178 529h0M268 529h0M272 529h0M301 529h0M102 530h0M131 530h0M149 530h0M150 530h0M165 530h0M167 530h0M173 530h0M287 530h0M318 530h0M320 530h0M143 531h0M147 531h0M155 531h0M157 531h0M159 531h0M161 531h0M163 531h0M169 531h0M170 531h0M260 531h0M274 531h0M124 532h0M127 532h0M141 532h0M152 532h0M320 532h0M145 533h0M147 533h0M151 533h0M155 533h0M157 533h0M158 533h0M162 533h0M164 533h0M167 533h0M169 533h0M170 533h0M172 533h0M303 533h0M129 534h0M143 534h0M153 534h0M157 534h0M165 534h0M259 534h0M262 534h0M293 534h0M305 534h0M140 535h0M145 535h0M147 535h0M149 535h0M155 535h0M159 535h0M161 535h0M163 535h0M167 535h0M170 535h0M280 535h0M132 536h0M136 536h0M142 536h0M145 536h0M151 536h0M157 536h0M158 536h0M258 536h0M304 536h0M120 537h0M125 537h0M135 537h0M139 537h0M146 537h0M149 537h0M153 537h0M155 537h0M163 537h0M164 537h0M167 537h0M260 537h0M123 538h0M126 538h0M129 538h0M141 538h0M157 538h0M162 538h0M165 538h0M262 538h0M145 539h0M147 539h0M149 539h0M151 539h0M153 539h0M155 539h0M159 539h0M160 539h0M254 539h0M265 539h0M307 539h0M131 540h0M145 540h0M154 540h0M159 540h0M259 540h0M127 541h0M132 541h0M143 541h0M147 541h0M151 541h0M152 541h0M161 541h0M255 541h0M256 541h0M273 541h0M276 541h0M286 541h0M302 541h0M145 542h0M147 542h0M151 542h0M155 542h0M266 542h0M268 542h0M271 542h0M107 543h0M130 543h0M135 543h0M139 543h0M148 543h0M152 543h0M156 543h0M159 543h0M253 543h0M309 543h0M316 543h0M318 543h0M138 544h0M140 544h0M251 544h0M256 544h0M266 544h0M288 544h0M290 544h0M304 544h0M312 544h0M127 545h0M131 545h0M142 545h0M145 545h0M147 545h0M149 545h0M150 545h0M153 545h0M156 545h0M276 545h0M282 545h0M119 546h0M138 546h0M143 546h0M145 546h0M154 546h0M253 546h0M257 546h0M264 546h0M272 546h0M323 546h0M106 547h0M127 547h0M131 547h0M133 547h0M134 547h0M140 547h0M146 547h0M148 547h0M151 547h0M153 547h0M279 547h0M121 548h0M122 548h0M136 548h0M147 548h0M252 548h0M270 548h0M277 548h0M306 548h0M127 549h0M131 549h0M132 549h0M138 549h0M141 549h0M143 549h0M145 549h0M149 549h0M260 549h0M250 550h0M252 550h0M263 550h0M309 550h0M322 550h0M131 551h0M134 551h0M137 551h0M141 551h0M142 551h0M145 551h0M149 551h0M314 551h0M125 552h0M145 552h0M247 552h0M316 552h0M116 553h0M126 553h0M131 553h0M137 553h0M138 553h0M141 553h0M143 553h0M248 553h0M256 553h0M266 553h0M269 553h0M273 553h0M283 553h0M319 553h0M116 554h0M121 554h0M133 554h0M145 554h0M245 554h0M251 554h0M278 554h0M305 554h0M127 555h0M135 555h0M139 555h0M140 555h0M143 555h0M257 555h0M123 556h0M127 556h0M131 556h0M133 556h0M140 556h0M294 556h0M117 557h0M120 557h0M134 557h0M137 557h0M243 557h0M244 557h0M247 557h0M100 558h0M123 558h0M125 558h0M133 558h0M135 558h0M245 558h0M302 558h0M108 559h0M121 559h0M126 559h0M139 559h0M238 559h0M253 559h0M270 559h0M277 559h0M309 559h0M122 560h0M131 560h0M239 560h0M247 560h0M261 560h0M111 561h0M113 561h0M119 561h0M125 561h0M127 561h0M129 561h0M134 561h0M281 561h0M131 562h0M135 562h0M240 562h0M267 562h0M272 562h0M123 563h0M125 563h0M126 563h0M129 563h0M246 563h0M117 564h0M234 564h0M238 564h0M256 564h0M109 565h0M111 565h0M118 565h0M123 565h0M125 565h0M128 565h0M131 565h0M236 565h0M249 565h0M109 566h0M110 566h0M112 566h0M115 566h0M121 566h0M129 566h0M239 566h0M240 566h0M248 566h0M274 566h0M282 566h0M97 567h0M123 567h0M124 567h0M127 567h0M231 567h0M232 567h0M234 567h0M252 567h0M268 567h0M125 568h0M107 569h0M113 569h0M119 569h0M122 569h0M127 569h0M110 570h0M117 570h0M123 570h0M266 570h0M120 571h0M263 571h0M117 572h0M119 572h0M121 572h0M233 572h0M313 572h0M105 573h0M113 573h0M114 573h0M263 573h0M103 574h0M108 574h0M114 574h0M225 574h0M230 574h0M244 574h0M97 575h0M105 575h0M107 575h0M111 575h0M113 575h0M116 575h0M119 575h0M226 575h0M242 575h0M106 576h0M113 576h0M117 576h0M221 576h0M225 576h0M247 576h0M97 577h0M101 577h0M103 577h0M105 577h0M108 577h0M114 577h0M222 577h0M229 577h0M283 577h0M97 578h0M99 578h0M112 578h0M117 578h0M227 578h0M232 578h0M104 579h0M107 579h0M108 579h0M111 579h0M115 579h0M221 579h0M231 579h0M271 579h0M96 580h0M102 580h0M105 580h0M228 580h0M275 580h0M99 581h0M106 581h0M109 581h0M112 581h0M239 581h0M97 582h0M101 582h0M107 582h0M215 582h0M219 582h0M225 582h0M227 582h0M228 582h0M234 582h0M98 583h0M103 583h0M108 583h0M110 583h0M216 583h0M221 583h0M220 584h0M223 584h0M226 584h0M97 585h0M99 585h0M100 585h0M103 585h0M105 585h0M107 585h0M217 585h0M102 586h0M211 586h0M216 586h0M222 586h0M234 586h0M237 586h0M97 587h0M99 587h0M101 587h0M105 587h0M209 587h0M212 587h0M219 587h0M227 587h0M105 588h0M214 588h0M97 589h0M101 589h0M102 589h0M208 589h0M298 589h0M99 590h0M101 590h0M206 590h0M210 590h0M213 590h0M216 590h0M220 590h0M97 591h0M205 591h0M97 592h0M102 592h0M208 592h0M213 592h0M225 592h0M226 592h0M100 593h0M210 593h0M203 594h0M211 594h0M240 594h0M204 595h0M207 595h0M219 595h0M199 596h0M206 596h0M97 597h0M197 597h0M211 597h0M215 597h0M196 598h0M200 598h0M208 598h0M198 599h0M211 599h0M218 599h0M229 599h0M194 600h0M196 600h0M199 600h0M206 600h0M213 601h0M193 602h0M194 602h0M200 602h0M210 602h0M190 603h0M218 603h0M230 603h0M189 604h0M192 604h0M203 604h0M191 605h0M194 605h0M197 605h0M199 605h0M204 605h0M188 606h0M191 606h0M185 607h0M202 607h0M212 607h0M186 608h0M192 608h0M199 608h0M247 608h0M183 609h0M196 609h0M214 609h0M185 610h0M186 610h0M215 610h0M213 611h0M192 612h0M180 613h0M188 613h0M182 614h0M200 614h0M178 615h0M180 615h0M195 615h0M204 615h0M175 616h0M181 616h0M198 616h0M224 616h0M182 618h0M190 618h0M192 618h0M174 619h0M178 619h0M225 619h0M186 620h0M201 620h0M215 620h0M220 620h0M225 620h0M170 621h0M172 621h0M183 621h0M172 622h0M186 622h0M167 623h0M205 623h0M166 624h0M170 624h0M180 624h0M198 624h0M164 625h0M190 625h0M162 626h0M165 626h0M166 626h0M171 626h0M178 626h0M184 626h0M191 626h0M174 627h0M238 627h0M162 628h0M164 628h0M167 628h0M180 628h0M190 628h0M195 628h0M168 629h0M157 630h0M160 630h0M162 630h0M199 630h0M172 631h0M155 632h0M159 632h0M188 632h0M157 633h0M163 633h0M164 633h0M183 633h0M151 634h0M159 634h0M166 634h0M176 634h0M203 634h0M207 634h0M152 635h0M161 635h0M163 635h0M181 635h0M231 635h0M147 636h0M148 636h0M150 636h0M153 636h0M154 636h0M157 636h0M161 636h0M147 638h0M149 638h0M152 638h0M154 638h0M158 638h0M235 638h0"/>
<path stroke="#2c3baf" d="M247 497h0M252 497h0M238 498h0M261 498h0M236 499h0M240 499h0M247 499h0M248 499h0M252 499h0M254 499h0M262 499h0M236 500h0M243 500h0M248 500h0M253 500h0M258 500h0M229 501h0M233 501h0M235 501h0M238 501h0M241 501h0M244 501h0M251 501h0M254 501h0M235 502h0M239 502h0M240 502h0M242 502h0M255 502h0M256 502h0M259 502h0M222 503h0M225 503h0M226 503h0M228 503h0M231 503h0M232 503h0M237 503h0M246 503h0M248 503h0M250 503h0M252 503h0M265 503h0M266 503h0M258 504h0M262 504h0M219 505h0M221 505h0M222 505h0M225 505h0M229 505h0M233 505h0M236 505h0M238 505h0M245 505h0M246 505h0M249 505h0M251 505h0M252 505h0M256 505h0M260 505h0M238 506h0M258 506h0M217 507h0M219 507h0M221 507h0M225 507h0M226 507h0M229 507h0M230 507h0M233 507h0M235 507h0M237 507h0M241 507h0M242 507h0M245 507h0M248 507h0M250 507h0M254 507h0M260 507h0M264 507h0M215 508h0M219 508h0M227 508h0M248 508h0M252 508h0M262 508h0M213 509h0M221 509h0M222 509h0M224 509h0M229 509h0M231 509h0M232 509h0M235 509h0M237 509h0M239 509h0M243 509h0M244 509h0M246 509h0M250 509h0M254 509h0M256 509h0M258 509h0M260 509h0M214 510h0M217 510h0M232 510h0M237 510h0M247 510h0M250 510h0M252 510h0M256 510h0M262 510h0M206 511h0M208 511h0M212 511h0M221 511h0M223 511h0M227 511h0M228 511h0M231 511h0M235 511h0M239 511h0M241 511h0M242 511h0M244 511h0M248 511h0M254 511h0M259 511h0M260 511h0M264 511h0M210 512h0M213 512h0M219 512h0M220 512h0M225 512h0M234 512h0M239 512h0M242 512h0M244 512h0M252 512h0M260 512h0M262 512h0M204 513h0M207 513h0M209 513h0M215 513h0M217 513h0M222 513h0M227 513h0M228 513h0M230 513h0M232 513h0M236 513h0M241 513h0M246 513h0M248 513h0M251 513h0M254 513h0M256 513h0M207 514h0M216 514h0M230 514h0M233 514h0M258 514h0M201 515h0M203 515h0M205 515h0M208 515h0M210 515h0M213 515h0M214 515h0M218 515h0M222 515h0M224 515h0M226 515h0M229 515h0M234 515h0M237 515h0M242 515h0M244 515h0M249 515h0M250 515h0M252 515h0M254 515h0M256 515h0M261 515h0M264 515h0M217 516h0M218 516h0M223 516h0M225 516h0M246 516h0M248 516h0M250 516h0M254 516h0M258 516h0M264 516h0M200 517h0M203 517h0M205 517h0M207 517h0M210 517h0M212 517h0M214 517h0M221 517h0M235 517h0M240 517h0M242 517h0M244 517h0M252 517h0M256 517h0M262 517h0M240 518h0M242 518h0M246 518h0M256 518h0M262 518h0M264 518h0M193 519h0M194 519h0M196 519h0M200 519h0M204 519h0M209 519h0M210 519h0M212 519h0M215 519h0M244 519h0M248 519h0M250 519h0M254 519h0M259 519h0M260 519h0M205 520h0M249 520h0M252 520h0M254 520h0M256 520h0M258 520h0M260 520h0M191 521h0M192 521h0M194 521h0M197 521h0M199 521h0M201 521h0M202 521h0M206 521h0M209 521h0M211 521h0M242 521h0M244 521h0M195 522h0M197 522h0M201 522h0M207 522h0M242 522h0M244 522h0M246 522h0M248 522h0M252 522h0M256 522h0M190 523h0M193 523h0M199 523h0M202 523h0M204 523h0M250 523h0M255 523h0M258 523h0M185 524h0M190 524h0M194 524h0M196 524h0M245 524h0M246 524h0M250 524h0M253 524h0M254 524h0M257 524h0M258 524h0M187 525h0M188 525h0M192 525h0M198 525h0M200 525h0M203 525h0M249 525h0M260 525h0M187 526h0M202 526h0M244 526h0M248 526h0M251 526h0M252 526h0M255 526h0M259 526h0M182 527h0M185 527h0M188 527h0M190 527h0M193 527h0M195 527h0M197 527h0M198 527h0M201 527h0M246 527h0M256 527h0M196 528h0M243 528h0M252 528h0M255 528h0M259 528h0M260 528h0M181 529h0M184 529h0M186 529h0M189 529h0M191 529h0M193 529h0M194 529h0M244 529h0M246 529h0M249 529h0M250 529h0M256 529h0M184 530h0M242 530h0M246 530h0M251 530h0M253 530h0M255 530h0M258 530h0M175 531h0M177 531h0M181 531h0M183 531h0M186 531h0M189 531h0M191 531h0M193 531h0M245 531h0M249 531h0M182 532h0M186 532h0M189 532h0M243 532h0M250 532h0M254 532h0M174 533h0M176 533h0M179 533h0M180 533h0M184 533h0M245 533h0M253 533h0M188 534h0M245 534h0M246 534h0M249 534h0M254 534h0M256 534h0M173 535h0M174 535h0M177 535h0M178 535h0M180 535h0M182 535h0M240 535h0M252 535h0M242 536h0M244 536h0M247 536h0M248 536h0M168 537h0M170 537h0M173 537h0M175 537h0M177 537h0M179 537h0M181 537h0M183 537h0M240 537h0M251 537h0M252 537h0M255 537h0M173 538h0M243 538h0M248 538h0M251 538h0M167 539h0M169 539h0M171 539h0M175 539h0M177 539h0M179 539h0M240 539h0M244 539h0M246 539h0M252 539h0M171 540h0M238 540h0M242 540h0M244 540h0M249 540h0M162 541h0M167 541h0M169 541h0M173 541h0M175 541h0M240 541h0M246 541h0M237 542h0M238 542h0M240 542h0M242 542h0M244 542h0M247 542h0M248 542h0M161 543h0M164 543h0M169 543h0M171 543h0M173 543h0M174 543h0M159 544h0M172 544h0M235 544h0M238 544h0M240 544h0M247 544h0M248 544h0M160 545h0M162 545h0M165 545h0M167 545h0M170 545h0M243 545h0M165 546h0M167 546h0M239 546h0M241 546h0M245 546h0M248 546h0M157 547h0M158 547h0M161 547h0M162 547h0M168 547h0M171 547h0M234 547h0M235 548h0M236 548h0M238 548h0M242 548h0M153 549h0M155 549h0M156 549h0M159 549h0M161 549h0M163 549h0M165 549h0M232 549h0M240 549h0M234 550h0M236 550h0M241 550h0M151 551h0M152 551h0M155 551h0M156 551h0M159 551h0M161 551h0M163 551h0M232 551h0M239 551h0M151 552h0M229 552h0M234 552h0M239 552h0M240 552h0M147 553h0M148 553h0M152 553h0M155 553h0M156 553h0M158 553h0M161 553h0M230 553h0M232 553h0M237 553h0M242 553h0M149 554h0M151 554h0M229 554h0M233 554h0M237 554h0M146 555h0M152 555h0M154 555h0M157 555h0M159 555h0M230 555h0M145 556h0M149 556h0M152 556h0M230 556h0M236 556h0M238 556h0M143 557h0M146 557h0M155 557h0M157 557h0M227 557h0M232 557h0M149 558h0M225 558h0M227 558h0M229 558h0M234 558h0M237 558h0M143 559h0M147 559h0M150 559h0M153 559h0M154 559h0M231 559h0M148 560h0M152 560h0M224 560h0M226 560h0M229 560h0M232 560h0M236 560h0M137 561h0M138 561h0M141 561h0M143 561h0M144 561h0M147 561h0M150 561h0M221 561h0M230 561h0M224 562h0M226 562h0M228 562h0M231 562h0M233 562h0M137 563h0M138 563h0M141 563h0M147 563h0M135 564h0M145 564h0M147 564h0M219 564h0M220 564h0M224 564h0M226 564h0M230 564h0M232 564h0M132 565h0M137 565h0M140 565h0M143 565h0M228 565h0M132 566h0M139 566h0M217 566h0M218 566h0M220 566h0M223 566h0M224 566h0M130 567h0M135 567h0M136 567h0M141 567h0M142 567h0M139 568h0M141 568h0M143 568h0M216 568h0M218 568h0M221 568h0M222 568h0M225 568h0M227 568h0M228 568h0M129 569h0M131 569h0M133 569h0M135 569h0M137 569h0M214 569h0M127 570h0M139 570h0M141 570h0M215 570h0M218 570h0M224 570h0M227 570h0M125 571h0M129 571h0M130 571h0M133 571h0M135 571h0M136 571h0M216 571h0M220 571h0M131 572h0M133 572h0M213 572h0M214 572h0M217 572h0M218 572h0M221 572h0M224 572h0M122 573h0M125 573h0M126 573h0M128 573h0M135 573h0M137 573h0M133 574h0M211 574h0M212 574h0M216 574h0M219 574h0M222 574h0M121 575h0M123 575h0M125 575h0M127 575h0M129 575h0M131 575h0M134 575h0M209 575h0M220 575h0M120 576h0M123 576h0M124 576h0M126 576h0M133 576h0M207 576h0M208 576h0M213 576h0M214 576h0M218 576h0M119 577h0M129 577h0M210 577h0M216 577h0M205 578h0M209 578h0M210 578h0M216 578h0M119 579h0M121 579h0M123 579h0M125 579h0M127 579h0M129 579h0M206 579h0M203 580h0M215 580h0M117 581h0M119 581h0M120 581h0M123 581h0M127 581h0M204 581h0M206 581h0M208 581h0M210 581h0M213 581h0M117 582h0M202 582h0M209 582h0M210 582h0M113 583h0M114 583h0M119 583h0M121 583h0M123 583h0M124 583h0M200 583h0M206 583h0M212 583h0M117 584h0M121 584h0M200 584h0M206 584h0M208 584h0M210 584h0M109 585h0M111 585h0M113 585h0M114 585h0M119 585h0M123 585h0M198 585h0M111 586h0M197 586h0M199 586h0M202 586h0M205 586h0M109 587h0M113 587h0M116 587h0M119 587h0M200 587h0M206 587h0M107 588h0M115 588h0M194 588h0M199 588h0M108 589h0M111 589h0M113 589h0M117 589h0M196 589h0M200 589h0M105 590h0M107 590h0M110 590h0M113 590h0M115 590h0M191 590h0M193 590h0M194 590h0M196 590h0M199 590h0M200 590h0M103 591h0M109 591h0M189 592h0M191 592h0M192 592h0M196 592h0M199 592h0M109 593h0M110 593h0M113 593h0M200 593h0M113 594h0M186 594h0M188 594h0M191 594h0M194 594h0M198 594h0M200 594h0M101 595h0M102 595h0M105 595h0M106 595h0M108 595h0M111 595h0M103 596h0M108 596h0M111 596h0M184 596h0M188 596h0M191 596h0M192 596h0M194 596h0M99 597h0M101 597h0M105 597h0M107 597h0M186 597h0M99 598h0M109 598h0M181 598h0M184 598h0M186 598h0M190 598h0M193 598h0M195 598h0M97 599h0M100 599h0M102 599h0M104 599h0M188 599h0M104 600h0M179 600h0M181 600h0M184 600h0M188 600h0M190 600h0M101 601h0M102 601h0M186 601h0M101 602h0M103 602h0M177 602h0M178 602h0M182 602h0M185 602h0M186 602h0M98 603h0M180 603h0M97 604h0M174 604h0M176 604h0M181 604h0M184 604h0M186 604h0M98 605h0M101 605h0M171 606h0M172 606h0M176 606h0M178 606h0M181 606h0M97 607h0M183 607h0M97 608h0M171 608h0M176 608h0M168 609h0M179 609h0M180 609h0M168 610h0M172 610h0M175 610h0M179 610h0M176 611h0M180 611h0M164 612h0M166 612h0M169 612h0M172 612h0M174 612h0M170 613h0M165 614h0M166 614h0M168 614h0M173 614h0M174 614h0M176 614h0M170 615h0M161 616h0M163 616h0M164 616h0M167 616h0M168 616h0M170 616h0M172 616h0M158 618h0M160 618h0M163 618h0M164 618h0M166 618h0M170 618h0M157 619h0M168 619h0M154 620h0M162 620h0M168 620h0M156 621h0M158 621h0M161 621h0M151 622h0M152 622h0M154 622h0M156 622h0M160 622h0M159 623h0M163 623h0M154 624h0M163 624h0M157 625h0M158 625h0M161 625h0M147 626h0M150 626h0M152 626h0M156 626h0M161 626h0M149 627h0M154 627h0M145 628h0M147 628h0M148 628h0M153 628h0M157 628h0M150 629h0M154 629h0M141 630h0M144 630h0M147 630h0M142 631h0M149 631h0M150 631h0M154 631h0M138 632h0M140 632h0M142 632h0M144 632h0M146 632h0M148 632h0M152 632h0M138 634h0M140 634h0M142 634h0M145 634h0M149 634h0M136 635h0M147 635h0M132 636h0M137 636h0M138 636h0M140 636h0M143 636h0M144 636h0M131 637h0M134 637h0M129 638h0M131 638h0M132 638h0M134 638h0M137 638h0M141 638h0M142 638h0M138 639h0"/>
<path stroke="#2d43b5" d="M226 517h0M228 517h0M231 517h0M237 517h0M223 518h0M226 518h0M238 518h0M217 519h0M219 519h0M220 519h0M224 519h0M228 519h0M231 519h0M232 519h0M234 519h0M236 519h0M225 520h0M234 520h0M214 521h0M217 521h0M219 521h0M220 521h0M222 521h0M226 521h0M229 521h0M231 521h0M232 521h0M236 521h0M238 521h0M213 522h0M220 522h0M228 522h0M230 522h0M215 523h0M217 523h0M219 523h0M222 523h0M225 523h0M227 523h0M232 523h0M235 523h0M237 523h0M238 523h0M240 523h0M209 524h0M214 524h0M223 524h0M236 524h0M242 524h0M205 525h0M211 525h0M217 525h0M218 525h0M220 525h0M225 525h0M226 525h0M228 525h0M230 525h0M232 525h0M234 525h0M239 525h0M240 525h0M210 526h0M224 526h0M234 526h0M236 526h0M240 526h0M242 526h0M205 527h0M207 527h0M208 527h0M213 527h0M214 527h0M218 527h0M220 527h0M222 527h0M227 527h0M229 527h0M230 527h0M232 527h0M202 528h0M205 528h0M223 528h0M233 528h0M234 528h0M198 529h0M201 529h0M206 529h0M208 529h0M210 529h0M212 529h0M214 529h0M217 529h0M218 529h0M220 529h0M224 529h0M227 529h0M228 529h0M237 529h0M238 529h0M240 529h0M203 530h0M213 530h0M235 530h0M238 530h0M195 531h0M197 531h0M199 531h0M201 531h0M205 531h0M207 531h0M210 531h0M214 531h0M216 531h0M219 531h0M221 531h0M222 531h0M224 531h0M227 531h0M228 531h0M230 531h0M232 531h0M221 532h0M231 532h0M232 532h0M236 532h0M240 532h0M191 533h0M193 533h0M195 533h0M197 533h0M198 533h0M202 533h0M205 533h0M207 533h0M224 533h0M226 533h0M228 533h0M239 533h0M203 534h0M229 534h0M231 534h0M233 534h0M187 535h0M190 535h0M195 535h0M197 535h0M199 535h0M200 535h0M224 535h0M234 535h0M236 535h0M230 536h0M232 536h0M234 536h0M236 536h0M185 537h0M187 537h0M188 537h0M190 537h0M192 537h0M195 537h0M197 537h0M224 537h0M227 537h0M228 537h0M238 537h0M225 538h0M226 538h0M236 538h0M238 538h0M183 539h0M184 539h0M189 539h0M191 539h0M192 539h0M228 539h0M231 539h0M232 539h0M234 539h0M226 540h0M234 540h0M179 541h0M180 541h0M185 541h0M186 541h0M188 541h0M224 541h0M229 541h0M232 541h0M236 541h0M184 542h0M187 542h0M224 542h0M232 542h0M234 542h0M177 543h0M179 543h0M181 543h0M183 543h0M226 543h0M229 543h0M230 543h0M175 544h0M176 544h0M222 544h0M228 544h0M231 544h0M181 545h0M183 545h0M184 545h0M224 545h0M226 545h0M232 545h0M222 546h0M224 546h0M232 546h0M173 547h0M174 547h0M177 547h0M179 547h0M226 547h0M229 547h0M230 547h0M169 548h0M222 548h0M225 548h0M226 548h0M228 548h0M170 549h0M173 549h0M175 549h0M176 549h0M230 549h0M166 550h0M224 550h0M230 550h0M165 551h0M169 551h0M170 551h0M222 551h0M227 551h0M169 552h0M170 552h0M224 552h0M226 552h0M163 553h0M165 553h0M167 553h0M218 553h0M220 553h0M222 553h0M168 554h0M218 554h0M220 554h0M160 555h0M163 555h0M165 555h0M167 555h0M223 555h0M224 555h0M226 555h0M161 556h0M165 556h0M220 556h0M225 556h0M158 557h0M217 557h0M218 557h0M222 557h0M215 558h0M216 558h0M218 558h0M220 558h0M222 558h0M156 559h0M158 559h0M160 559h0M162 559h0M155 560h0M160 560h0M214 560h0M219 560h0M222 560h0M157 561h0M158 561h0M213 561h0M216 561h0M153 562h0M212 562h0M214 562h0M218 562h0M220 562h0M150 563h0M154 563h0M157 563h0M217 563h0M210 564h0M215 564h0M217 564h0M149 565h0M151 565h0M153 565h0M154 565h0M208 565h0M213 565h0M209 566h0M212 566h0M145 567h0M151 567h0M152 567h0M207 567h0M214 567h0M145 568h0M212 568h0M147 569h0M206 569h0M208 569h0M210 569h0M144 570h0M204 570h0M212 570h0M142 571h0M207 571h0M202 572h0M204 572h0M210 572h0M138 573h0M141 573h0M143 573h0M206 573h0M208 573h0M200 574h0M203 574h0M204 574h0M137 575h0M139 575h0M141 575h0M206 575h0M135 576h0M199 576h0M200 576h0M202 576h0M204 576h0M137 577h0M138 577h0M132 578h0M196 578h0M198 578h0M131 579h0M135 579h0M194 580h0M196 580h0M199 580h0M200 580h0M128 581h0M131 581h0M133 581h0M131 582h0M192 582h0M194 582h0M198 582h0M129 583h0M197 583h0M190 584h0M194 584h0M127 585h0M129 585h0M192 585h0M196 585h0M122 586h0M188 586h0M192 586h0M194 586h0M121 587h0M126 587h0M190 587h0M188 588h0M190 588h0M192 588h0M120 589h0M122 589h0M186 589h0M119 590h0M121 590h0M184 590h0M189 590h0M117 591h0M186 591h0M119 592h0M182 592h0M184 592h0M186 592h0M115 593h0M117 593h0M117 594h0M178 594h0M180 594h0M184 594h0M115 595h0M182 595h0M113 596h0M181 596h0M182 596h0M178 597h0M176 598h0M178 598h0M107 599h0M111 599h0M113 599h0M107 600h0M109 600h0M172 600h0M174 600h0M110 601h0M176 601h0M107 602h0M175 602h0M105 603h0M108 603h0M173 603h0M166 604h0M168 604h0M173 604h0M105 605h0M170 605h0M103 606h0M105 606h0M167 606h0M168 606h0M164 608h0M167 608h0M98 609h0M100 609h0M103 609h0M162 609h0M99 610h0M162 610h0M164 610h0M97 611h0M161 611h0M157 612h0M158 612h0M160 612h0M162 612h0M161 614h0M154 615h0M156 615h0M159 615h0M158 616h0M152 617h0M156 617h0M150 618h0M154 618h0M152 619h0M153 620h0M147 621h0M149 621h0M150 621h0M146 623h0M149 623h0M143 624h0M144 624h0M146 624h0M148 624h0M143 626h0M144 626h0M139 627h0M141 627h0M139 628h0M140 628h0M142 628h0M137 629h0M135 630h0M136 630h0M139 630h0M134 632h0M136 632h0M133 633h0M130 634h0M132 634h0M134 634h0M128 635h0M129 636h0M125 638h0M126 638h0"/>
<path stroke="#2d4bbc" d="M217 532h0M218 532h0M209 533h0M211 533h0M212 533h0M214 533h0M222 533h0M209 534h0M218 534h0M206 535h0M210 535h0M212 535h0M214 535h0M216 535h0M220 535h0M222 535h0M202 536h0M222 536h0M198 537h0M201 537h0M205 537h0M207 537h0M211 537h0M212 537h0M214 537h0M216 537h0M218 537h0M220 537h0M198 538h0M204 538h0M216 538h0M222 538h0M195 539h0M197 539h0M200 539h0M203 539h0M207 539h0M208 539h0M213 539h0M214 539h0M218 539h0M220 539h0M196 540h0M207 540h0M209 540h0M214 540h0M222 540h0M191 541h0M193 541h0M195 541h0M198 541h0M201 541h0M203 541h0M204 541h0M210 541h0M212 541h0M216 541h0M218 541h0M220 541h0M192 542h0M197 542h0M198 542h0M207 542h0M216 542h0M189 543h0M190 543h0M194 543h0M201 543h0M203 543h0M209 543h0M211 543h0M212 543h0M215 543h0M218 543h0M222 543h0M192 544h0M213 544h0M216 544h0M221 544h0M187 545h0M189 545h0M191 545h0M195 545h0M196 545h0M201 545h0M206 545h0M209 545h0M210 545h0M215 545h0M218 545h0M183 546h0M187 546h0M191 546h0M193 546h0M208 546h0M214 546h0M218 546h0M184 547h0M188 547h0M207 547h0M210 547h0M212 547h0M217 547h0M220 547h0M179 548h0M181 548h0M211 548h0M213 548h0M215 548h0M216 548h0M218 548h0M220 548h0M182 549h0M184 549h0M187 549h0M188 549h0M185 550h0M213 550h0M215 550h0M216 550h0M218 550h0M177 551h0M178 551h0M180 551h0M183 551h0M208 551h0M211 551h0M174 552h0M177 552h0M208 552h0M213 552h0M214 552h0M217 552h0M173 553h0M179 553h0M210 553h0M211 554h0M214 554h0M216 554h0M171 555h0M173 555h0M176 555h0M206 555h0M208 555h0M208 556h0M210 556h0M215 556h0M167 557h0M169 557h0M171 557h0M173 557h0M212 557h0M208 558h0M210 558h0M165 559h0M168 559h0M171 559h0M207 559h0M212 559h0M164 560h0M206 560h0M208 560h0M162 561h0M166 561h0M205 561h0M205 562h0M206 562h0M208 562h0M158 563h0M161 563h0M163 563h0M164 563h0M202 563h0M160 564h0M202 564h0M206 564h0M157 565h0M159 565h0M204 565h0M157 566h0M202 566h0M205 566h0M155 567h0M158 567h0M200 567h0M153 568h0M156 568h0M198 568h0M201 568h0M205 568h0M149 569h0M151 569h0M154 569h0M202 569h0M202 570h0M151 571h0M196 571h0M199 571h0M201 571h0M151 572h0M201 572h0M145 573h0M146 573h0M149 573h0M197 573h0M143 574h0M194 574h0M197 574h0M198 575h0M143 576h0M191 576h0M195 576h0M196 576h0M141 577h0M193 577h0M190 578h0M137 579h0M138 579h0M140 579h0M192 579h0M139 580h0M190 580h0M193 580h0M134 581h0M137 581h0M188 581h0M137 582h0M186 582h0M190 582h0M135 583h0M188 583h0M183 584h0M184 584h0M186 584h0M188 584h0M131 585h0M133 585h0M183 586h0M185 586h0M186 586h0M128 587h0M130 587h0M180 588h0M183 588h0M184 588h0M125 589h0M127 589h0M128 589h0M126 590h0M179 590h0M181 590h0M183 590h0M123 591h0M124 591h0M177 592h0M180 592h0M121 593h0M123 593h0M175 593h0M178 593h0M119 594h0M120 594h0M177 594h0M174 595h0M121 596h0M173 596h0M175 596h0M176 596h0M117 597h0M117 598h0M170 598h0M173 598h0M115 599h0M168 599h0M113 600h0M169 600h0M170 600h0M165 603h0M166 603h0M168 603h0M162 604h0M107 605h0M108 605h0M164 605h0M107 606h0M161 606h0M162 606h0M164 606h0M158 608h0M104 609h0M156 610h0M101 611h0M103 611h0M158 611h0M99 612h0M154 612h0M97 613h0M152 613h0M97 614h0M151 614h0M152 614h0M146 617h0M146 618h0M144 620h0M141 622h0M142 623h0M138 624h0M141 624h0M136 625h0M134 627h0M136 627h0M132 628h0M135 628h0M133 630h0M131 631h0M130 632h0M129 633h0M126 634h0M126 636h0M123 638h0"/>
<path stroke="#2e53c3" d="M202 545h0M204 545h0M195 547h0M196 547h0M198 547h0M201 547h0M202 547h0M205 547h0M202 548h0M207 548h0M191 549h0M192 549h0M194 549h0M196 549h0M198 549h0M200 549h0M204 549h0M189 550h0M195 550h0M201 550h0M205 550h0M206 550h0M187 551h0M191 551h0M193 551h0M197 551h0M199 551h0M203 551h0M187 552h0M202 552h0M181 553h0M188 553h0M191 553h0M192 553h0M194 553h0M196 553h0M198 553h0M200 553h0M204 553h0M206 553h0M193 554h0M198 554h0M178 555h0M181 555h0M184 555h0M188 555h0M191 555h0M195 555h0M196 555h0M200 555h0M202 555h0M204 555h0M177 556h0M179 556h0M181 556h0M185 556h0M175 557h0M182 557h0M191 557h0M193 557h0M195 557h0M196 557h0M198 557h0M204 557h0M181 558h0M196 558h0M202 558h0M172 559h0M174 559h0M177 559h0M179 559h0M195 559h0M198 559h0M201 559h0M204 559h0M177 560h0M198 560h0M169 561h0M170 561h0M173 561h0M194 561h0M196 561h0M200 561h0M202 561h0M195 562h0M196 562h0M198 562h0M167 563h0M168 563h0M171 563h0M193 563h0M201 563h0M194 564h0M198 564h0M200 564h0M162 565h0M167 565h0M192 565h0M197 565h0M160 566h0M162 567h0M193 567h0M194 567h0M197 567h0M198 567h0M160 568h0M192 568h0M194 568h0M158 569h0M155 570h0M190 570h0M194 570h0M153 571h0M157 571h0M192 571h0M190 572h0M192 572h0M194 572h0M153 573h0M154 573h0M188 573h0M153 574h0M190 574h0M192 574h0M147 575h0M149 575h0M151 575h0M185 575h0M186 576h0M145 577h0M146 577h0M148 577h0M184 577h0M188 577h0M186 578h0M143 579h0M145 579h0M183 579h0M184 579h0M188 579h0M141 580h0M183 580h0M184 580h0M186 580h0M143 581h0M184 582h0M138 583h0M181 583h0M183 583h0M139 584h0M180 584h0M135 585h0M137 585h0M133 586h0M178 586h0M180 586h0M176 587h0M130 588h0M132 588h0M176 588h0M178 588h0M173 590h0M176 590h0M129 591h0M174 591h0M127 592h0M171 592h0M172 592h0M125 593h0M123 594h0M169 594h0M170 594h0M173 594h0M168 596h0M170 596h0M121 598h0M165 598h0M167 598h0M119 599h0M164 600h0M166 600h0M117 601h0M162 601h0M163 602h0M114 603h0M160 603h0M159 604h0M111 605h0M113 605h0M160 605h0M158 606h0M110 607h0M107 608h0M154 608h0M105 610h0M154 610h0M106 611h0M150 612h0M100 613h0M147 614h0M149 615h0M148 616h0M144 617h0M142 618h0M139 620h0M140 620h0M142 620h0M138 622h0M136 623h0M134 624h0M132 626h0M130 628h0M129 630h0M126 633h0M125 634h0M122 637h0"/>
<path stroke="#2e5bc9" d="M188 557h0M185 558h0M183 559h0M186 559h0M189 559h0M190 559h0M192 559h0M180 560h0M178 561h0M182 561h0M184 561h0M186 561h0M188 561h0M192 561h0M181 562h0M190 562h0M172 563h0M175 563h0M177 563h0M178 563h0M183 563h0M184 563h0M186 563h0M188 563h0M176 564h0M180 564h0M183 564h0M169 565h0M171 565h0M172 565h0M179 565h0M185 565h0M186 565h0M188 565h0M190 565h0M171 566h0M173 566h0M177 566h0M185 566h0M186 566h0M188 566h0M191 566h0M165 567h0M167 567h0M168 567h0M175 567h0M179 567h0M180 567h0M183 567h0M168 568h0M171 568h0M180 568h0M186 568h0M188 568h0M190 568h0M162 569h0M165 569h0M179 569h0M182 569h0M160 570h0M180 570h0M159 571h0M162 571h0M184 571h0M186 571h0M159 572h0M161 572h0M187 572h0M157 573h0M184 573h0M155 574h0M186 574h0M156 575h0M181 575h0M182 575h0M179 576h0M180 576h0M183 576h0M151 577h0M154 577h0M178 578h0M180 578h0M146 579h0M146 580h0M145 581h0M178 581h0M180 581h0M176 582h0M179 582h0M141 583h0M143 583h0M144 583h0M140 584h0M174 584h0M178 584h0M176 585h0M172 586h0M174 586h0M135 587h0M137 587h0M172 588h0M174 588h0M135 589h0M131 590h0M133 590h0M171 590h0M131 592h0M167 592h0M128 593h0M168 593h0M125 595h0M127 595h0M164 595h0M166 595h0M164 596h0M166 596h0M125 597h0M163 598h0M159 600h0M161 600h0M119 601h0M158 602h0M117 603h0M156 604h0M115 605h0M155 605h0M156 606h0M113 607h0M153 607h0M109 609h0M110 609h0M151 610h0M104 612h0M148 612h0M102 613h0M99 615h0M97 616h0M142 616h0M141 617h0M140 619h0M136 621h0M135 623h0M132 625h0M131 626h0M125 632h0"/>
<path stroke="#2f63cf" d="M173 569h0M175 569h0M176 569h0M170 570h0M176 570h0M178 570h0M165 571h0M167 571h0M169 571h0M172 571h0M174 571h0M167 572h0M169 572h0M173 572h0M174 572h0M163 573h0M164 573h0M171 573h0M177 573h0M178 573h0M175 574h0M178 574h0M158 575h0M161 575h0M163 575h0M164 575h0M166 575h0M168 575h0M170 575h0M173 575h0M176 575h0M159 576h0M164 576h0M166 576h0M169 576h0M170 576h0M157 577h0M160 577h0M163 577h0M172 577h0M174 577h0M176 577h0M170 578h0M172 578h0M176 578h0M151 579h0M153 579h0M156 579h0M174 579h0M170 580h0M173 580h0M175 580h0M176 580h0M148 581h0M151 581h0M153 581h0M170 582h0M147 583h0M149 583h0M174 583h0M143 584h0M170 584h0M173 584h0M145 585h0M168 585h0M140 586h0M170 586h0M139 587h0M166 587h0M168 587h0M138 588h0M166 588h0M170 588h0M136 589h0M135 590h0M165 590h0M166 590h0M132 592h0M164 592h0M163 593h0M129 594h0M131 595h0M163 595h0M127 597h0M160 597h0M124 598h0M158 598h0M123 599h0M160 599h0M121 601h0M157 601h0M156 602h0M118 603h0M154 603h0M152 604h0M116 605h0M150 606h0M113 609h0M146 610h0M148 610h0M109 611h0M145 612h0M146 612h0M144 614h0M101 615h0M138 618h0M132 622h0M129 625h0M130 625h0M128 626h0M126 629h0M124 631h0"/>
<path stroke="#3169d1" d="M163 578h0M168 578h0M159 579h0M161 579h0M164 579h0M167 579h0M157 580h0M168 580h0M154 581h0M158 581h0M162 581h0M165 581h0M166 581h0M153 582h0M166 582h0M168 582h0M151 583h0M157 583h0M158 583h0M163 583h0M165 583h0M149 584h0M160 584h0M163 584h0M147 585h0M151 585h0M153 585h0M164 585h0M165 586h0M147 587h0M160 587h0M162 587h0M145 588h0M165 588h0M141 589h0M142 589h0M160 589h0M163 589h0M141 590h0M160 590h0M137 591h0M163 591h0M137 592h0M134 593h0M161 593h0M159 594h0M160 594h0M132 595h0M157 596h0M158 596h0M129 597h0M127 599h0M154 599h0M156 599h0M153 600h0M154 600h0M123 601h0M153 602h0M121 603h0M150 604h0M117 607h0M148 607h0M148 608h0M144 609h0M146 609h0M110 611h0M143 612h0M109 613h0M140 614h0M142 614h0M102 615h0M104 615h0M139 616h0M137 618h0M134 620h0M132 621h0M125 628h0M123 632h0M120 637h0M120 638h0"/>
<path stroke="#3370d3" d="M158 584h0M155 585h0M157 585h0M154 586h0M157 586h0M149 587h0M150 587h0M152 587h0M158 587h0M149 588h0M150 588h0M158 588h0M146 589h0M153 589h0M156 589h0M158 590h0M145 591h0M152 591h0M154 591h0M156 591h0M139 592h0M153 592h0M154 592h0M156 592h0M152 594h0M135 595h0M136 595h0M155 595h0M156 595h0M134 596h0M153 596h0M155 596h0M130 597h0M132 597h0M152 598h0M129 599h0M149 600h0M151 600h0M125 601h0M127 601h0M148 602h0M123 603h0M150 603h0M147 604h0M148 604h0M120 605h0M146 606h0M119 607h0M144 610h0M113 611h0M140 612h0M110 613h0M138 614h0M107 615h0M136 616h0M99 617h0M133 618h0M130 621h0M129 622h0M130 622h0M126 626h0M123 629h0"/>
<path stroke="#3576d4" d="M147 591h0M149 591h0M151 591h0M141 593h0M142 593h0M149 593h0M151 593h0M149 594h0M139 595h0M140 595h0M142 595h0M144 595h0M147 595h0M150 595h0M139 596h0M146 596h0M148 596h0M151 596h0M136 597h0M145 597h0M146 598h0M131 599h0M132 599h0M148 599h0M129 601h0M125 603h0M123 605h0M145 605h0M120 607h0M144 607h0M117 609h0M142 609h0M115 611h0M116 611h0M140 611h0M112 613h0M137 613h0M138 613h0M136 615h0M134 616h0M100 617h0M126 623h0M126 624h0M124 626h0M121 632h0M120 635h0"/>
<path stroke="#377dd6" d="M142 596h0M141 597h0M137 598h0M141 598h0M135 599h0M139 599h0M142 599h0M134 600h0M143 600h0M145 600h0M130 601h0M142 602h0M127 603h0M129 603h0M144 603h0M125 605h0M142 605h0M140 606h0M142 606h0M120 608h0M140 608h0M119 609h0M139 609h0M138 610h0M115 612h0M112 614h0M109 615h0M133 615h0M134 615h0M104 617h0M130 618h0M124 624h0"/>
<path stroke="#3983d8" d="M133 601h0M136 601h0M139 601h0M140 601h0M138 602h0M141 602h0M131 603h0M133 603h0M134 603h0M128 604h0M130 604h0M136 604h0M140 604h0M126 605h0M138 605h0M127 606h0M123 607h0M125 607h0M136 607h0M138 607h0M136 608h0M136 610h0M119 611h0M134 611h0M134 612h0M114 614h0M111 615h0M130 616h0M97 619h0M128 619h0M126 620h0M122 625h0M122 626h0M121 630h0"/>
<path stroke="#3b8ad9" d="M132 605h0M134 605h0M130 607h0M134 607h0M125 608h0M128 608h0M130 608h0M132 608h0M122 609h0M126 609h0M130 610h0M121 611h0M132 611h0M118 612h0M117 613h0M130 613h0M132 613h0M128 615h0M130 615h0M106 617h0M128 617h0M127 618h0M125 620h0M123 621h0M124 622h0M120 628h0M117 638h0"/>
<path stroke="#4292dc" d="M127 610h0M123 611h0M125 611h0M128 611h0M129 612h0M121 613h0M122 613h0M124 613h0M126 613h0M118 614h0M126 614h0M117 615h0M125 615h0M126 616h0M109 617h0M110 617h0M124 618h0M99 619h0M122 622h0M120 625h0M120 627h0M118 634h0M118 636h0"/>
<path stroke="#4b9bdf" d="M121 615h0M123 615h0M113 617h0M116 617h0M120 617h0M122 617h0M124 617h0M122 619h0M120 620h0M120 622h0"/>
<path stroke="#54a4e2" d="M118 617h0M120 618h0M101 619h0M119 619h0M97 620h0M118 620h0M119 622h0M119 630h0"/>
<path stroke="#5dade6" d="M105 619h0M115 619h0M116 619h0M119 625h0M118 627h0M118 628h0"/>
<path stroke="#68b6e9" d="M106 619h0M111 619h0M113 619h0M116 621h0"/>
<path stroke="#7ac1eb" d="M108 619h0M117 623h0M117 627h0M116 634h0"/>
<path stroke="#8ccbee" d="M106 620h0M114 621h0M115 637h0"/>
<path stroke="#9fd6f0" d="M101 621h0M102 621h0M116 625h0"/>
<path stroke="#b0def3" d="M112 621h0M113 622h0M115 623h0M115 624h0M116 628h0M116 633h0"/>
<path stroke="#c0e5f4" d="M104 621h0M109 621h0M111 621h0M116 630h0"/>
<path stroke="#cfecf6" d="M99 623h0M97 624h0"/>
<path stroke="#dff2f8" d="M109 622h0M111 622h0M115 628h0M113 637h0"/>
<path stroke="#ebf6eb" d="M114 627h0M114 635h0"/>
<path stroke="#f6fadd" d="M103 623h0M113 625h0M114 631h0M114 632h0"/>
<path stroke="#fcfbc0" d="M101 623h0M104 623h0M106 623h0"/>
<path stroke="#fdfcb1" d="M101 624h0M113 627h0"/>
<path stroke="#fffca3" d="M109 624h0M110 625h0M113 633h0M112 634h0"/>
<path stroke="#fffa9b" d="M99 625h0M96 626h0M112 628h0"/>
<path stroke="#fff795" d="M103 624h0M110 626h0M110 637h0"/>
<path stroke="#fff48f" d="M112 631h0"/>
<path stroke="#ffee83" d="M107 625h0M109 627h0"/>
<path stroke="#ffec7e" d="M105 625h0M102 626h0"/>
<path stroke="#ffe978" d="M99 626h0M110 630h0"/>
<path stroke="#ffe169" d="M110 634h0"/>
<path stroke="#ffd957" d="M107 627h0M109 637h0M108 638h0"/>
<path stroke="#ffd045" d="M108 628h0"/>
<path stroke="#ffc734" d="M100 627h0M109 630h0M110 632h0"/>
<path stroke="#ffb510" d="M104 627h0"/>
<path stroke="#ff8000" d="M98 629h0"/>
<path stroke="#fe6f00" d="M108 634h0"/>
<path stroke="#fd5f00" d="M106 638h0"/>
<path stroke="#fb4f00" d="M106 629h0M97 630h0"/>
<path stroke="#f22400" d="M107 635h0M106 636h0"/>
<path stroke="#ee1600" d="M102 629h0M106 631h0"/>
<path stroke="#ea0b00" d="M106 632h0"/>
<path stroke="#e40800" d="M100 630h0M99 631h0M104 638h0"/>
<path stroke="#df0500" d="M104 631h0"/>
<path stroke="#d90100" d="M105 632h0"/>
<path stroke="#c80000" d="M102 632h0M104 636h0"/>
<path stroke="#bf0000" d="M104 635h0M103 636h0"/>
<path stroke="#b60000" d="M99 633h0M103 634h0M97 635h0M101 638h0M98 639h0"/>
<path stroke="#ad0000" d="M100 633h0M99 635h0M100 635h0M97 636h0M99 636h0M100 636h0"/>
</g>
</g>
<line x1="48.2" y1="319.3" x2="199.8" y2="173.6" stroke="#7c7c7c" stroke-opacity="0.9" stroke-width="0.8" stroke-dasharray="1.8 1"/>
<polyline points="48.2,314.9 184.6,219.3" fill="none" stroke="#c22c3a" stroke-width="1"/>
<text x="48.5" y="327.7" font-size="8" stroke="#111" stroke-width="0.12" text-anchor="middle">0</text>
<text x="45.6" y="321.9" font-size="8" stroke="#111" stroke-width="0.12" text-anchor="end">0</text>
<text x="73.8" y="327.7" font-size="8" stroke="#111" stroke-width="0.12" text-anchor="middle">5</text>
<text x="45.6" y="297.6" font-size="8" stroke="#111" stroke-width="0.12" text-anchor="end">5</text>
<text x="99.0" y="327.7" font-size="8" stroke="#111" stroke-width="0.12" text-anchor="middle">10</text>
<text x="45.6" y="273.3" font-size="8" stroke="#111" stroke-width="0.12" text-anchor="end">10</text>
<text x="124.3" y="327.7" font-size="8" stroke="#111" stroke-width="0.12" text-anchor="middle">15</text>
<text x="45.6" y="249.0" font-size="8" stroke="#111" stroke-width="0.12" text-anchor="end">15</text>
<text x="149.6" y="327.7" font-size="8" stroke="#111" stroke-width="0.12" text-anchor="middle">20</text>
<text x="45.6" y="224.8" font-size="8" stroke="#111" stroke-width="0.12" text-anchor="end">20</text>
<text x="174.8" y="327.7" font-size="8" stroke="#111" stroke-width="0.12" text-anchor="middle">25</text>
<text x="45.6" y="200.5" font-size="8" stroke="#111" stroke-width="0.12" text-anchor="end">25</text>
<text x="200.1" y="327.7" font-size="8" stroke="#111" stroke-width="0.12" text-anchor="middle">30</text>
<text x="45.6" y="176.2" font-size="8" stroke="#111" stroke-width="0.12" text-anchor="end">30</text>
<text x="52.1" y="182.4" font-size="11.8" stroke="#111" stroke-width="0.15">R²=0.63</text>
<text x="52.1" y="193.6" font-size="11.8" stroke="#111" stroke-width="0.15">RMSE=2.53</text>
<text x="52.1" y="204.7" font-size="11.8" stroke="#111" stroke-width="0.15">MAE=1.73</text>
<text x="52.1" y="215.9" font-size="11.8" stroke="#111" stroke-width="0.15">IOA=0.88</text>
<text x="52.1" y="227.1" font-size="11.8" stroke="#111" stroke-width="0.15">slope=0.63</text>
<text x="155.5" y="314.3" font-size="13.1" font-weight="bold" fill="#161616">VPM</text>
</g>
<g>
<clipPath id="cp5"><rect x="216.7" y="173.1" width="152.6" height="146.7"/></clipPath>
<rect x="217.2" y="173.6" width="151.6" height="145.7" fill="none" stroke="#a2a2a2" stroke-width="0.9"/>
<path d="M217.2 319.8v1.6M216.7 319.3h-1.6M242.5 319.8v1.6M216.7 295.0h-1.6M267.7 319.8v1.6M216.7 270.7h-1.6M293.0 319.8v1.6M216.7 246.4h-1.6M318.3 319.8v1.6M216.7 222.2h-1.6M343.5 319.8v1.6M216.7 197.9h-1.6M368.8 319.8v1.6M216.7 173.6h-1.6" stroke="#a2a2a2" stroke-width="0.7" fill="none"/>
<g clip-path="url(#cp5)">
<g transform="scale(.5)" fill="none" stroke-width="4.6" stroke-linecap="round">
<path stroke="#2b2fa5" d="M471 552h0M597 554h0M457 556h0M612 556h0M588 558h0M593 558h0M587 559h0M614 559h0M591 560h0M600 561h0M605 561h0M454 563h0M593 563h0M604 563h0M615 563h0M642 563h0M591 564h0M452 565h0M606 565h0M599 566h0M604 566h0M587 567h0M588 567h0M603 567h0M611 567h0M584 569h0M586 569h0M588 569h0M594 569h0M607 569h0M438 570h0M583 570h0M584 570h0M587 570h0M589 571h0M596 571h0M600 571h0M600 572h0M620 572h0M582 573h0M584 573h0M586 573h0M590 573h0M592 573h0M602 573h0M586 574h0M588 574h0M590 574h0M596 574h0M612 574h0M619 574h0M624 574h0M580 575h0M582 575h0M601 575h0M580 576h0M582 576h0M588 576h0M591 576h0M593 576h0M595 576h0M596 576h0M598 576h0M639 576h0M586 577h0M616 577h0M632 577h0M688 577h0M583 578h0M584 578h0M588 578h0M595 578h0M596 578h0M599 578h0M600 578h0M602 578h0M606 578h0M578 579h0M580 579h0M586 579h0M604 579h0M628 579h0M632 579h0M579 580h0M580 580h0M588 580h0M599 580h0M602 580h0M622 580h0M582 581h0M584 581h0M586 581h0M590 581h0M592 581h0M594 581h0M601 581h0M604 581h0M606 581h0M617 581h0M580 582h0M584 582h0M591 582h0M593 582h0M594 582h0M596 582h0M619 582h0M626 582h0M647 582h0M682 582h0M577 583h0M578 583h0M582 583h0M586 583h0M588 583h0M598 583h0M600 583h0M602 583h0M605 583h0M609 583h0M611 583h0M620 583h0M628 583h0M636 583h0M584 584h0M588 584h0M591 584h0M592 584h0M594 584h0M596 584h0M599 584h0M602 584h0M604 584h0M618 584h0M578 585h0M580 585h0M582 585h0M579 586h0M580 586h0M587 586h0M595 586h0M596 586h0M600 586h0M602 586h0M614 586h0M616 586h0M619 586h0M574 587h0M577 587h0M582 587h0M588 587h0M592 587h0M598 587h0M628 587h0M644 587h0M574 588h0M578 588h0M581 588h0M583 588h0M584 588h0M588 588h0M590 588h0M592 588h0M594 588h0M596 588h0M598 588h0M621 588h0M573 589h0M586 589h0M600 589h0M602 589h0M613 589h0M622 589h0M671 589h0M572 590h0M574 590h0M580 590h0M586 590h0M589 590h0M592 590h0M594 590h0M601 590h0M603 590h0M577 591h0M585 591h0M596 591h0M617 591h0M571 592h0M574 592h0M576 592h0M578 592h0M581 592h0M582 592h0M588 592h0M590 592h0M592 592h0M602 592h0M637 592h0M646 592h0M573 593h0M585 593h0M586 593h0M594 593h0M599 593h0M606 593h0M627 593h0M569 594h0M572 594h0M574 594h0M578 594h0M581 594h0M590 594h0M609 594h0M656 594h0M570 595h0M576 595h0M582 595h0M584 595h0M586 595h0M588 595h0M594 595h0M617 595h0M568 596h0M580 596h0M582 596h0M584 596h0M588 596h0M595 596h0M601 596h0M606 596h0M624 596h0M626 596h0M699 596h0M571 597h0M572 597h0M574 597h0M576 597h0M578 597h0M592 597h0M613 597h0M645 597h0M689 597h0M566 598h0M568 598h0M571 598h0M572 598h0M580 598h0M582 598h0M584 598h0M588 598h0M590 598h0M574 599h0M576 599h0M578 599h0M593 599h0M604 599h0M609 599h0M631 599h0M566 600h0M568 600h0M570 600h0M572 600h0M574 600h0M584 600h0M601 600h0M609 600h0M613 600h0M639 600h0M666 600h0M563 601h0M564 601h0M576 601h0M578 601h0M588 601h0M603 601h0M660 601h0M564 602h0M566 602h0M568 602h0M572 602h0M576 602h0M604 602h0M618 602h0M624 602h0M670 602h0M691 602h0M570 603h0M574 603h0M581 603h0M590 603h0M615 603h0M650 603h0M562 604h0M564 604h0M568 604h0M571 604h0M574 604h0M581 604h0M585 604h0M587 604h0M589 604h0M591 604h0M608 604h0M610 604h0M679 604h0M572 605h0M577 605h0M579 605h0M583 605h0M594 605h0M596 605h0M600 605h0M615 605h0M644 605h0M672 605h0M697 605h0M562 606h0M566 606h0M569 606h0M572 606h0M585 606h0M601 606h0M612 606h0M639 606h0M558 607h0M561 607h0M576 607h0M580 607h0M583 607h0M595 607h0M598 607h0M566 608h0M568 608h0M576 608h0M580 608h0M601 608h0M616 608h0M634 608h0M694 608h0M556 609h0M563 609h0M565 609h0M599 609h0M619 609h0M559 610h0M563 610h0M571 610h0M573 610h0M576 610h0M615 610h0M621 610h0M622 610h0M560 611h0M574 611h0M589 611h0M554 612h0M563 612h0M577 612h0M586 612h0M642 612h0M644 612h0M677 612h0M572 613h0M578 613h0M583 613h0M611 613h0M613 613h0M627 613h0M633 613h0M637 613h0M678 613h0M553 614h0M567 614h0M572 614h0M582 614h0M591 614h0M592 614h0M601 614h0M606 614h0M555 615h0M560 615h0M599 615h0M708 615h0M553 616h0M558 616h0M563 616h0M579 616h0M613 616h0M605 617h0M617 617h0M558 618h0M606 618h0M636 618h0M645 618h0M545 619h0M549 619h0M560 619h0M565 619h0M595 619h0M625 619h0M633 619h0M696 619h0M550 620h0M612 620h0M625 620h0M543 621h0M544 621h0M554 621h0M566 621h0M545 622h0M550 622h0M554 622h0M594 622h0M611 622h0M622 622h0M558 623h0M571 623h0M575 623h0M590 623h0M615 623h0M627 623h0M550 624h0M566 624h0M630 624h0M546 625h0M562 625h0M570 625h0M599 625h0M616 625h0M551 626h0M582 626h0M603 626h0M604 626h0M553 627h0M571 627h0M575 627h0M590 627h0M594 627h0M577 628h0M606 628h0M542 629h0M547 629h0M567 629h0M535 630h0M536 630h0M556 630h0M560 630h0M597 630h0M600 630h0M582 631h0M588 631h0M618 631h0M539 632h0M574 632h0M586 632h0M593 632h0M604 632h0M553 633h0M566 633h0M588 633h0M594 633h0M596 633h0M607 633h0M610 633h0M551 634h0M562 634h0M583 634h0M593 634h0M599 634h0M526 635h0M540 635h0M577 635h0M579 635h0M581 636h0M582 636h0M611 636h0M529 637h0M531 637h0M532 637h0M542 637h0M558 637h0M560 637h0M565 637h0M586 637h0M596 637h0M598 637h0M616 637h0M539 638h0M540 638h0M545 638h0M552 638h0M565 638h0M572 638h0M594 638h0"/>
<path stroke="#2c3baf" d="M557 535h0M576 548h0M579 549h0M485 552h0M564 552h0M476 553h0M493 553h0M569 553h0M481 555h0M484 555h0M572 555h0M583 555h0M569 556h0M572 556h0M579 556h0M566 557h0M571 557h0M466 558h0M475 558h0M578 558h0M465 559h0M473 559h0M481 559h0M482 559h0M484 559h0M488 559h0M475 560h0M483 560h0M569 560h0M574 560h0M577 560h0M469 561h0M481 561h0M583 561h0M575 562h0M576 562h0M578 562h0M583 562h0M459 563h0M463 563h0M468 563h0M474 563h0M481 563h0M483 563h0M568 563h0M572 563h0M464 564h0M476 564h0M479 564h0M570 564h0M584 564h0M461 565h0M463 565h0M466 565h0M471 565h0M473 565h0M475 565h0M568 565h0M572 565h0M574 565h0M577 565h0M455 566h0M459 566h0M572 566h0M576 566h0M457 567h0M463 567h0M465 567h0M467 567h0M469 567h0M471 567h0M473 567h0M475 567h0M568 567h0M575 567h0M578 567h0M583 567h0M472 568h0M569 568h0M573 568h0M576 568h0M580 568h0M459 569h0M463 569h0M465 569h0M467 569h0M468 569h0M574 569h0M579 569h0M467 570h0M571 570h0M572 570h0M576 570h0M578 570h0M581 570h0M452 571h0M459 571h0M461 571h0M463 571h0M464 571h0M459 572h0M461 572h0M568 572h0M571 572h0M574 572h0M578 572h0M457 573h0M463 573h0M465 573h0M572 573h0M576 573h0M580 573h0M447 574h0M460 574h0M565 574h0M567 574h0M576 574h0M445 575h0M451 575h0M456 575h0M458 575h0M568 575h0M570 575h0M574 575h0M578 575h0M566 576h0M570 576h0M572 576h0M576 576h0M448 577h0M451 577h0M452 577h0M455 577h0M457 577h0M458 577h0M568 577h0M578 577h0M447 578h0M455 578h0M564 578h0M566 578h0M573 578h0M443 579h0M448 579h0M451 579h0M452 579h0M569 579h0M570 579h0M574 579h0M576 579h0M447 580h0M451 580h0M453 580h0M455 580h0M566 580h0M568 580h0M571 580h0M574 580h0M445 581h0M564 581h0M573 581h0M562 582h0M564 582h0M566 582h0M569 582h0M570 582h0M574 582h0M439 583h0M440 583h0M445 583h0M446 583h0M448 583h0M450 583h0M572 583h0M560 584h0M562 584h0M566 584h0M568 584h0M570 584h0M572 584h0M574 584h0M576 584h0M439 585h0M441 585h0M443 585h0M445 585h0M446 585h0M564 585h0M439 586h0M440 586h0M443 586h0M564 586h0M566 586h0M570 586h0M572 586h0M560 587h0M562 587h0M568 587h0M439 588h0M442 588h0M563 588h0M567 588h0M570 588h0M436 589h0M441 589h0M560 589h0M564 589h0M568 589h0M435 590h0M556 590h0M558 590h0M560 590h0M562 590h0M571 590h0M439 591h0M567 591h0M568 591h0M435 592h0M554 592h0M556 592h0M560 592h0M563 592h0M564 592h0M566 592h0M568 592h0M555 594h0M557 594h0M561 594h0M562 594h0M564 594h0M566 594h0M552 595h0M558 595h0M553 596h0M554 596h0M557 596h0M562 596h0M565 596h0M566 596h0M550 597h0M558 597h0M560 597h0M549 598h0M552 598h0M554 598h0M558 598h0M563 598h0M551 599h0M557 599h0M560 599h0M564 599h0M548 600h0M552 600h0M554 600h0M556 600h0M560 600h0M550 601h0M558 601h0M549 602h0M551 602h0M554 602h0M558 602h0M556 603h0M548 604h0M550 604h0M552 604h0M556 604h0M558 604h0M560 604h0M544 605h0M547 605h0M554 605h0M543 606h0M549 606h0M553 606h0M555 606h0M541 607h0M547 607h0M550 607h0M539 608h0M540 608h0M542 608h0M545 608h0M546 608h0M549 608h0M555 608h0M551 609h0M552 609h0M536 610h0M540 610h0M543 610h0M544 610h0M546 610h0M549 610h0M552 610h0M538 611h0M550 611h0M535 612h0M540 612h0M542 612h0M548 612h0M532 613h0M537 613h0M539 613h0M545 613h0M547 613h0M531 614h0M532 614h0M534 614h0M536 614h0M539 614h0M540 614h0M543 614h0M544 614h0M549 614h0M530 616h0M534 616h0M540 616h0M543 616h0M526 617h0M529 617h0M532 617h0M526 618h0M529 618h0M530 618h0M532 618h0M535 618h0M524 619h0M536 619h0M542 619h0M523 620h0M524 620h0M531 620h0M528 621h0M533 621h0M534 621h0M522 622h0M526 622h0M539 622h0M532 623h0M516 624h0M524 624h0M533 624h0M518 625h0M513 626h0M530 626h0M520 627h0M521 628h0M513 629h0M525 629h0M513 630h0M522 631h0M513 633h0M519 635h0M502 636h0M513 636h0M498 637h0M499 638h0M504 638h0M509 638h0M519 638h0"/>
<path stroke="#2d43b5" d="M526 546h0M520 550h0M548 550h0M516 551h0M541 551h0M514 552h0M517 552h0M546 552h0M559 552h0M512 553h0M500 554h0M510 555h0M555 555h0M559 555h0M506 556h0M495 557h0M496 557h0M555 557h0M490 558h0M505 558h0M554 558h0M494 559h0M497 559h0M499 559h0M501 559h0M502 559h0M557 559h0M558 559h0M561 559h0M563 559h0M566 559h0M494 560h0M567 560h0M488 561h0M491 561h0M493 561h0M497 561h0M499 561h0M555 561h0M556 561h0M558 561h0M560 561h0M497 562h0M561 562h0M564 562h0M567 562h0M487 563h0M489 563h0M491 563h0M493 563h0M494 563h0M556 563h0M558 563h0M562 563h0M485 564h0M487 564h0M561 564h0M562 564h0M564 564h0M566 564h0M483 565h0M488 565h0M557 565h0M481 566h0M483 566h0M490 566h0M558 566h0M564 566h0M566 566h0M477 567h0M478 567h0M485 567h0M487 567h0M556 567h0M560 567h0M477 568h0M482 568h0M563 568h0M479 569h0M481 569h0M484 569h0M556 569h0M558 569h0M561 569h0M566 569h0M470 570h0M481 570h0M556 570h0M560 570h0M562 570h0M565 570h0M469 571h0M473 571h0M475 571h0M477 571h0M566 571h0M472 572h0M476 572h0M479 572h0M555 572h0M564 572h0M566 572h0M466 573h0M469 573h0M471 573h0M475 573h0M559 573h0M560 573h0M562 573h0M473 574h0M556 574h0M558 574h0M560 574h0M462 575h0M464 575h0M467 575h0M468 575h0M555 575h0M562 575h0M461 576h0M556 576h0M558 576h0M561 576h0M462 577h0M465 577h0M469 577h0M471 577h0M554 577h0M562 577h0M564 577h0M463 578h0M465 578h0M556 578h0M562 578h0M555 579h0M558 579h0M560 579h0M460 580h0M552 580h0M558 580h0M562 580h0M457 581h0M458 581h0M463 581h0M554 581h0M557 581h0M456 582h0M463 582h0M551 582h0M552 582h0M555 582h0M556 582h0M560 582h0M453 583h0M455 583h0M459 583h0M460 583h0M450 584h0M550 584h0M552 584h0M556 584h0M559 584h0M453 585h0M455 585h0M456 585h0M554 585h0M447 586h0M449 586h0M455 586h0M550 586h0M552 586h0M555 586h0M556 586h0M445 587h0M451 587h0M453 587h0M450 588h0M553 588h0M556 588h0M445 589h0M449 589h0M452 589h0M548 589h0M554 589h0M446 590h0M547 590h0M550 590h0M555 590h0M441 591h0M445 591h0M449 591h0M549 591h0M442 592h0M544 592h0M546 592h0M550 592h0M438 593h0M441 593h0M445 593h0M548 593h0M552 593h0M543 594h0M544 594h0M546 594h0M437 595h0M439 595h0M440 595h0M442 595h0M549 595h0M550 595h0M435 596h0M544 596h0M548 596h0M436 597h0M441 597h0M542 597h0M547 597h0M436 598h0M538 598h0M540 598h0M542 598h0M546 598h0M435 599h0M544 599h0M538 600h0M540 600h0M544 600h0M546 600h0M435 601h0M542 601h0M534 602h0M536 602h0M538 602h0M540 602h0M543 602h0M544 602h0M534 604h0M537 604h0M538 604h0M540 604h0M542 604h0M531 606h0M534 606h0M537 606h0M538 606h0M537 608h0M528 609h0M534 609h0M526 610h0M528 610h0M530 610h0M533 610h0M535 610h0M529 612h0M530 612h0M525 613h0M526 613h0M520 614h0M525 614h0M526 614h0M523 615h0M528 615h0M520 616h0M522 616h0M515 617h0M517 617h0M518 617h0M524 617h0M517 618h0M519 618h0M522 618h0M520 619h0M514 620h0M518 620h0M520 620h0M513 621h0M509 622h0M510 622h0M515 622h0M516 622h0M508 624h0M514 624h0M504 625h0M506 625h0M510 625h0M510 626h0M502 627h0M505 627h0M507 627h0M509 627h0M506 628h0M505 629h0M497 630h0M500 630h0M502 630h0M505 630h0M494 632h0M496 632h0M500 632h0M492 634h0M494 634h0M498 634h0M500 634h0M488 636h0M493 636h0M496 636h0M486 638h0M492 638h0M491 639h0"/>
<path stroke="#2d4bbc" d="M540 552h0M545 553h0M524 554h0M520 555h0M528 555h0M530 555h0M534 555h0M539 555h0M542 555h0M547 555h0M536 556h0M540 556h0M510 557h0M512 557h0M517 557h0M519 557h0M526 557h0M528 557h0M532 557h0M534 557h0M539 557h0M542 557h0M544 557h0M548 557h0M526 558h0M528 558h0M543 558h0M506 559h0M509 559h0M514 559h0M517 559h0M519 559h0M520 559h0M537 559h0M539 559h0M540 559h0M544 559h0M549 559h0M550 559h0M516 560h0M546 560h0M501 561h0M502 561h0M505 561h0M507 561h0M509 561h0M510 561h0M512 561h0M540 561h0M543 561h0M548 561h0M550 561h0M553 561h0M507 562h0M498 563h0M503 563h0M505 563h0M545 563h0M546 563h0M548 563h0M551 563h0M552 563h0M554 563h0M498 564h0M544 564h0M547 564h0M548 564h0M553 564h0M554 564h0M494 565h0M497 565h0M500 565h0M492 566h0M549 566h0M550 566h0M553 566h0M489 567h0M495 567h0M496 567h0M546 567h0M489 568h0M548 568h0M487 569h0M492 569h0M546 569h0M550 569h0M552 569h0M548 570h0M552 570h0M554 570h0M483 571h0M485 571h0M487 571h0M488 571h0M550 571h0M481 572h0M487 572h0M546 572h0M549 572h0M550 572h0M552 572h0M482 573h0M484 573h0M483 574h0M548 574h0M550 574h0M553 574h0M475 575h0M477 575h0M479 575h0M546 575h0M480 576h0M546 576h0M550 576h0M552 576h0M473 577h0M475 577h0M476 577h0M479 577h0M548 577h0M469 578h0M475 578h0M548 578h0M550 578h0M552 578h0M471 579h0M546 579h0M468 580h0M471 580h0M544 580h0M548 580h0M550 580h0M467 581h0M546 581h0M465 582h0M544 582h0M546 582h0M466 583h0M548 583h0M463 584h0M544 584h0M547 584h0M548 584h0M459 585h0M461 585h0M466 585h0M459 586h0M461 586h0M543 586h0M545 586h0M546 586h0M548 586h0M456 587h0M455 588h0M540 588h0M544 588h0M547 588h0M456 589h0M458 589h0M542 589h0M452 590h0M457 590h0M539 590h0M544 590h0M451 591h0M455 591h0M540 591h0M542 591h0M541 592h0M449 593h0M451 593h0M453 593h0M536 593h0M538 593h0M542 593h0M447 594h0M535 594h0M536 594h0M540 594h0M445 595h0M448 595h0M450 595h0M539 595h0M445 596h0M446 596h0M534 596h0M539 596h0M540 596h0M442 597h0M536 597h0M532 598h0M537 598h0M439 599h0M440 599h0M442 599h0M530 599h0M535 599h0M437 600h0M440 600h0M530 600h0M532 600h0M536 600h0M439 601h0M435 602h0M439 602h0M532 602h0M436 603h0M529 603h0M436 604h0M526 604h0M531 604h0M435 605h0M523 605h0M528 605h0M524 606h0M528 606h0M523 607h0M527 607h0M522 608h0M524 608h0M526 608h0M521 609h0M517 610h0M518 610h0M520 610h0M524 610h0M518 612h0M522 612h0M516 613h0M515 614h0M517 614h0M513 615h0M518 615h0M511 616h0M508 617h0M512 617h0M507 618h0M508 618h0M512 618h0M514 618h0M510 619h0M505 620h0M507 620h0M510 620h0M509 621h0M501 622h0M502 622h0M504 623h0M507 623h0M500 624h0M499 625h0M497 626h0M499 626h0M500 627h0M492 628h0M495 628h0M498 628h0M496 629h0M490 630h0M492 630h0M494 630h0M490 632h0M492 632h0M488 633h0M487 634h0M490 634h0M485 635h0M488 635h0M480 636h0M482 636h0M485 636h0M486 636h0M483 638h0M484 638h0"/>
<path stroke="#2e53c3" d="M523 559h0M525 559h0M532 559h0M523 560h0M525 560h0M533 560h0M535 560h0M538 560h0M515 561h0M519 561h0M521 561h0M527 561h0M530 561h0M536 561h0M523 562h0M525 562h0M530 562h0M508 563h0M510 563h0M512 563h0M515 563h0M516 563h0M518 563h0M520 563h0M526 563h0M529 563h0M532 563h0M534 563h0M536 563h0M541 563h0M542 563h0M542 564h0M503 565h0M504 565h0M506 565h0M509 565h0M511 565h0M512 565h0M515 565h0M516 565h0M518 565h0M521 565h0M524 565h0M528 565h0M530 565h0M534 565h0M537 565h0M538 565h0M540 565h0M503 566h0M505 566h0M511 566h0M533 566h0M538 566h0M499 567h0M501 567h0M507 567h0M508 567h0M534 567h0M537 567h0M541 567h0M543 567h0M545 567h0M540 568h0M542 568h0M544 568h0M495 569h0M496 569h0M499 569h0M500 569h0M502 569h0M534 569h0M536 569h0M539 569h0M495 570h0M536 570h0M543 570h0M490 571h0M492 571h0M498 571h0M538 571h0M540 571h0M544 571h0M491 572h0M538 572h0M542 572h0M489 573h0M492 573h0M540 573h0M545 573h0M489 574h0M544 574h0M485 575h0M487 575h0M490 575h0M541 575h0M484 576h0M540 576h0M483 577h0M538 577h0M544 577h0M542 578h0M544 578h0M477 579h0M481 579h0M482 579h0M538 579h0M538 580h0M542 580h0M473 581h0M474 581h0M476 581h0M479 581h0M536 581h0M539 582h0M540 582h0M542 582h0M469 583h0M472 583h0M536 583h0M538 584h0M540 584h0M469 585h0M470 585h0M534 585h0M536 585h0M468 586h0M535 586h0M537 586h0M538 586h0M540 586h0M463 587h0M464 587h0M467 587h0M461 588h0M462 588h0M465 588h0M534 588h0M536 588h0M538 588h0M532 589h0M532 590h0M458 591h0M460 591h0M534 591h0M457 592h0M459 592h0M530 592h0M532 592h0M454 593h0M534 593h0M453 594h0M530 594h0M533 594h0M528 595h0M528 596h0M530 596h0M532 596h0M449 597h0M451 597h0M526 597h0M528 598h0M445 599h0M447 599h0M449 599h0M524 599h0M526 599h0M526 600h0M529 600h0M443 601h0M445 601h0M524 601h0M524 602h0M440 603h0M443 603h0M522 603h0M439 604h0M442 604h0M520 604h0M524 604h0M441 605h0M518 605h0M519 606h0M520 606h0M435 607h0M437 607h0M438 607h0M517 607h0M437 608h0M515 608h0M516 608h0M518 608h0M435 609h0M513 609h0M513 610h0M515 610h0M510 612h0M512 612h0M514 612h0M508 614h0M510 614h0M507 615h0M506 616h0M503 618h0M505 619h0M500 620h0M502 621h0M498 622h0M494 624h0M496 624h0M493 625h0M491 627h0M492 627h0M494 627h0M490 628h0M488 629h0M486 630h0M488 630h0M482 632h0M482 634h0M480 635h0M477 636h0M478 636h0M476 638h0"/>
<path stroke="#2e5bc9" d="M523 565h0M523 566h0M515 567h0M516 567h0M519 567h0M521 567h0M525 567h0M526 567h0M528 567h0M531 567h0M517 568h0M505 569h0M506 569h0M513 569h0M518 569h0M520 569h0M524 569h0M527 569h0M529 569h0M530 569h0M532 569h0M505 570h0M508 570h0M532 570h0M500 571h0M503 571h0M507 571h0M511 571h0M513 571h0M514 571h0M518 571h0M523 571h0M526 571h0M529 571h0M530 571h0M534 571h0M507 572h0M533 572h0M495 573h0M497 573h0M498 573h0M500 573h0M503 573h0M528 573h0M530 573h0M535 573h0M536 573h0M528 574h0M530 574h0M534 574h0M493 575h0M497 575h0M533 575h0M536 575h0M493 576h0M530 576h0M532 576h0M487 577h0M489 577h0M491 577h0M529 577h0M534 577h0M536 577h0M485 578h0M530 578h0M536 578h0M486 579h0M489 579h0M532 579h0M483 580h0M481 581h0M485 581h0M530 581h0M532 581h0M535 581h0M534 582h0M475 583h0M478 583h0M530 583h0M532 583h0M478 584h0M531 584h0M473 585h0M475 585h0M532 585h0M470 586h0M528 586h0M533 586h0M530 587h0M528 588h0M467 589h0M469 589h0M463 591h0M464 591h0M527 591h0M529 591h0M530 591h0M526 592h0M461 593h0M528 593h0M458 594h0M525 594h0M456 595h0M526 595h0M524 596h0M453 597h0M454 597h0M456 597h0M521 597h0M522 597h0M522 598h0M452 599h0M521 600h0M522 600h0M447 601h0M450 601h0M518 601h0M520 602h0M445 603h0M447 603h0M516 603h0M518 603h0M444 604h0M514 604h0M517 605h0M441 606h0M514 606h0M512 607h0M510 608h0M439 609h0M437 610h0M510 610h0M507 611h0M435 612h0M508 612h0M503 614h0M504 614h0M504 616h0M500 617h0M501 618h0M498 619h0M498 620h0M497 621h0M496 622h0M492 623h0M490 624h0M486 626h0M484 628h0M486 628h0M482 630h0M484 630h0M480 633h0M478 634h0M476 635h0M471 638h0"/>
<path stroke="#2f63cf" d="M517 571h0M520 571h0M513 572h0M514 572h0M516 572h0M519 572h0M520 572h0M505 573h0M508 573h0M511 573h0M523 573h0M524 573h0M526 573h0M503 574h0M507 574h0M511 574h0M521 574h0M522 574h0M524 574h0M501 575h0M508 575h0M512 575h0M514 575h0M516 575h0M518 575h0M522 576h0M525 576h0M495 577h0M497 577h0M498 577h0M501 577h0M504 577h0M515 577h0M516 577h0M518 577h0M520 577h0M526 577h0M496 578h0M498 578h0M528 578h0M491 579h0M492 579h0M495 579h0M520 579h0M522 579h0M524 579h0M527 579h0M487 580h0M524 580h0M526 580h0M528 580h0M489 581h0M490 581h0M522 582h0M525 582h0M528 582h0M481 583h0M482 583h0M484 583h0M526 583h0M522 584h0M524 584h0M527 584h0M481 585h0M528 585h0M524 586h0M526 586h0M473 587h0M475 587h0M476 587h0M523 587h0M471 588h0M475 588h0M521 588h0M524 588h0M526 588h0M522 589h0M520 590h0M524 590h0M466 591h0M519 591h0M522 592h0M524 592h0M463 593h0M465 593h0M518 593h0M520 593h0M518 594h0M522 594h0M460 595h0M520 595h0M518 596h0M515 598h0M517 598h0M455 599h0M518 599h0M514 600h0M516 600h0M449 602h0M513 602h0M514 603h0M511 604h0M512 604h0M446 605h0M508 605h0M445 606h0M510 606h0M442 607h0M509 607h0M508 608h0M440 609h0M507 609h0M504 610h0M502 612h0M505 612h0M497 616h0M496 619h0M492 620h0M494 620h0M491 622h0M489 623h0M489 624h0M484 627h0M482 628h0M479 629h0M477 631h0M477 632h0M474 634h0M472 636h0M469 638h0"/>
<path stroke="#3169d1" d="M502 577h0M507 577h0M509 577h0M512 577h0M506 578h0M509 578h0M501 579h0M502 579h0M505 579h0M511 579h0M512 579h0M515 579h0M516 579h0M518 579h0M497 580h0M500 580h0M507 580h0M520 580h0M492 581h0M494 581h0M503 581h0M505 581h0M508 581h0M510 581h0M514 581h0M516 581h0M518 581h0M491 582h0M512 582h0M518 582h0M520 582h0M487 583h0M489 583h0M493 583h0M514 583h0M516 583h0M516 584h0M521 584h0M483 585h0M485 585h0M487 585h0M488 585h0M519 585h0M518 586h0M520 586h0M478 587h0M480 587h0M516 587h0M479 588h0M517 588h0M518 588h0M476 589h0M515 589h0M471 591h0M473 591h0M514 591h0M517 591h0M470 592h0M516 592h0M466 593h0M469 593h0M514 593h0M516 594h0M463 595h0M464 595h0M514 595h0M512 596h0M516 596h0M459 597h0M460 597h0M463 597h0M514 597h0M512 598h0M456 599h0M458 599h0M510 599h0M455 600h0M512 600h0M453 601h0M510 601h0M452 603h0M510 603h0M451 604h0M505 605h0M506 605h0M447 606h0M504 606h0M506 607h0M502 608h0M505 608h0M442 609h0M500 610h0M502 610h0M439 611h0M437 613h0M438 613h0M496 613h0M435 614h0M496 614h0M498 615h0M493 616h0M494 617h0M491 618h0M494 618h0M492 619h0M488 620h0M490 620h0M487 622h0M486 624h0M484 625h0M482 626h0M480 628h0M474 632h0"/>
<path stroke="#3370d3" d="M508 582h0M495 583h0M496 583h0M498 583h0M500 583h0M502 583h0M505 583h0M507 583h0M510 583h0M492 584h0M497 584h0M491 585h0M500 585h0M503 585h0M505 585h0M506 585h0M508 585h0M510 585h0M512 585h0M514 585h0M487 586h0M490 586h0M514 586h0M483 587h0M485 587h0M489 587h0M507 587h0M510 587h0M485 588h0M510 588h0M513 588h0M481 589h0M475 591h0M477 591h0M510 591h0M474 592h0M508 592h0M510 592h0M473 593h0M469 594h0M508 594h0M511 594h0M512 595h0M464 597h0M508 597h0M510 597h0M507 598h0M508 598h0M461 599h0M456 601h0M504 601h0M506 601h0M506 602h0M504 603h0M502 604h0M449 605h0M502 606h0M448 607h0M499 607h0M500 607h0M498 608h0M444 609h0M501 609h0M443 610h0M496 610h0M441 611h0M495 612h0M498 612h0M436 615h0M494 615h0M488 618h0M484 623h0M482 624h0M479 626h0M480 626h0M477 629h0M474 630h0M472 632h0M471 633h0M471 634h0M469 636h0"/>
<path stroke="#3576d4" d="M493 587h0M494 587h0M497 587h0M499 587h0M500 587h0M503 587h0M483 589h0M486 589h0M489 589h0M490 589h0M494 589h0M496 589h0M499 589h0M500 589h0M502 589h0M505 589h0M506 589h0M488 590h0M479 591h0M480 591h0M482 591h0M485 591h0M501 591h0M502 591h0M504 591h0M506 591h0M508 591h0M504 592h0M476 593h0M479 593h0M502 593h0M506 593h0M501 594h0M504 594h0M506 594h0M473 595h0M502 595h0M505 596h0M506 596h0M466 597h0M469 597h0M504 598h0M463 599h0M464 599h0M502 599h0M502 600h0M459 601h0M461 601h0M457 602h0M502 602h0M455 603h0M500 603h0M452 605h0M497 605h0M499 605h0M451 606h0M497 607h0M446 609h0M495 609h0M495 610h0M441 612h0M492 612h0M490 614h0M438 615h0M488 616h0M490 616h0M487 617h0M434 618h0M486 618h0M484 620h0M483 621h0M482 622h0M481 623h0M481 624h0M475 628h0M472 631h0M466 638h0"/>
<path stroke="#377dd6" d="M486 591h0M490 591h0M492 591h0M495 591h0M496 591h0M498 591h0M497 592h0M481 593h0M482 593h0M485 593h0M487 593h0M488 593h0M492 593h0M495 593h0M477 594h0M499 594h0M474 595h0M478 595h0M496 595h0M498 596h0M470 597h0M473 597h0M497 597h0M501 597h0M467 599h0M498 599h0M500 599h0M500 600h0M462 601h0M496 601h0M498 601h0M497 602h0M498 603h0M455 605h0M452 606h0M494 607h0M448 609h0M492 610h0M445 611h0M443 612h0M490 612h0M488 615h0M482 619h0M484 619h0M478 625h0M476 626h0M474 627h0M471 630h0M468 634h0M466 636h0"/>
<path stroke="#3983d8" d="M484 594h0M482 595h0M487 595h0M488 595h0M490 595h0M493 595h0M494 595h0M482 596h0M475 597h0M476 597h0M478 597h0M480 597h0M490 597h0M492 597h0M495 597h0M475 598h0M492 598h0M494 598h0M469 599h0M470 599h0M472 599h0M464 601h0M467 601h0M468 601h0M493 601h0M494 601h0M493 602h0M459 603h0M460 603h0M494 603h0M493 604h0M494 604h0M457 605h0M455 607h0M451 608h0M490 608h0M488 610h0M490 610h0M447 611h0M446 612h0M488 612h0M486 614h0M441 615h0M439 616h0M440 616h0M485 616h0M437 617h0M478 621h0M480 621h0M478 622h0M477 623h0M476 624h0"/>
<path stroke="#3b8ad9" d="M484 597h0M487 597h0M488 597h0M487 598h0M488 598h0M477 599h0M478 599h0M481 599h0M482 599h0M484 599h0M484 600h0M470 601h0M472 601h0M486 601h0M488 601h0M490 601h0M465 602h0M491 602h0M463 603h0M488 603h0M489 604h0M490 604h0M459 605h0M460 605h0M490 606h0M489 607h0M486 609h0M488 609h0M486 610h0M450 611h0M484 612h0M486 612h0M445 613h0M482 614h0M484 614h0M442 615h0M481 616h0M482 616h0M480 618h0M479 619h0M475 624h0M472 626h0M471 629h0M469 630h0M468 632h0"/>
<path stroke="#4292dc" d="M483 600h0M475 601h0M477 601h0M479 601h0M481 601h0M477 602h0M468 603h0M470 603h0M482 603h0M485 603h0M486 603h0M464 604h0M466 604h0M482 604h0M484 604h0M462 605h0M486 605h0M459 606h0M484 606h0M453 609h0M454 609h0M449 611h0M484 611h0M482 612h0M480 614h0M438 618h0M437 619h0M476 619h0M477 620h0M475 622h0M472 625h0M471 626h0M467 633h0M466 634h0"/>
<path stroke="#4b9bdf" d="M473 603h0M475 603h0M479 603h0M480 603h0M468 604h0M470 604h0M478 604h0M473 605h0M477 605h0M480 605h0M480 607h0M483 607h0M480 608h0M456 609h0M483 609h0M482 610h0M453 611h0M480 611h0M478 612h0M480 612h0M449 613h0M450 613h0M478 615h0M478 616h0M474 620h0M472 623h0M469 627h0M462 638h0"/>
<path stroke="#54a4e2" d="M474 605h0M471 607h0M472 607h0M476 607h0M476 608h0M459 609h0M478 609h0M477 610h0M454 611h0M478 611h0M445 615h0M476 616h0M442 617h0M472 620h0M470 624h0M468 629h0M464 636h0"/>
<path stroke="#5dade6" d="M465 607h0M467 607h0M461 609h0M470 609h0M472 609h0M474 609h0M474 610h0M456 611h0M453 613h0M474 613h0M447 615h0M444 617h0M473 618h0M438 620h0M470 622h0M469 624h0M461 638h0"/>
<path stroke="#68b6e9" d="M463 609h0M465 609h0M466 609h0M468 609h0M459 611h0M468 611h0M471 611h0M472 612h0M455 613h0M449 615h0M472 616h0M444 618h0M471 618h0M441 619h0M443 619h0M435 621h0M468 623h0M466 630h0M464 634h0M462 636h0"/>
<path stroke="#7ac1eb" d="M461 611h0M463 611h0M464 611h0M466 611h0M462 612h0M470 612h0M456 613h0M459 613h0M468 613h0M451 615h0M453 615h0M470 615h0M450 616h0M470 616h0M447 617h0M469 619h0M469 620h0M467 626h0M466 628h0M464 633h0"/>
<path stroke="#8ccbee" d="M461 613h0M464 613h0M467 613h0M465 614h0M456 615h0M467 615h0M468 616h0M448 617h0M466 620h0M437 621h0M466 622h0M466 624h0M462 635h0"/>
<path stroke="#9fd6f0" d="M455 615h0M459 615h0M461 615h0M462 615h0M452 616h0M458 616h0M463 617h0M465 617h0M466 617h0M464 618h0M466 618h0M464 624h0M458 638h0"/>
<path stroke="#b0def3" d="M460 617h0M461 618h0M462 618h0M446 619h0M463 620h0M464 623h0M464 626h0M462 633h0"/>
<path stroke="#c0e5f4" d="M457 618h0M449 619h0M444 620h0M441 621h0M439 622h0M462 622h0M434 623h0M460 636h0"/>
<path stroke="#cfecf6" d="M454 619h0M458 619h0M462 624h0M462 630h0M460 634h0M459 636h0"/>
<path stroke="#dff2f8" d="M450 619h0M453 619h0M449 620h0M462 629h0M457 638h0"/>
<path stroke="#ebf6eb" d="M454 620h0M458 621h0M460 623h0"/>
<path stroke="#f6fadd" d="M447 621h0M456 621h0M436 624h0M460 625h0M461 627h0M460 630h0M460 632h0M458 635h0"/>
<path stroke="#fbfbce" d="M451 621h0M453 621h0M443 622h0M458 623h0M460 628h0M455 638h0"/>
<path stroke="#fcfbc0" d="M441 623h0M458 624h0M435 625h0M456 637h0"/>
<path stroke="#fdfcb1" d="M453 622h0M456 623h0"/>
<path stroke="#fffca3" d="M449 622h0M447 623h0M451 623h0M457 625h0M458 628h0M458 632h0"/>
<path stroke="#fffa9b" d="M445 623h0M455 624h0M439 625h0M458 630h0M456 634h0"/>
<path stroke="#fff48f" d="M446 624h0M456 627h0M456 629h0M456 632h0M454 636h0"/>
<path stroke="#fff189" d="M441 625h0M452 625h0M456 630h0M452 637h0"/>
<path stroke="#ffee83" d="M448 625h0M454 627h0"/>
<path stroke="#ffec7e" d="M443 625h0M444 625h0M450 625h0M435 627h0M455 632h0M454 634h0"/>
<path stroke="#ffe978" d="M437 627h0M454 628h0"/>
<path stroke="#ffd957" d="M450 627h0M454 630h0"/>
<path stroke="#ffd045" d="M452 628h0M453 634h0"/>
<path stroke="#ffc734" d="M440 627h0M449 627h0"/>
<path stroke="#ffbe22" d="M438 627h0M446 627h0M452 633h0M449 638h0"/>
<path stroke="#ffb510" d="M443 627h0"/>
<path stroke="#ffa908" d="M434 629h0"/>
<path stroke="#ff8e02" d="M445 627h0M450 636h0"/>
<path stroke="#ff8000" d="M449 629h0M450 630h0"/>
<path stroke="#fe6f00" d="M441 628h0M451 633h0"/>
<path stroke="#fb4f00" d="M437 629h0M450 634h0"/>
<path stroke="#f63100" d="M439 629h0M446 629h0M449 634h0M448 636h0"/>
<path stroke="#f22400" d="M443 629h0M445 629h0M448 632h0"/>
<path stroke="#ee1600" d="M435 631h0M444 638h0"/>
<path stroke="#df0500" d="M443 630h0M446 631h0M447 634h0M446 636h0"/>
<path stroke="#d10000" d="M437 631h0M445 631h0M446 632h0M444 636h0"/>
<path stroke="#c80000" d="M440 631h0M443 637h0M442 638h0"/>
<path stroke="#bf0000" d="M439 632h0M444 633h0"/>
<path stroke="#b60000" d="M444 634h0M440 638h0"/>
<path stroke="#ad0000" d="M437 633h0M440 633h0M442 634h0M435 635h0M436 635h0M439 635h0M440 635h0M439 637h0M441 637h0M435 638h0M436 638h0M438 638h0"/>
</g>
</g>
<line x1="217.2" y1="319.3" x2="368.8" y2="173.6" stroke="#7c7c7c" stroke-opacity="0.9" stroke-width="0.8" stroke-dasharray="1.8 1"/>
<polyline points="217.2,314.0 353.6,261.5" fill="none" stroke="#c22c3a" stroke-width="1"/>
<text x="217.5" y="327.7" font-size="8" stroke="#111" stroke-width="0.12" text-anchor="middle">0</text>
<text x="214.6" y="321.9" font-size="8" stroke="#111" stroke-width="0.12" text-anchor="end">0</text>
<text x="242.8" y="327.7" font-size="8" stroke="#111" stroke-width="0.12" text-anchor="middle">5</text>
<text x="214.6" y="297.6" font-size="8" stroke="#111" stroke-width="0.12" text-anchor="end">5</text>
<text x="268.0" y="327.7" font-size="8" stroke="#111" stroke-width="0.12" text-anchor="middle">10</text>
<text x="214.6" y="273.3" font-size="8" stroke="#111" stroke-width="0.12" text-anchor="end">10</text>
<text x="293.3" y="327.7" font-size="8" stroke="#111" stroke-width="0.12" text-anchor="middle">15</text>
<text x="214.6" y="249.0" font-size="8" stroke="#111" stroke-width="0.12" text-anchor="end">15</text>
<text x="318.6" y="327.7" font-size="8" stroke="#111" stroke-width="0.12" text-anchor="middle">20</text>
<text x="214.6" y="224.8" font-size="8" stroke="#111" stroke-width="0.12" text-anchor="end">20</text>
<text x="343.8" y="327.7" font-size="8" stroke="#111" stroke-width="0.12" text-anchor="middle">25</text>
<text x="214.6" y="200.5" font-size="8" stroke="#111" stroke-width="0.12" text-anchor="end">25</text>
<text x="369.1" y="327.7" font-size="8" stroke="#111" stroke-width="0.12" text-anchor="middle">30</text>
<text x="214.6" y="176.2" font-size="8" stroke="#111" stroke-width="0.12" text-anchor="end">30</text>
<text x="222.1" y="182.4" font-size="11.8" stroke="#111" stroke-width="0.15">R²=0.55</text>
<text x="222.1" y="193.6" font-size="11.8" stroke="#111" stroke-width="0.15">RMSE=3.18</text>
<text x="222.1" y="204.7" font-size="11.8" stroke="#111" stroke-width="0.15">MAE=2.07</text>
<text x="222.1" y="215.9" font-size="11.8" stroke="#111" stroke-width="0.15">IOA=0.73</text>
<text x="222.1" y="227.1" font-size="11.8" stroke="#111" stroke-width="0.15">slope=0.40</text>
<text x="318.9" y="314.6" font-size="13.1" font-weight="bold" fill="#161616">MOD17</text>
</g>
<g>
<clipPath id="cp6"><rect x="385.7" y="173.1" width="152.6" height="146.7"/></clipPath>
<rect x="386.2" y="173.6" width="151.6" height="145.7" fill="none" stroke="#a2a2a2" stroke-width="0.9"/>
<path d="M386.2 319.8v1.6M385.7 319.3h-1.6M411.5 319.8v1.6M385.7 295.0h-1.6M436.7 319.8v1.6M385.7 270.7h-1.6M462.0 319.8v1.6M385.7 246.4h-1.6M487.3 319.8v1.6M385.7 222.2h-1.6M512.5 319.8v1.6M385.7 197.9h-1.6M537.8 319.8v1.6M385.7 173.6h-1.6" stroke="#a2a2a2" stroke-width="0.7" fill="none"/>
<g clip-path="url(#cp6)">
<g transform="scale(.5)" fill="none" stroke-width="4.6" stroke-linecap="round">
<path stroke="#2b2fa5" d="M897 453h0M871 457h0M884 463h0M884 468h0M901 472h0M907 473h0M909 475h0M859 477h0M933 478h0M845 479h0M821 480h0M889 480h0M925 482h0M898 483h0M897 484h0M883 485h0M884 485h0M902 485h0M781 488h0M926 489h0M860 490h0M936 490h0M953 490h0M955 490h0M865 491h0M930 491h0M863 492h0M876 492h0M879 492h0M911 492h0M873 493h0M882 493h0M898 493h0M934 493h0M863 494h0M893 494h0M902 494h0M906 494h0M851 495h0M918 495h0M929 495h0M936 495h0M846 496h0M868 496h0M874 496h0M885 496h0M894 496h0M901 496h0M860 497h0M878 497h0M891 498h0M897 498h0M907 498h0M923 498h0M832 499h0M855 499h0M877 499h0M887 499h0M889 499h0M905 499h0M915 499h0M935 499h0M936 499h0M938 499h0M887 500h0M899 500h0M917 500h0M877 501h0M880 501h0M900 501h0M905 501h0M931 501h0M937 501h0M941 501h0M856 502h0M859 502h0M878 502h0M911 502h0M914 502h0M928 502h0M940 502h0M840 503h0M853 503h0M875 503h0M884 503h0M886 503h0M891 503h0M892 503h0M908 503h0M912 503h0M918 503h0M868 504h0M875 504h0M885 504h0M888 504h0M895 504h0M896 504h0M947 504h0M952 504h0M836 505h0M850 505h0M873 505h0M881 505h0M890 505h0M898 505h0M900 505h0M904 505h0M775 506h0M873 506h0M875 506h0M890 506h0M892 506h0M944 506h0M954 506h0M857 507h0M865 507h0M867 507h0M881 507h0M882 507h0M885 507h0M886 507h0M888 507h0M895 507h0M897 507h0M899 507h0M901 507h0M946 507h0M847 508h0M853 508h0M858 508h0M864 508h0M867 508h0M886 508h0M943 508h0M945 508h0M947 508h0M870 509h0M873 509h0M880 509h0M884 509h0M888 509h0M890 509h0M892 509h0M895 509h0M897 509h0M844 510h0M859 510h0M877 510h0M880 510h0M861 511h0M866 511h0M868 511h0M872 511h0M875 511h0M878 511h0M882 511h0M884 511h0M887 511h0M892 511h0M963 511h0M845 512h0M851 512h0M857 512h0M860 512h0M863 512h0M865 512h0M871 512h0M879 512h0M882 512h0M888 512h0M830 513h0M853 513h0M867 513h0M869 513h0M873 513h0M875 513h0M876 513h0M881 513h0M884 513h0M945 513h0M815 514h0M859 514h0M861 514h0M867 514h0M869 514h0M950 514h0M830 515h0M853 515h0M854 515h0M857 515h0M863 515h0M870 515h0M872 515h0M875 515h0M876 515h0M879 515h0M883 515h0M962 515h0M825 516h0M850 516h0M854 516h0M861 516h0M865 516h0M872 516h0M849 517h0M856 517h0M859 517h0M863 517h0M867 517h0M871 517h0M874 517h0M876 517h0M879 517h0M944 517h0M948 517h0M968 517h0M836 518h0M851 518h0M856 518h0M869 518h0M873 518h0M874 518h0M954 518h0M843 519h0M849 519h0M852 519h0M855 519h0M859 519h0M860 519h0M862 519h0M865 519h0M867 519h0M871 519h0M947 519h0M963 519h0M832 520h0M838 520h0M847 520h0M851 520h0M861 520h0M868 520h0M961 520h0M1000 520h0M828 521h0M830 521h0M843 521h0M848 521h0M853 521h0M855 521h0M856 521h0M858 521h0M862 521h0M865 521h0M866 521h0M871 521h0M943 521h0M950 521h0M953 521h0M955 521h0M981 521h0M814 522h0M827 522h0M849 522h0M869 522h0M956 522h0M809 523h0M833 523h0M834 523h0M837 523h0M839 523h0M842 523h0M847 523h0M851 523h0M853 523h0M855 523h0M857 523h0M859 523h0M860 523h0M863 523h0M865 523h0M866 523h0M942 523h0M963 523h0M968 523h0M976 523h0M817 524h0M818 524h0M843 524h0M849 524h0M850 524h0M859 524h0M865 524h0M867 524h0M953 524h0M987 524h0M826 525h0M828 525h0M836 525h0M841 525h0M845 525h0M855 525h0M857 525h0M861 525h0M862 525h0M946 525h0M961 525h0M962 525h0M970 525h0M973 525h0M829 526h0M832 526h0M843 526h0M856 526h0M946 526h0M952 526h0M959 526h0M998 526h0M827 527h0M831 527h0M837 527h0M841 527h0M844 527h0M846 527h0M849 527h0M850 527h0M860 527h0M862 527h0M967 527h0M991 527h0M784 528h0M832 528h0M835 528h0M841 528h0M842 528h0M857 528h0M940 528h0M955 528h0M968 528h0M806 529h0M812 529h0M829 529h0M830 529h0M836 529h0M838 529h0M846 529h0M849 529h0M851 529h0M852 529h0M854 529h0M858 529h0M986 529h0M823 530h0M831 530h0M835 530h0M853 530h0M940 530h0M813 531h0M837 531h0M838 531h0M843 531h0M847 531h0M849 531h0M851 531h0M854 531h0M856 531h0M939 531h0M942 531h0M944 531h0M946 531h0M974 531h0M1006 531h0M814 532h0M829 532h0M832 532h0M839 532h0M849 532h0M959 532h0M962 532h0M995 532h0M793 533h0M807 533h0M825 533h0M827 533h0M835 533h0M836 533h0M840 533h0M842 533h0M845 533h0M847 533h0M851 533h0M853 533h0M965 533h0M972 533h0M829 534h0M830 534h0M839 534h0M847 534h0M852 534h0M938 534h0M957 534h0M965 534h0M969 534h0M973 534h0M833 535h0M835 535h0M837 535h0M843 535h0M845 535h0M849 535h0M851 535h0M817 536h0M825 536h0M845 536h0M938 536h0M943 536h0M944 536h0M947 536h0M953 536h0M1045 536h0M804 537h0M826 537h0M828 537h0M830 537h0M833 537h0M834 537h0M836 537h0M839 537h0M841 537h0M842 537h0M847 537h0M848 537h0M973 537h0M975 537h0M981 537h0M987 537h0M989 537h0M1003 537h0M810 538h0M814 538h0M820 538h0M830 538h0M833 538h0M834 538h0M845 538h0M934 538h0M940 538h0M954 538h0M986 538h0M994 538h0M819 539h0M824 539h0M826 539h0M828 539h0M837 539h0M839 539h0M843 539h0M936 539h0M942 539h0M950 539h0M966 539h0M1006 539h0M803 540h0M804 540h0M812 540h0M839 540h0M841 540h0M843 540h0M936 540h0M938 540h0M942 540h0M964 540h0M967 540h0M987 540h0M816 541h0M821 541h0M823 541h0M826 541h0M828 541h0M831 541h0M833 541h0M835 541h0M836 541h0M934 541h0M794 542h0M802 542h0M810 542h0M813 542h0M815 542h0M821 542h0M827 542h0M835 542h0M840 542h0M932 542h0M935 542h0M938 542h0M778 543h0M816 543h0M818 543h0M825 543h0M831 543h0M832 543h0M836 543h0M839 543h0M943 543h0M955 543h0M962 543h0M965 543h0M1030 543h0M793 544h0M819 544h0M822 544h0M833 544h0M837 544h0M930 544h0M935 544h0M939 544h0M962 544h0M779 545h0M801 545h0M809 545h0M811 545h0M816 545h0M820 545h0M827 545h0M829 545h0M831 545h0M834 545h0M959 545h0M980 545h0M997 545h0M805 546h0M811 546h0M822 546h0M829 546h0M831 546h0M929 546h0M930 546h0M935 546h0M947 546h0M953 546h0M961 546h0M965 546h0M809 547h0M812 547h0M816 547h0M820 547h0M827 547h0M833 547h0M936 547h0M938 547h0M957 547h0M972 547h0M800 548h0M806 548h0M809 548h0M816 548h0M819 548h0M940 548h0M979 548h0M805 549h0M811 549h0M815 549h0M821 549h0M824 549h0M827 549h0M829 549h0M830 549h0M933 549h0M934 549h0M937 549h0M946 549h0M983 549h0M993 549h0M790 550h0M800 550h0M804 550h0M829 550h0M926 550h0M929 550h0M930 550h0M957 550h0M971 550h0M799 551h0M811 551h0M813 551h0M815 551h0M817 551h0M818 551h0M823 551h0M825 551h0M827 551h0M987 551h0M773 552h0M802 552h0M805 552h0M812 552h0M928 552h0M931 552h0M933 552h0M958 552h0M797 553h0M806 553h0M809 553h0M815 553h0M817 553h0M819 553h0M821 553h0M825 553h0M924 553h0M926 553h0M946 553h0M955 553h0M792 554h0M799 554h0M813 554h0M927 554h0M929 554h0M939 554h0M959 554h0M776 555h0M780 555h0M784 555h0M794 555h0M800 555h0M804 555h0M806 555h0M809 555h0M810 555h0M815 555h0M817 555h0M819 555h0M821 555h0M822 555h0M925 555h0M940 555h0M947 555h0M949 555h0M803 556h0M805 556h0M813 556h0M925 556h0M927 556h0M941 556h0M961 556h0M965 556h0M974 556h0M982 556h0M789 557h0M792 557h0M797 557h0M801 557h0M811 557h0M817 557h0M819 557h0M820 557h0M930 557h0M793 558h0M807 558h0M809 558h0M920 558h0M946 558h0M987 558h0M993 558h0M783 559h0M789 559h0M790 559h0M795 559h0M797 559h0M798 559h0M800 559h0M803 559h0M805 559h0M811 559h0M813 559h0M815 559h0M817 559h0M818 559h0M789 560h0M793 560h0M796 560h0M800 560h0M803 560h0M809 560h0M811 560h0M815 560h0M917 560h0M920 560h0M942 560h0M958 560h0M776 561h0M805 561h0M806 561h0M813 561h0M918 561h0M928 561h0M964 561h0M966 561h0M803 562h0M805 562h0M811 562h0M916 562h0M920 562h0M969 562h0M982 562h0M791 563h0M796 563h0M798 563h0M800 563h0M806 563h0M809 563h0M922 563h0M928 563h0M976 563h0M988 563h0M780 564h0M791 564h0M792 564h0M797 564h0M918 564h0M922 564h0M936 564h0M977 564h0M978 564h0M996 564h0M774 565h0M785 565h0M795 565h0M798 565h0M804 565h0M808 565h0M914 565h0M916 565h0M932 565h0M787 566h0M800 566h0M804 566h0M921 566h0M996 566h0M774 567h0M781 567h0M789 567h0M790 567h0M793 567h0M795 567h0M797 567h0M799 567h0M803 567h0M807 567h0M917 567h0M780 568h0M795 568h0M799 568h0M911 568h0M915 568h0M919 568h0M921 568h0M945 568h0M775 569h0M784 569h0M787 569h0M788 569h0M791 569h0M793 569h0M797 569h0M801 569h0M803 569h0M951 569h0M963 569h0M788 570h0M792 570h0M954 570h0M774 571h0M781 571h0M785 571h0M791 571h0M794 571h0M796 571h0M798 571h0M800 571h0M910 571h0M914 571h0M919 571h0M929 571h0M951 571h0M962 571h0M774 572h0M782 572h0M786 572h0M794 572h0M796 572h0M909 572h0M936 572h0M780 573h0M785 573h0M788 573h0M793 573h0M799 573h0M906 573h0M910 573h0M913 573h0M921 573h0M972 573h0M773 574h0M775 574h0M777 574h0M779 574h0M785 574h0M795 574h0M906 574h0M910 574h0M918 574h0M933 574h0M958 574h0M780 575h0M782 575h0M787 575h0M789 575h0M791 575h0M796 575h0M904 575h0M908 575h0M913 575h0M914 575h0M931 575h0M947 575h0M955 575h0M775 576h0M778 576h0M780 576h0M786 576h0M790 576h0M793 576h0M795 576h0M902 576h0M905 576h0M912 576h0M924 576h0M950 576h0M777 577h0M783 577h0M784 577h0M789 577h0M906 577h0M908 577h0M911 577h0M919 577h0M926 577h0M787 578h0M908 578h0M776 579h0M779 579h0M781 579h0M784 579h0M791 579h0M900 579h0M912 579h0M918 579h0M944 579h0M955 579h0M774 580h0M787 580h0M897 580h0M899 580h0M900 580h0M909 580h0M942 580h0M777 581h0M778 581h0M781 581h0M783 581h0M785 581h0M789 581h0M902 581h0M904 581h0M907 581h0M936 581h0M773 582h0M777 582h0M785 582h0M788 582h0M897 582h0M898 582h0M905 582h0M906 582h0M775 583h0M778 583h0M781 583h0M783 583h0M787 583h0M901 583h0M909 583h0M917 583h0M941 583h0M778 584h0M784 584h0M787 584h0M892 584h0M899 584h0M911 584h0M943 584h0M774 585h0M777 585h0M780 585h0M782 585h0M891 585h0M896 585h0M900 585h0M904 585h0M916 585h0M781 586h0M892 586h0M895 586h0M897 586h0M898 586h0M900 586h0M903 586h0M904 586h0M916 586h0M773 587h0M775 587h0M777 587h0M779 587h0M782 587h0M889 587h0M912 587h0M937 587h0M781 588h0M783 588h0M888 588h0M890 588h0M892 588h0M899 588h0M773 589h0M774 589h0M777 589h0M779 589h0M906 589h0M938 589h0M886 590h0M889 590h0M773 591h0M774 591h0M777 591h0M778 591h0M884 591h0M890 591h0M894 591h0M901 591h0M774 592h0M885 592h0M887 592h0M773 593h0M777 593h0M888 593h0M773 594h0M883 594h0M884 594h0M886 594h0M890 594h0M901 594h0M908 594h0M913 594h0M775 595h0M883 596h0M888 596h0M898 596h0M911 596h0M773 597h0M901 597h0M877 598h0M879 598h0M880 598h0M884 598h0M886 598h0M893 598h0M900 598h0M909 598h0M882 599h0M896 599h0M876 600h0M880 601h0M882 601h0M887 601h0M888 601h0M900 601h0M872 602h0M875 602h0M878 602h0M880 602h0M915 602h0M870 603h0M882 603h0M888 603h0M868 604h0M873 604h0M877 604h0M881 604h0M875 605h0M878 605h0M867 606h0M870 606h0M865 607h0M874 607h0M877 607h0M878 607h0M880 607h0M864 608h0M866 608h0M871 608h0M873 608h0M862 609h0M868 609h0M866 610h0M870 610h0M876 610h0M903 610h0M911 610h0M861 611h0M863 611h0M864 611h0M868 611h0M873 611h0M875 611h0M888 611h0M859 612h0M862 612h0M864 612h0M888 612h0M893 612h0M911 612h0M861 613h0M868 613h0M856 614h0M859 614h0M865 614h0M871 614h0M918 614h0M862 615h0M869 615h0M854 616h0M857 616h0M861 616h0M874 616h0M852 617h0M858 617h0M866 617h0M868 617h0M920 617h0M925 617h0M933 617h0M852 618h0M854 618h0M856 618h0M861 618h0M863 618h0M884 618h0M867 619h0M892 619h0M925 619h0M849 620h0M850 620h0M853 620h0M858 620h0M867 620h0M846 621h0M854 621h0M868 621h0M881 621h0M849 622h0M851 622h0M856 622h0M859 622h0M867 622h0M871 622h0M880 622h0M846 623h0M853 623h0M872 623h0M842 624h0M849 624h0M850 624h0M858 624h0M845 625h0M854 625h0M865 625h0M840 626h0M843 626h0M846 626h0M858 626h0M844 627h0M850 627h0M937 627h0M837 628h0M839 628h0M841 628h0M843 628h0M846 628h0M848 628h0M850 628h0M860 628h0M865 629h0M835 630h0M840 630h0M842 630h0M851 630h0M852 630h0M858 630h0M860 630h0M832 631h0M838 631h0M855 631h0M875 631h0M917 631h0M832 632h0M836 632h0M838 632h0M841 632h0M844 632h0M856 632h0M829 633h0M835 633h0M849 633h0M879 633h0M830 634h0M834 634h0M841 634h0M842 634h0M845 634h0M848 634h0M854 634h0M828 635h0M836 635h0M838 635h0M846 635h0M824 636h0M827 636h0M828 636h0M832 636h0M843 636h0M830 637h0M836 637h0M838 637h0M847 637h0M821 638h0M827 638h0M828 638h0M830 638h0M834 638h0M836 638h0M842 638h0M847 638h0M850 638h0M825 639h0"/>
<path stroke="#2c3baf" d="M924 503h0M924 504h0M908 505h0M911 505h0M907 506h0M918 506h0M903 507h0M909 507h0M911 507h0M939 507h0M904 508h0M906 508h0M910 508h0M919 508h0M899 509h0M901 509h0M902 509h0M909 509h0M912 509h0M915 509h0M901 510h0M909 510h0M911 510h0M916 510h0M928 510h0M894 511h0M897 511h0M899 511h0M903 511h0M905 511h0M906 511h0M913 511h0M915 511h0M919 511h0M924 511h0M927 511h0M942 511h0M899 512h0M916 512h0M928 512h0M890 513h0M893 513h0M901 513h0M902 513h0M905 513h0M906 513h0M915 513h0M918 513h0M920 513h0M922 513h0M924 513h0M927 513h0M934 513h0M940 513h0M888 514h0M897 514h0M906 514h0M910 514h0M922 514h0M885 515h0M886 515h0M890 515h0M892 515h0M895 515h0M899 515h0M901 515h0M903 515h0M904 515h0M909 515h0M912 515h0M914 515h0M916 515h0M920 515h0M925 515h0M926 515h0M929 515h0M931 515h0M897 516h0M929 516h0M882 517h0M884 517h0M887 517h0M890 517h0M895 517h0M898 517h0M900 517h0M903 517h0M904 517h0M907 517h0M908 517h0M910 517h0M914 517h0M917 517h0M919 517h0M921 517h0M922 517h0M924 517h0M926 517h0M933 517h0M934 517h0M938 517h0M885 518h0M910 518h0M921 518h0M929 518h0M876 519h0M879 519h0M882 519h0M886 519h0M889 519h0M891 519h0M893 519h0M894 519h0M897 519h0M899 519h0M900 519h0M905 519h0M907 519h0M909 519h0M913 519h0M914 519h0M916 519h0M919 519h0M923 519h0M924 519h0M926 519h0M930 519h0M934 519h0M882 520h0M892 520h0M897 520h0M918 520h0M921 520h0M933 520h0M937 520h0M938 520h0M875 521h0M877 521h0M879 521h0M881 521h0M884 521h0M887 521h0M891 521h0M898 521h0M901 521h0M903 521h0M906 521h0M909 521h0M911 521h0M913 521h0M914 521h0M922 521h0M924 521h0M926 521h0M928 521h0M931 521h0M934 521h0M879 522h0M890 522h0M903 522h0M924 522h0M926 522h0M928 522h0M940 522h0M871 523h0M872 523h0M875 523h0M876 523h0M881 523h0M882 523h0M885 523h0M887 523h0M889 523h0M893 523h0M895 523h0M897 523h0M898 523h0M915 523h0M917 523h0M920 523h0M922 523h0M931 523h0M935 523h0M937 523h0M870 524h0M883 524h0M885 524h0M891 524h0M919 524h0M926 524h0M930 524h0M932 524h0M934 524h0M936 524h0M869 525h0M873 525h0M874 525h0M876 525h0M879 525h0M887 525h0M889 525h0M921 525h0M922 525h0M924 525h0M928 525h0M938 525h0M866 526h0M874 526h0M879 526h0M888 526h0M931 526h0M932 526h0M934 526h0M937 526h0M865 527h0M869 527h0M870 527h0M873 527h0M877 527h0M880 527h0M882 527h0M885 527h0M919 527h0M920 527h0M922 527h0M924 527h0M926 527h0M929 527h0M938 527h0M871 528h0M877 528h0M918 528h0M921 528h0M926 528h0M928 528h0M930 528h0M934 528h0M861 529h0M863 529h0M867 529h0M868 529h0M873 529h0M874 529h0M878 529h0M922 529h0M924 529h0M932 529h0M859 530h0M867 530h0M920 530h0M926 530h0M928 530h0M930 530h0M932 530h0M861 531h0M862 531h0M864 531h0M868 531h0M871 531h0M873 531h0M874 531h0M877 531h0M919 531h0M922 531h0M924 531h0M934 531h0M937 531h0M859 532h0M867 532h0M875 532h0M922 532h0M927 532h0M932 532h0M934 532h0M936 532h0M855 533h0M857 533h0M860 533h0M863 533h0M865 533h0M869 533h0M871 533h0M872 533h0M921 533h0M924 533h0M928 533h0M854 534h0M857 534h0M920 534h0M922 534h0M926 534h0M929 534h0M933 534h0M935 534h0M858 535h0M861 535h0M863 535h0M865 535h0M867 535h0M919 535h0M936 535h0M852 536h0M859 536h0M867 536h0M920 536h0M925 536h0M929 536h0M930 536h0M933 536h0M934 536h0M851 537h0M855 537h0M857 537h0M861 537h0M862 537h0M865 537h0M918 537h0M922 537h0M926 537h0M851 538h0M859 538h0M861 538h0M863 538h0M864 538h0M923 538h0M924 538h0M931 538h0M847 539h0M853 539h0M854 539h0M857 539h0M920 539h0M926 539h0M928 539h0M932 539h0M851 540h0M857 540h0M860 540h0M916 540h0M922 540h0M927 540h0M928 540h0M844 541h0M847 541h0M853 541h0M854 541h0M859 541h0M918 541h0M924 541h0M930 541h0M932 541h0M855 542h0M915 542h0M917 542h0M922 542h0M926 542h0M928 542h0M931 542h0M843 543h0M845 543h0M847 543h0M849 543h0M851 543h0M852 543h0M856 543h0M919 543h0M921 543h0M924 543h0M853 544h0M917 544h0M919 544h0M925 544h0M927 544h0M841 545h0M842 545h0M844 545h0M849 545h0M851 545h0M915 545h0M920 545h0M922 545h0M928 545h0M835 546h0M839 546h0M843 546h0M847 546h0M918 546h0M920 546h0M922 546h0M837 547h0M841 547h0M845 547h0M849 547h0M851 547h0M914 547h0M924 547h0M927 547h0M842 548h0M913 548h0M918 548h0M924 548h0M832 549h0M834 549h0M837 549h0M838 549h0M841 549h0M845 549h0M846 549h0M915 549h0M916 549h0M921 549h0M922 549h0M834 550h0M844 550h0M918 550h0M924 550h0M831 551h0M833 551h0M836 551h0M838 551h0M840 551h0M842 551h0M910 551h0M912 551h0M914 551h0M916 551h0M920 551h0M833 552h0M839 552h0M841 552h0M909 552h0M910 552h0M912 552h0M914 552h0M916 552h0M918 552h0M922 552h0M828 553h0M830 553h0M835 553h0M837 553h0M920 553h0M837 554h0M908 554h0M915 554h0M918 554h0M920 554h0M922 554h0M825 555h0M827 555h0M829 555h0M831 555h0M833 555h0M835 555h0M906 555h0M911 555h0M912 555h0M916 555h0M835 556h0M838 556h0M906 556h0M908 556h0M911 556h0M916 556h0M919 556h0M823 557h0M825 557h0M827 557h0M828 557h0M830 557h0M912 557h0M914 557h0M821 558h0M823 558h0M830 558h0M905 558h0M908 558h0M918 558h0M825 559h0M827 559h0M829 559h0M833 559h0M906 559h0M913 559h0M914 559h0M916 559h0M825 560h0M903 560h0M905 560h0M908 560h0M914 560h0M817 561h0M819 561h0M823 561h0M827 561h0M828 561h0M831 561h0M912 561h0M815 562h0M819 562h0M822 562h0M912 562h0M914 562h0M813 563h0M816 563h0M820 563h0M824 563h0M827 563h0M828 563h0M900 563h0M905 563h0M906 563h0M909 563h0M910 563h0M818 564h0M898 564h0M900 564h0M908 564h0M911 564h0M811 565h0M812 565h0M814 565h0M817 565h0M820 565h0M823 565h0M825 565h0M902 565h0M906 565h0M815 566h0M823 566h0M900 566h0M902 566h0M906 566h0M908 566h0M910 566h0M808 567h0M811 567h0M813 567h0M817 567h0M820 567h0M896 567h0M898 567h0M905 567h0M819 568h0M895 568h0M896 568h0M898 568h0M902 568h0M904 568h0M907 568h0M909 568h0M805 569h0M807 569h0M809 569h0M811 569h0M813 569h0M815 569h0M817 569h0M901 569h0M811 570h0M816 570h0M892 570h0M894 570h0M897 570h0M900 570h0M904 570h0M906 570h0M803 571h0M805 571h0M807 571h0M812 571h0M815 571h0M898 571h0M902 571h0M808 572h0M814 572h0M817 572h0M890 572h0M896 572h0M904 572h0M803 573h0M805 573h0M811 573h0M813 573h0M893 573h0M894 573h0M898 573h0M900 573h0M903 573h0M802 574h0M813 574h0M890 574h0M892 574h0M894 574h0M899 574h0M900 574h0M902 574h0M798 575h0M801 575h0M807 575h0M809 575h0M810 575h0M888 575h0M896 575h0M797 576h0M803 576h0M808 576h0M887 576h0M891 576h0M894 576h0M896 576h0M898 576h0M798 577h0M800 577h0M807 577h0M810 577h0M795 578h0M802 578h0M806 578h0M885 578h0M890 578h0M892 578h0M894 578h0M898 578h0M793 579h0M797 579h0M799 579h0M800 579h0M805 579h0M886 579h0M889 579h0M896 579h0M801 580h0M885 580h0M886 580h0M888 580h0M892 580h0M791 581h0M793 581h0M794 581h0M796 581h0M799 581h0M803 581h0M882 581h0M890 581h0M894 581h0M795 582h0M797 582h0M803 582h0M804 582h0M880 582h0M886 582h0M888 582h0M892 582h0M894 582h0M791 583h0M793 583h0M798 583h0M801 583h0M882 583h0M890 583h0M799 584h0M801 584h0M879 584h0M885 584h0M887 584h0M888 584h0M789 585h0M790 585h0M792 585h0M794 585h0M797 585h0M880 585h0M882 585h0M791 586h0M795 586h0M875 586h0M876 586h0M878 586h0M880 586h0M885 586h0M786 587h0M788 587h0M793 587h0M797 587h0M883 587h0M794 588h0M876 588h0M878 588h0M880 588h0M883 588h0M884 588h0M887 588h0M785 589h0M786 589h0M789 589h0M791 589h0M793 589h0M874 589h0M789 590h0M871 590h0M875 590h0M876 590h0M883 590h0M781 591h0M783 591h0M784 591h0M787 591h0M790 591h0M793 591h0M872 591h0M878 591h0M880 591h0M783 592h0M787 592h0M789 592h0M790 592h0M868 592h0M870 592h0M872 592h0M874 592h0M877 592h0M879 592h0M880 592h0M882 592h0M779 593h0M781 593h0M785 593h0M785 594h0M787 594h0M866 594h0M869 594h0M871 594h0M875 594h0M877 594h0M878 594h0M880 594h0M776 595h0M778 595h0M780 595h0M782 595h0M788 595h0M872 595h0M776 596h0M787 596h0M863 596h0M866 596h0M870 596h0M873 596h0M875 596h0M877 596h0M775 597h0M779 597h0M781 597h0M785 597h0M868 597h0M775 598h0M783 598h0M861 598h0M862 598h0M865 598h0M866 598h0M868 598h0M870 598h0M874 598h0M773 599h0M779 599h0M784 599h0M773 600h0M859 600h0M864 600h0M866 600h0M870 600h0M872 600h0M777 601h0M861 601h0M862 601h0M869 601h0M776 602h0M778 602h0M856 602h0M859 602h0M860 602h0M862 602h0M864 602h0M866 602h0M868 602h0M773 603h0M775 603h0M852 604h0M857 604h0M860 604h0M864 604h0M866 604h0M773 605h0M775 605h0M777 605h0M858 605h0M862 605h0M775 606h0M854 606h0M856 606h0M858 606h0M860 606h0M773 607h0M850 607h0M853 607h0M863 607h0M849 608h0M852 608h0M856 608h0M858 608h0M851 609h0M854 609h0M861 609h0M847 610h0M848 610h0M850 610h0M856 610h0M853 611h0M855 611h0M847 612h0M848 612h0M853 612h0M854 612h0M856 612h0M841 614h0M847 614h0M850 614h0M854 614h0M843 615h0M844 615h0M848 615h0M853 615h0M838 616h0M842 616h0M844 616h0M846 616h0M836 617h0M840 617h0M848 617h0M850 617h0M837 618h0M840 618h0M838 619h0M842 619h0M846 619h0M848 619h0M831 620h0M833 620h0M834 620h0M839 620h0M842 620h0M845 620h0M837 621h0M840 621h0M830 622h0M832 622h0M835 622h0M837 622h0M838 622h0M840 622h0M844 622h0M842 623h0M826 624h0M829 624h0M831 624h0M833 624h0M834 624h0M836 624h0M838 624h0M840 624h0M825 626h0M826 626h0M828 626h0M831 626h0M832 626h0M835 626h0M838 626h0M837 627h0M821 628h0M824 628h0M826 628h0M829 628h0M830 628h0M832 628h0M835 629h0M818 630h0M820 630h0M823 630h0M825 630h0M826 630h0M829 630h0M816 631h0M830 631h0M814 632h0M816 632h0M818 632h0M827 632h0M830 632h0M820 633h0M822 633h0M824 633h0M815 634h0M818 634h0M820 634h0M824 634h0M826 634h0M812 635h0M822 635h0M811 636h0M812 636h0M818 636h0M820 636h0M822 636h0M815 637h0M817 637h0M809 638h0M812 638h0M815 638h0M817 638h0M818 638h0"/>
<path stroke="#2d43b5" d="M900 523h0M904 523h0M911 523h0M913 523h0M901 524h0M912 524h0M893 525h0M895 525h0M897 525h0M903 525h0M904 525h0M906 525h0M908 525h0M911 525h0M915 525h0M916 525h0M899 526h0M910 526h0M916 526h0M890 527h0M893 527h0M896 527h0M901 527h0M903 527h0M905 527h0M906 527h0M912 527h0M914 527h0M885 528h0M889 528h0M895 528h0M898 528h0M908 528h0M881 529h0M891 529h0M893 529h0M896 529h0M901 529h0M905 529h0M906 529h0M911 529h0M912 529h0M914 529h0M916 529h0M882 530h0M897 530h0M898 530h0M904 530h0M914 530h0M879 531h0M881 531h0M885 531h0M887 531h0M889 531h0M891 531h0M893 531h0M895 531h0M900 531h0M902 531h0M906 531h0M908 531h0M910 531h0M912 531h0M916 531h0M887 532h0M897 532h0M902 532h0M904 532h0M915 532h0M917 532h0M918 532h0M877 533h0M878 533h0M880 533h0M883 533h0M885 533h0M888 533h0M893 533h0M894 533h0M898 533h0M901 533h0M906 533h0M908 533h0M873 534h0M885 534h0M890 534h0M904 534h0M907 534h0M909 534h0M915 534h0M917 534h0M870 535h0M874 535h0M877 535h0M879 535h0M881 535h0M882 535h0M889 535h0M895 535h0M897 535h0M899 535h0M900 535h0M903 535h0M910 535h0M871 536h0M875 536h0M891 536h0M898 536h0M908 536h0M910 536h0M912 536h0M869 537h0M872 537h0M877 537h0M878 537h0M881 537h0M882 537h0M884 537h0M888 537h0M896 537h0M903 537h0M904 537h0M906 537h0M914 537h0M916 537h0M880 538h0M900 538h0M903 538h0M904 538h0M906 538h0M908 538h0M915 538h0M867 539h0M869 539h0M870 539h0M872 539h0M874 539h0M876 539h0M878 539h0M899 539h0M910 539h0M912 539h0M916 539h0M865 540h0M871 540h0M872 540h0M874 540h0M901 540h0M903 540h0M906 540h0M911 540h0M862 541h0M867 541h0M869 541h0M904 541h0M908 541h0M912 541h0M914 541h0M861 542h0M865 542h0M869 542h0M902 542h0M906 542h0M908 542h0M911 542h0M912 542h0M859 543h0M863 543h0M867 543h0M900 543h0M904 543h0M858 544h0M863 544h0M902 544h0M904 544h0M906 544h0M908 544h0M912 544h0M855 545h0M856 545h0M861 545h0M864 545h0M900 545h0M910 545h0M902 546h0M904 546h0M908 546h0M910 546h0M912 546h0M852 547h0M855 547h0M859 547h0M861 547h0M862 547h0M900 547h0M906 547h0M852 548h0M899 548h0M902 548h0M904 548h0M910 548h0M849 549h0M850 549h0M859 549h0M906 549h0M908 549h0M846 550h0M900 550h0M907 550h0M851 551h0M852 551h0M854 551h0M898 551h0M902 551h0M904 551h0M909 551h0M845 552h0M847 552h0M899 552h0M905 552h0M843 553h0M900 553h0M906 553h0M844 554h0M846 554h0M897 554h0M898 554h0M904 554h0M839 555h0M841 555h0M843 555h0M848 555h0M900 555h0M840 556h0M896 556h0M898 556h0M902 556h0M904 556h0M837 557h0M842 557h0M844 557h0M894 557h0M900 557h0M841 558h0M894 558h0M896 558h0M898 558h0M836 559h0M839 559h0M842 559h0M900 559h0M903 559h0M896 560h0M899 560h0M900 560h0M833 561h0M835 561h0M839 561h0M893 561h0M894 561h0M835 562h0M890 562h0M892 562h0M897 562h0M898 562h0M831 563h0M833 563h0M828 564h0M831 564h0M832 564h0M836 564h0M890 564h0M892 564h0M894 564h0M897 564h0M827 565h0M834 565h0M827 566h0M828 566h0M831 566h0M888 566h0M892 566h0M894 566h0M825 567h0M887 567h0M886 568h0M888 568h0M890 568h0M892 568h0M821 569h0M822 569h0M824 569h0M826 569h0M821 570h0M827 570h0M888 570h0M890 570h0M819 571h0M823 571h0M887 571h0M819 572h0M882 572h0M886 572h0M888 572h0M822 573h0M884 573h0M884 574h0M886 574h0M814 575h0M816 575h0M820 575h0M883 575h0M813 576h0M817 576h0M879 576h0M882 576h0M814 577h0M881 577h0M876 578h0M881 578h0M882 578h0M809 579h0M810 579h0M813 579h0M814 579h0M878 579h0M874 580h0M876 580h0M807 581h0M809 581h0M810 581h0M878 581h0M809 582h0M873 582h0M875 582h0M878 582h0M807 583h0M868 584h0M872 584h0M874 584h0M876 584h0M803 585h0M805 585h0M869 586h0M870 586h0M872 586h0M799 587h0M801 587h0M803 587h0M864 588h0M870 588h0M872 588h0M797 589h0M799 589h0M801 589h0M866 589h0M868 589h0M798 590h0M865 590h0M867 590h0M868 590h0M796 591h0M795 592h0M862 592h0M792 593h0M796 593h0M861 593h0M864 593h0M790 594h0M795 594h0M860 594h0M862 594h0M864 594h0M858 595h0M791 596h0M855 596h0M856 596h0M858 596h0M861 596h0M789 597h0M852 598h0M855 598h0M857 598h0M858 598h0M787 599h0M853 600h0M854 600h0M856 600h0M783 601h0M784 601h0M786 601h0M850 601h0M785 602h0M851 602h0M852 602h0M854 602h0M781 603h0M782 603h0M849 603h0M781 604h0M846 604h0M848 604h0M850 604h0M779 605h0M783 605h0M844 606h0M848 606h0M777 607h0M779 607h0M841 607h0M842 607h0M846 607h0M774 608h0M842 608h0M844 608h0M846 608h0M773 609h0M840 610h0M842 610h0M844 610h0M839 611h0M839 612h0M840 612h0M842 612h0M833 613h0M833 614h0M834 614h0M836 614h0M831 615h0M832 616h0M835 616h0M830 617h0M830 618h0M834 618h0M826 619h0M828 619h0M832 619h0M824 620h0M826 620h0M828 620h0M824 622h0M827 622h0M828 622h0M818 624h0M821 624h0M823 624h0M824 624h0M816 626h0M818 626h0M821 626h0M822 626h0M815 628h0M816 629h0M810 630h0M813 630h0M814 630h0M811 632h0M813 632h0M807 633h0M807 634h0M810 634h0M808 635h0M807 636h0M808 636h0M805 637h0M804 638h0M806 638h0"/>
<path stroke="#2d4bbc" d="M887 537h0M892 537h0M895 537h0M890 538h0M892 538h0M894 538h0M882 539h0M884 539h0M887 539h0M889 539h0M896 539h0M891 540h0M896 540h0M898 540h0M876 541h0M879 541h0M881 541h0M882 541h0M884 541h0M887 541h0M889 541h0M892 541h0M895 541h0M877 542h0M878 542h0M880 542h0M894 542h0M871 543h0M872 543h0M874 543h0M882 543h0M886 543h0M888 543h0M890 543h0M892 543h0M898 543h0M878 544h0M894 544h0M867 545h0M871 545h0M875 545h0M881 545h0M883 545h0M886 545h0M888 545h0M890 545h0M892 545h0M896 545h0M898 545h0M882 546h0M888 546h0M891 546h0M894 546h0M865 547h0M866 547h0M868 547h0M873 547h0M875 547h0M878 547h0M884 547h0M886 547h0M893 547h0M896 547h0M898 547h0M861 548h0M863 548h0M871 548h0M882 548h0M888 548h0M890 548h0M865 549h0M869 549h0M872 549h0M875 549h0M876 549h0M879 549h0M880 549h0M884 549h0M886 549h0M892 549h0M896 549h0M863 550h0M864 550h0M886 550h0M888 550h0M892 550h0M894 550h0M857 551h0M859 551h0M861 551h0M866 551h0M868 551h0M885 551h0M896 551h0M859 552h0M886 552h0M890 552h0M894 552h0M896 552h0M853 553h0M855 553h0M857 553h0M861 553h0M863 553h0M864 553h0M892 553h0M885 554h0M888 554h0M892 554h0M895 554h0M851 555h0M853 555h0M855 555h0M857 555h0M859 555h0M886 555h0M890 555h0M886 556h0M892 556h0M847 557h0M849 557h0M850 557h0M852 557h0M854 557h0M884 557h0M888 557h0M891 557h0M883 558h0M884 558h0M890 558h0M893 558h0M845 559h0M847 559h0M848 559h0M851 559h0M852 559h0M886 559h0M888 559h0M842 560h0M882 560h0M840 561h0M845 561h0M846 561h0M884 561h0M886 561h0M888 561h0M890 561h0M840 562h0M842 562h0M881 562h0M883 562h0M889 562h0M837 563h0M838 563h0M884 563h0M886 564h0M888 564h0M839 565h0M841 565h0M881 565h0M882 565h0M833 566h0M834 566h0M882 566h0M884 566h0M837 567h0M881 567h0M829 568h0M832 568h0M880 568h0M884 568h0M831 569h0M835 569h0M828 570h0M877 570h0M878 570h0M882 570h0M830 571h0M875 571h0M880 571h0M874 572h0M876 572h0M878 572h0M880 572h0M825 573h0M827 573h0M873 573h0M874 574h0M878 574h0M823 575h0M824 575h0M872 575h0M877 575h0M871 576h0M872 576h0M877 576h0M819 577h0M821 577h0M823 577h0M868 578h0M870 578h0M873 578h0M874 578h0M819 579h0M868 580h0M870 580h0M872 580h0M813 581h0M815 581h0M867 581h0M813 582h0M864 582h0M866 582h0M868 582h0M870 582h0M811 583h0M815 583h0M812 584h0M862 584h0M806 585h0M811 585h0M864 585h0M861 586h0M863 586h0M865 586h0M866 586h0M805 587h0M806 587h0M804 588h0M808 588h0M862 588h0M802 589h0M857 589h0M859 589h0M861 589h0M802 590h0M856 590h0M858 590h0M800 591h0M860 591h0M854 592h0M856 592h0M859 592h0M798 593h0M801 593h0M853 593h0M853 594h0M855 594h0M856 594h0M796 595h0M851 596h0M853 596h0M793 597h0M794 597h0M795 598h0M848 598h0M790 599h0M793 599h0M850 599h0M789 600h0M846 600h0M848 600h0M790 601h0M843 602h0M845 602h0M846 602h0M787 603h0M789 603h0M784 604h0M844 604h0M839 605h0M781 607h0M783 607h0M838 607h0M840 608h0M777 609h0M778 609h0M835 609h0M836 609h0M777 610h0M835 610h0M836 610h0M773 611h0M831 612h0M829 614h0M828 616h0M826 617h0M824 618h0M821 619h0M820 620h0M822 620h0M821 622h0M815 624h0M817 624h0M814 626h0M812 627h0M812 628h0M809 629h0M808 630h0M802 638h0"/>
<path stroke="#2e53c3" d="M872 550h0M871 551h0M874 551h0M876 551h0M880 551h0M882 551h0M868 552h0M867 553h0M871 553h0M872 553h0M875 553h0M876 553h0M878 553h0M880 553h0M883 553h0M862 554h0M876 554h0M878 554h0M861 555h0M865 555h0M866 555h0M869 555h0M870 555h0M875 555h0M872 556h0M874 556h0M876 556h0M882 556h0M857 557h0M859 557h0M860 557h0M863 557h0M864 557h0M866 557h0M868 557h0M870 557h0M863 558h0M854 559h0M859 559h0M860 559h0M865 559h0M867 559h0M868 559h0M870 559h0M873 559h0M875 559h0M876 559h0M878 559h0M881 559h0M859 560h0M861 560h0M868 560h0M880 560h0M849 561h0M851 561h0M853 561h0M855 561h0M857 561h0M871 561h0M872 561h0M876 561h0M848 562h0M851 562h0M856 562h0M874 562h0M878 562h0M845 563h0M847 563h0M853 563h0M870 563h0M872 563h0M876 563h0M844 564h0M849 564h0M850 564h0M870 564h0M874 564h0M878 564h0M846 565h0M873 565h0M842 566h0M870 566h0M872 566h0M874 566h0M876 566h0M838 567h0M841 567h0M845 567h0M843 568h0M874 568h0M837 569h0M838 569h0M841 569h0M872 569h0M833 570h0M834 570h0M872 570h0M837 571h0M868 571h0M871 571h0M868 572h0M829 573h0M830 573h0M832 573h0M866 573h0M829 574h0M866 574h0M868 574h0M870 574h0M827 575h0M831 575h0M864 576h0M866 576h0M869 576h0M825 577h0M826 577h0M823 578h0M862 578h0M820 579h0M866 579h0M860 580h0M863 580h0M819 581h0M821 581h0M864 581h0M818 582h0M859 582h0M817 583h0M860 583h0M860 584h0M815 585h0M858 585h0M856 586h0M809 587h0M811 587h0M813 587h0M854 587h0M858 587h0M806 589h0M855 589h0M804 591h0M807 591h0M850 591h0M852 591h0M854 591h0M851 592h0M803 593h0M799 594h0M849 594h0M850 594h0M800 595h0M802 595h0M848 596h0M797 597h0M847 597h0M844 598h0M846 599h0M843 600h0M793 601h0M794 601h0M791 602h0M793 602h0M839 602h0M841 602h0M840 604h0M787 605h0M789 605h0M837 605h0M788 606h0M834 606h0M836 606h0M785 607h0M781 609h0M778 610h0M780 610h0M829 610h0M830 610h0M832 610h0M774 611h0M828 612h0M773 613h0M826 613h0M827 614h0M823 617h0M819 618h0M822 618h0M816 620h0M819 620h0M815 622h0M813 623h0M812 624h0M808 626h0M810 626h0M807 628h0M804 634h0M802 637h0M801 638h0"/>
<path stroke="#2e5bc9" d="M862 561h0M864 561h0M866 561h0M864 562h0M855 563h0M859 563h0M861 563h0M862 563h0M866 563h0M869 563h0M866 564h0M853 565h0M854 565h0M857 565h0M858 565h0M861 565h0M863 565h0M864 565h0M869 565h0M866 566h0M847 567h0M849 567h0M851 567h0M853 567h0M854 567h0M857 567h0M858 567h0M860 567h0M862 567h0M868 567h0M845 568h0M850 568h0M852 568h0M856 568h0M858 568h0M865 568h0M866 568h0M868 568h0M847 569h0M854 569h0M860 569h0M850 570h0M859 570h0M865 570h0M866 570h0M839 571h0M841 571h0M843 571h0M844 571h0M846 571h0M848 571h0M855 571h0M861 571h0M862 571h0M836 572h0M841 572h0M862 572h0M838 573h0M842 573h0M857 573h0M859 573h0M837 574h0M841 574h0M864 574h0M833 575h0M835 575h0M856 575h0M859 575h0M862 575h0M829 577h0M831 577h0M833 577h0M858 577h0M860 577h0M862 577h0M831 578h0M825 579h0M826 579h0M856 579h0M860 579h0M857 580h0M823 581h0M854 581h0M858 581h0M856 582h0M820 583h0M823 583h0M853 583h0M854 583h0M820 584h0M852 584h0M854 584h0M856 584h0M816 585h0M819 585h0M815 586h0M850 586h0M817 587h0M853 587h0M848 588h0M850 588h0M852 588h0M810 589h0M812 589h0M809 591h0M849 591h0M807 592h0M846 592h0M843 593h0M848 593h0M846 594h0M844 595h0M844 596h0M799 597h0M801 597h0M842 597h0M799 598h0M797 599h0M838 599h0M840 599h0M837 600h0M838 600h0M840 600h0M796 601h0M837 602h0M794 603h0M834 603h0M834 604h0M791 605h0M832 605h0M830 606h0M832 606h0M786 607h0M786 608h0M828 608h0M830 608h0M783 609h0M825 611h0M826 611h0M824 613h0M823 615h0M820 616h0M818 617h0M817 618h0M814 620h0M810 624h0M806 626h0M804 630h0M802 633h0M802 634h0"/>
<path stroke="#2f63cf" d="M853 571h0M848 572h0M851 572h0M845 573h0M854 573h0M844 574h0M847 574h0M852 574h0M843 575h0M849 575h0M850 575h0M854 575h0M849 576h0M850 576h0M854 576h0M835 577h0M836 577h0M838 577h0M840 577h0M843 577h0M845 577h0M846 577h0M849 578h0M854 578h0M837 579h0M838 579h0M846 579h0M850 579h0M852 579h0M827 581h0M829 581h0M831 581h0M832 581h0M852 581h0M831 582h0M846 582h0M824 583h0M827 583h0M829 583h0M850 583h0M822 584h0M846 584h0M850 584h0M825 585h0M845 585h0M848 585h0M820 586h0M846 586h0M849 586h0M819 587h0M843 588h0M844 588h0M815 589h0M817 589h0M846 589h0M842 590h0M846 590h0M811 591h0M813 591h0M844 592h0M809 593h0M810 593h0M840 593h0M808 594h0M840 594h0M842 594h0M805 595h0M807 595h0M838 595h0M838 596h0M803 597h0M804 597h0M803 598h0M836 598h0M801 599h0M834 600h0M832 602h0M796 603h0M830 603h0M830 604h0M793 605h0M829 605h0M793 606h0M791 607h0M827 607h0M827 608h0M785 609h0M782 611h0M779 612h0M821 612h0M822 612h0M776 613h0M773 614h0M819 615h0M814 618h0M812 620h0M809 622h0M811 622h0M806 624h0M808 624h0M804 627h0M804 628h0M803 629h0"/>
<path stroke="#3169d1" d="M840 579h0M842 579h0M844 579h0M839 580h0M840 580h0M844 580h0M834 581h0M836 581h0M842 581h0M838 582h0M844 582h0M833 583h0M834 583h0M837 583h0M841 583h0M842 583h0M829 584h0M836 584h0M840 584h0M842 584h0M826 585h0M831 585h0M832 585h0M835 585h0M840 586h0M842 586h0M823 587h0M825 587h0M827 587h0M837 587h0M839 588h0M840 588h0M819 589h0M821 589h0M823 589h0M840 590h0M837 591h0M813 592h0M815 592h0M838 592h0M836 593h0M834 594h0M837 594h0M810 595h0M806 596h0M835 596h0M836 596h0M835 598h0M804 599h0M833 599h0M803 600h0M832 600h0M831 601h0M799 602h0M828 603h0M794 605h0M796 605h0M824 606h0M791 608h0M823 608h0M824 608h0M789 609h0M821 610h0M822 610h0M784 611h0M787 611h0M781 612h0M819 612h0M777 614h0M816 614h0M814 616h0M812 618h0M811 619h0M810 620h0M808 621h0M802 630h0M800 636h0"/>
<path stroke="#3370d3" d="M829 587h0M831 587h0M833 587h0M832 588h0M824 589h0M826 589h0M829 589h0M830 589h0M836 589h0M826 590h0M835 590h0M819 591h0M820 591h0M822 591h0M830 591h0M833 591h0M825 592h0M830 592h0M832 592h0M835 592h0M817 593h0M819 593h0M821 593h0M829 593h0M813 594h0M818 594h0M814 595h0M831 595h0M832 595h0M812 596h0M828 596h0M809 597h0M831 597h0M832 597h0M828 598h0M831 598h0M807 599h0M827 599h0M828 600h0M801 601h0M827 601h0M826 602h0M826 604h0M824 605h0M795 607h0M793 608h0M819 610h0M784 612h0M817 612h0M814 614h0M775 615h0M813 616h0M802 627h0M800 631h0M800 633h0M800 634h0M799 635h0M799 636h0"/>
<path stroke="#3576d4" d="M823 593h0M826 593h0M823 594h0M816 595h0M820 595h0M825 595h0M826 595h0M816 596h0M811 597h0M815 597h0M819 597h0M821 597h0M823 597h0M824 597h0M826 597h0M812 598h0M822 598h0M824 598h0M810 599h0M806 600h0M808 600h0M824 600h0M805 601h0M822 601h0M824 602h0M803 603h0M821 604h0M799 605h0M800 605h0M797 606h0M819 606h0M822 606h0M820 607h0M819 608h0M820 608h0M816 610h0M788 611h0M790 611h0M814 612h0M783 613h0M811 616h0M808 618h0M806 621h0M802 625h0M800 629h0"/>
<path stroke="#377dd6" d="M815 599h0M817 599h0M819 599h0M818 600h0M810 601h0M812 601h0M814 601h0M820 601h0M807 602h0M821 602h0M804 603h0M818 603h0M818 604h0M803 605h0M801 606h0M799 607h0M795 609h0M792 611h0M813 611h0M814 611h0M813 612h0M787 613h0M784 614h0M811 614h0M812 614h0M776 616h0M806 619h0M804 620h0M803 621h0M800 627h0M799 630h0M798 633h0"/>
<path stroke="#3983d8" d="M816 602h0M809 603h0M811 603h0M813 603h0M814 603h0M814 604h0M804 605h0M807 605h0M809 605h0M810 605h0M813 607h0M814 607h0M814 608h0M797 609h0M798 609h0M811 609h0M813 609h0M795 611h0M792 612h0M810 612h0M789 613h0M791 613h0M808 614h0M781 615h0M783 615h0M806 615h0M773 617h0M774 617h0M802 622h0"/>
<path stroke="#3b8ad9" d="M810 606h0M805 607h0M807 607h0M809 607h0M804 608h0M800 609h0M802 609h0M807 609h0M801 610h0M810 610h0M796 611h0M798 611h0M808 611h0M808 612h0M794 613h0M806 613h0M788 614h0M786 615h0M805 615h0M804 616h0M806 616h0M803 617h0"/>
<path stroke="#4292dc" d="M802 611h0M805 611h0M799 612h0M800 612h0M797 613h0M803 613h0M804 613h0M802 614h0M800 616h0M801 619h0M800 620h0M799 622h0M800 622h0M798 626h0M798 629h0"/>
<path stroke="#4b9bdf" d="M791 615h0M793 615h0M795 615h0M797 615h0M799 615h0M800 615h0M787 616h0M799 616h0M798 619h0M799 620h0"/>
<path stroke="#54a4e2" d="M778 617h0M797 617h0M798 624h0M797 625h0M796 632h0M796 635h0"/>
<path stroke="#5dade6" d="M791 617h0M792 617h0M794 617h0M796 619h0M796 620h0M797 629h0"/>
<path stroke="#68b6e9" d="M781 617h0M789 617h0M790 618h0M773 619h0M774 619h0M772 620h0M796 623h0"/>
<path stroke="#7ac1eb" d="M783 617h0M784 617h0M777 618h0M796 626h0"/>
<path stroke="#8ccbee" d="M779 618h0M783 618h0M792 619h0M793 621h0M794 635h0M794 636h0"/>
<path stroke="#9fd6f0" d="M785 619h0M789 619h0M794 622h0M794 632h0M792 638h0"/>
<path stroke="#b0def3" d="M794 625h0M794 628h0"/>
<path stroke="#c0e5f4" d="M780 619h0M787 619h0M794 626h0M794 630h0M793 636h0M791 638h0"/>
<path stroke="#dff2f8" d="M784 620h0M792 625h0"/>
<path stroke="#ebf6eb" d="M790 623h0M792 634h0M791 637h0"/>
<path stroke="#f6fadd" d="M777 621h0M779 621h0M787 622h0M792 627h0"/>
<path stroke="#fbfbce" d="M780 621h0M775 622h0M773 623h0M792 628h0M792 630h0M792 632h0M791 635h0"/>
<path stroke="#fcfbc0" d="M782 621h0M788 623h0M773 624h0M790 625h0"/>
<path stroke="#fdfcb1" d="M790 628h0"/>
<path stroke="#fffca3" d="M784 623h0M788 625h0M790 627h0M789 636h0"/>
<path stroke="#fffa9b" d="M788 626h0M790 631h0"/>
<path stroke="#fff795" d="M777 624h0"/>
<path stroke="#fff48f" d="M780 623h0M775 624h0"/>
<path stroke="#fff189" d="M778 624h0M786 625h0"/>
<path stroke="#ffee83" d="M789 629h0M787 637h0"/>
<path stroke="#ffec7e" d="M787 627h0M788 630h0M788 633h0"/>
<path stroke="#ffe978" d="M785 625h0M788 634h0"/>
<path stroke="#ffd045" d="M780 625h0M787 629h0M787 632h0"/>
<path stroke="#ffc734" d="M784 627h0"/>
<path stroke="#ffbe22" d="M773 627h0"/>
<path stroke="#ffb510" d="M775 627h0"/>
<path stroke="#ffa908" d="M778 626h0M786 634h0"/>
<path stroke="#ff9b05" d="M782 627h0M784 637h0"/>
<path stroke="#ff8e02" d="M777 627h0"/>
<path stroke="#ff8000" d="M780 627h0M784 629h0"/>
<path stroke="#fb4f00" d="M783 629h0M784 630h0"/>
<path stroke="#fa3e00" d="M775 628h0M784 632h0M784 634h0"/>
<path stroke="#f63100" d="M781 628h0"/>
<path stroke="#f22400" d="M776 629h0M782 638h0"/>
<path stroke="#ee1600" d="M778 629h0M782 630h0M783 636h0"/>
<path stroke="#df0500" d="M776 630h0M780 630h0M773 631h0M782 632h0"/>
<path stroke="#d90100" d="M782 634h0M780 637h0"/>
<path stroke="#d10000" d="M775 631h0M773 632h0"/>
<path stroke="#c80000" d="M779 631h0M780 633h0M778 638h0"/>
<path stroke="#bf0000" d="M780 635h0"/>
<path stroke="#b60000" d="M778 632h0M777 633h0M773 635h0M773 638h0"/>
<path stroke="#ad0000" d="M775 633h0M775 634h0M778 634h0M776 635h0M774 636h0M777 636h0M778 636h0M776 638h0"/>
</g>
</g>
<line x1="386.2" y1="319.3" x2="537.8" y2="173.6" stroke="#7c7c7c" stroke-opacity="0.9" stroke-width="0.8" stroke-dasharray="1.8 1"/>
<polyline points="386.2,312.5 522.6,227.0" fill="none" stroke="#c22c3a" stroke-width="1"/>
<text x="386.5" y="327.7" font-size="8" stroke="#111" stroke-width="0.12" text-anchor="middle">0</text>
<text x="383.6" y="321.9" font-size="8" stroke="#111" stroke-width="0.12" text-anchor="end">0</text>
<text x="411.8" y="327.7" font-size="8" stroke="#111" stroke-width="0.12" text-anchor="middle">5</text>
<text x="383.6" y="297.6" font-size="8" stroke="#111" stroke-width="0.12" text-anchor="end">5</text>
<text x="437.0" y="327.7" font-size="8" stroke="#111" stroke-width="0.12" text-anchor="middle">10</text>
<text x="383.6" y="273.3" font-size="8" stroke="#111" stroke-width="0.12" text-anchor="end">10</text>
<text x="462.3" y="327.7" font-size="8" stroke="#111" stroke-width="0.12" text-anchor="middle">15</text>
<text x="383.6" y="249.0" font-size="8" stroke="#111" stroke-width="0.12" text-anchor="end">15</text>
<text x="487.6" y="327.7" font-size="8" stroke="#111" stroke-width="0.12" text-anchor="middle">20</text>
<text x="383.6" y="224.8" font-size="8" stroke="#111" stroke-width="0.12" text-anchor="end">20</text>
<text x="512.8" y="327.7" font-size="8" stroke="#111" stroke-width="0.12" text-anchor="middle">25</text>
<text x="383.6" y="200.5" font-size="8" stroke="#111" stroke-width="0.12" text-anchor="end">25</text>
<text x="538.1" y="327.7" font-size="8" stroke="#111" stroke-width="0.12" text-anchor="middle">30</text>
<text x="383.6" y="176.2" font-size="8" stroke="#111" stroke-width="0.12" text-anchor="end">30</text>
<text x="391.3" y="182.4" font-size="11.8" stroke="#111" stroke-width="0.15">R²=0.64</text>
<text x="391.3" y="193.6" font-size="11.8" stroke="#111" stroke-width="0.15">RMSE=2.45</text>
<text x="391.3" y="204.7" font-size="11.8" stroke="#111" stroke-width="0.15">MAE=1.67</text>
<text x="391.3" y="215.9" font-size="11.8" stroke="#111" stroke-width="0.15">IOA=0.88</text>
<text x="391.3" y="227.1" font-size="11.8" stroke="#111" stroke-width="0.15">slope=0.65</text>
<text x="490.1" y="314.6" font-size="13.1" font-weight="bold" fill="#161616">GOSIF</text>
</g>
<g>
<clipPath id="cp7"><rect x="47.7" y="333.4" width="152.6" height="146.7"/></clipPath>
<rect x="48.2" y="333.9" width="151.6" height="145.7" fill="none" stroke="#a2a2a2" stroke-width="0.9"/>
<path d="M48.2 480.1v1.6M47.7 479.6h-1.6M73.5 480.1v1.6M47.7 455.3h-1.6M98.7 480.1v1.6M47.7 431.0h-1.6M124.0 480.1v1.6M47.7 406.8h-1.6M149.3 480.1v1.6M47.7 382.5h-1.6M174.5 480.1v1.6M47.7 358.2h-1.6M199.8 480.1v1.6M47.7 333.9h-1.6" stroke="#a2a2a2" stroke-width="0.7" fill="none"/>
<g clip-path="url(#cp7)">
<g transform="scale(.5)" fill="none" stroke-width="4.6" stroke-linecap="round">
<path stroke="#2b2fa5" d="M168 831h0M286 839h0M302 848h0M291 851h0M301 851h0M292 853h0M303 854h0M305 855h0M298 856h0M305 856h0M306 856h0M292 857h0M311 859h0M299 860h0M306 864h0M107 866h0M301 866h0M302 867h0M317 868h0M290 869h0M302 869h0M308 871h0M330 871h0M358 872h0M295 873h0M296 873h0M347 873h0M104 876h0M305 876h0M337 876h0M310 877h0M311 878h0M284 879h0M363 881h0M330 883h0M319 884h0M290 885h0M315 886h0M317 886h0M303 887h0M303 888h0M306 888h0M315 890h0M338 890h0M280 891h0M311 891h0M357 892h0M280 894h0M279 895h0M318 895h0M326 895h0M289 896h0M295 896h0M284 898h0M288 898h0M297 898h0M302 898h0M333 898h0M278 899h0M306 899h0M283 900h0M327 900h0M320 901h0M283 902h0M286 903h0M271 905h0M276 905h0M317 906h0M272 907h0M275 909h0M224 958h0"/>
<path stroke="#2c3baf" d="M247 828h0M207 832h0M274 833h0M258 834h0M250 835h0M260 836h0M277 838h0M258 842h0M268 843h0M267 844h0M268 844h0M287 844h0M264 848h0M282 848h0M278 850h0M268 852h0M282 853h0M265 854h0M277 854h0M266 855h0M275 855h0M289 855h0M155 856h0M284 856h0M271 857h0M149 859h0M275 859h0M287 859h0M278 861h0M289 861h0M139 862h0M266 863h0M279 863h0M124 864h0M143 864h0M151 864h0M269 864h0M279 864h0M280 864h0M146 865h0M278 866h0M267 867h0M281 867h0M146 868h0M267 869h0M270 869h0M278 869h0M116 870h0M137 870h0M268 870h0M125 871h0M127 871h0M134 871h0M281 871h0M266 872h0M268 872h0M133 873h0M128 874h0M282 874h0M271 875h0M122 876h0M130 876h0M267 876h0M283 876h0M269 877h0M270 877h0M120 878h0M128 878h0M118 879h0M127 879h0M274 879h0M126 880h0M268 880h0M272 880h0M107 881h0M117 881h0M123 881h0M264 881h0M271 881h0M277 881h0M112 882h0M121 882h0M266 882h0M116 883h0M268 883h0M117 884h0M120 884h0M279 884h0M101 885h0M104 885h0M111 885h0M101 886h0M109 886h0M112 886h0M116 886h0M276 886h0M261 888h0M274 888h0M102 889h0M109 889h0M111 889h0M263 889h0M264 889h0M105 890h0M111 890h0M262 890h0M272 891h0M99 892h0M108 892h0M105 893h0M259 893h0M265 893h0M99 894h0M103 895h0M105 895h0M271 895h0M274 895h0M100 896h0M100 898h0M102 898h0M258 898h0M267 898h0M273 898h0M97 899h0M98 899h0M255 900h0M270 900h0M272 900h0M99 901h0M253 901h0M258 903h0M261 905h0M253 906h0M263 906h0M253 910h0M259 910h0M247 914h0M253 914h0M247 916h0M240 917h0M253 918h0M257 920h0M245 922h0M234 923h0M235 924h0M237 926h0M241 927h0M231 929h0M223 935h0M227 937h0M205 944h0M210 945h0"/>
<path stroke="#2d43b5" d="M238 843h0M249 844h0M250 845h0M204 846h0M255 846h0M190 847h0M203 847h0M211 847h0M242 847h0M256 848h0M243 849h0M247 850h0M259 850h0M180 851h0M197 851h0M249 851h0M254 851h0M249 852h0M176 853h0M187 855h0M250 855h0M255 855h0M179 856h0M249 856h0M257 857h0M259 857h0M266 858h0M253 859h0M254 859h0M257 859h0M259 859h0M261 859h0M263 859h0M174 860h0M254 860h0M257 860h0M258 860h0M261 860h0M163 861h0M167 861h0M253 861h0M263 861h0M253 862h0M258 862h0M260 862h0M262 862h0M163 863h0M254 863h0M256 863h0M254 864h0M157 865h0M256 865h0M258 865h0M260 865h0M262 865h0M264 865h0M158 866h0M257 866h0M260 866h0M152 867h0M156 867h0M160 867h0M162 867h0M254 867h0M258 867h0M155 868h0M157 868h0M258 868h0M264 868h0M160 869h0M255 869h0M262 869h0M147 870h0M260 870h0M262 870h0M266 870h0M156 871h0M254 871h0M256 871h0M259 871h0M265 871h0M151 873h0M254 873h0M256 873h0M258 873h0M261 873h0M264 873h0M254 874h0M256 874h0M264 874h0M137 875h0M142 875h0M258 875h0M134 876h0M141 876h0M256 876h0M258 876h0M264 876h0M132 877h0M139 877h0M143 877h0M144 877h0M260 877h0M135 878h0M140 878h0M252 878h0M255 878h0M258 878h0M136 879h0M139 879h0M143 879h0M257 879h0M260 879h0M264 879h0M141 880h0M258 880h0M260 880h0M128 881h0M130 881h0M132 881h0M134 881h0M136 881h0M139 881h0M252 881h0M254 881h0M256 881h0M262 881h0M129 882h0M133 882h0M135 882h0M252 882h0M260 882h0M262 882h0M125 883h0M127 883h0M130 883h0M254 883h0M257 883h0M258 883h0M124 884h0M130 884h0M252 884h0M258 884h0M122 885h0M126 885h0M129 885h0M133 885h0M134 885h0M254 885h0M256 885h0M129 886h0M252 886h0M254 886h0M258 886h0M121 887h0M122 887h0M125 887h0M127 887h0M251 887h0M260 887h0M114 888h0M121 888h0M253 888h0M257 888h0M259 888h0M116 889h0M118 889h0M123 889h0M124 889h0M126 889h0M250 889h0M123 890h0M252 890h0M113 891h0M115 891h0M117 891h0M119 891h0M120 891h0M125 891h0M119 892h0M252 892h0M257 892h0M110 893h0M112 893h0M115 893h0M116 893h0M121 893h0M122 893h0M247 894h0M248 894h0M106 895h0M109 895h0M111 895h0M114 895h0M117 895h0M107 896h0M247 896h0M108 897h0M111 897h0M112 897h0M116 897h0M104 898h0M107 898h0M245 898h0M109 899h0M111 899h0M113 899h0M109 900h0M246 900h0M251 900h0M101 901h0M102 901h0M107 901h0M110 901h0M99 902h0M103 902h0M242 902h0M244 902h0M101 903h0M105 903h0M107 903h0M109 903h0M247 903h0M107 904h0M238 904h0M243 904h0M245 904h0M249 904h0M97 905h0M98 905h0M101 905h0M102 905h0M105 905h0M97 906h0M101 906h0M240 906h0M243 906h0M99 907h0M103 907h0M99 908h0M100 908h0M97 909h0M102 909h0M239 909h0M98 911h0M97 912h0M232 912h0M233 914h0M232 916h0M236 916h0M225 918h0M229 918h0M221 921h0M224 923h0M219 925h0M225 925h0M226 925h0M213 928h0M215 930h0M216 931h0M206 932h0M205 935h0M201 936h0M206 936h0M209 937h0M204 938h0M209 938h0M204 940h0M194 942h0M201 943h0M187 947h0M183 949h0M185 949h0M197 949h0M182 950h0M186 951h0"/>
<path stroke="#2d4bbc" d="M222 850h0M225 850h0M237 850h0M238 850h0M208 851h0M215 853h0M227 853h0M236 853h0M242 853h0M222 854h0M236 854h0M229 855h0M232 855h0M239 855h0M200 856h0M243 856h0M237 857h0M245 857h0M230 858h0M235 858h0M238 858h0M179 859h0M233 859h0M240 859h0M242 859h0M242 860h0M238 861h0M240 861h0M244 861h0M250 861h0M178 862h0M242 862h0M185 863h0M239 863h0M241 863h0M244 863h0M250 863h0M176 864h0M239 864h0M243 864h0M175 865h0M244 865h0M246 865h0M252 865h0M177 866h0M178 866h0M242 866h0M246 866h0M250 866h0M252 866h0M169 867h0M171 867h0M173 867h0M174 867h0M241 867h0M245 867h0M248 867h0M163 868h0M171 868h0M241 868h0M249 868h0M165 869h0M167 869h0M242 869h0M244 869h0M247 869h0M251 869h0M252 869h0M162 870h0M165 870h0M166 870h0M170 870h0M249 870h0M252 870h0M160 871h0M242 871h0M245 871h0M246 871h0M251 871h0M159 872h0M161 872h0M163 872h0M250 872h0M155 873h0M242 873h0M244 873h0M246 873h0M252 873h0M248 874h0M252 874h0M151 875h0M154 875h0M156 875h0M161 875h0M250 875h0M153 876h0M155 876h0M242 876h0M248 876h0M251 876h0M253 876h0M148 877h0M150 877h0M157 877h0M244 877h0M247 877h0M154 878h0M246 878h0M248 878h0M145 879h0M147 879h0M150 879h0M153 879h0M242 879h0M250 879h0M143 880h0M243 880h0M144 881h0M147 881h0M149 881h0M245 881h0M246 881h0M248 881h0M251 881h0M141 882h0M145 882h0M245 882h0M249 882h0M251 882h0M138 883h0M143 883h0M146 883h0M242 883h0M139 884h0M143 884h0M242 884h0M244 884h0M246 884h0M250 884h0M137 885h0M141 885h0M248 885h0M246 886h0M248 886h0M131 887h0M133 887h0M135 887h0M137 887h0M139 887h0M141 887h0M241 887h0M242 887h0M244 887h0M137 888h0M240 888h0M242 888h0M247 888h0M129 889h0M131 889h0M132 889h0M134 889h0M248 889h0M131 890h0M135 890h0M240 890h0M242 890h0M244 890h0M127 891h0M132 891h0M239 891h0M246 891h0M238 892h0M244 892h0M246 892h0M128 893h0M130 893h0M132 893h0M240 893h0M242 893h0M123 894h0M239 894h0M241 894h0M242 894h0M244 894h0M119 895h0M121 895h0M124 895h0M126 895h0M129 895h0M236 895h0M123 896h0M124 896h0M236 896h0M238 896h0M244 896h0M119 897h0M120 897h0M123 898h0M234 898h0M236 898h0M239 898h0M242 898h0M114 899h0M117 899h0M119 899h0M120 899h0M241 899h0M121 900h0M234 900h0M236 900h0M113 901h0M115 901h0M117 901h0M119 901h0M111 902h0M116 902h0M236 902h0M238 902h0M113 903h0M114 903h0M232 903h0M234 903h0M109 904h0M110 904h0M113 904h0M229 904h0M232 904h0M236 904h0M109 906h0M111 906h0M227 906h0M229 906h0M231 906h0M105 907h0M107 907h0M106 908h0M110 908h0M226 908h0M104 909h0M108 909h0M228 909h0M230 910h0M101 911h0M102 911h0M104 911h0M107 911h0M224 911h0M106 912h0M228 912h0M101 913h0M104 913h0M97 915h0M98 915h0M102 915h0M220 915h0M223 915h0M218 916h0M221 916h0M225 916h0M97 917h0M99 917h0M216 917h0M97 918h0M215 919h0M218 919h0M218 920h0M216 922h0M210 923h0M208 924h0M210 925h0M209 926h0M205 928h0M208 928h0M211 928h0M203 929h0M199 931h0M200 931h0M196 933h0M194 935h0M192 937h0M199 937h0M193 938h0M187 940h0M189 940h0M191 940h0M183 944h0M183 947h0M179 948h0M173 949h0M172 951h0M164 956h0M160 957h0M159 958h0M162 958h0M157 959h0"/>
<path stroke="#2e53c3" d="M211 856h0M222 856h0M207 857h0M213 857h0M217 857h0M224 857h0M200 858h0M208 858h0M202 859h0M210 859h0M212 859h0M218 859h0M226 859h0M228 859h0M200 860h0M203 860h0M206 860h0M190 861h0M192 861h0M197 861h0M208 861h0M218 861h0M225 861h0M228 861h0M230 861h0M235 861h0M198 862h0M203 862h0M232 862h0M236 862h0M196 863h0M200 863h0M205 863h0M206 863h0M215 863h0M216 863h0M218 863h0M221 863h0M224 863h0M226 863h0M229 863h0M230 863h0M235 863h0M196 864h0M200 864h0M218 864h0M222 864h0M235 864h0M180 865h0M182 865h0M189 865h0M190 865h0M192 865h0M195 865h0M224 865h0M226 865h0M228 865h0M231 865h0M232 865h0M237 865h0M182 866h0M187 866h0M189 866h0M239 866h0M180 867h0M185 867h0M226 867h0M228 867h0M230 867h0M233 867h0M234 867h0M237 867h0M179 868h0M185 868h0M232 868h0M172 869h0M177 869h0M180 869h0M234 869h0M239 869h0M240 870h0M177 871h0M179 871h0M233 871h0M235 871h0M237 871h0M169 872h0M171 872h0M172 872h0M238 872h0M165 873h0M167 873h0M174 873h0M232 873h0M234 873h0M236 873h0M240 873h0M166 874h0M170 874h0M232 874h0M242 874h0M162 875h0M165 875h0M168 875h0M234 875h0M236 875h0M241 875h0M167 876h0M234 876h0M158 877h0M161 877h0M162 877h0M232 877h0M236 877h0M238 877h0M240 877h0M159 878h0M163 878h0M237 878h0M239 878h0M156 879h0M161 879h0M235 879h0M240 879h0M232 880h0M234 880h0M237 880h0M239 880h0M151 881h0M153 881h0M154 881h0M157 881h0M158 881h0M241 881h0M233 882h0M234 882h0M149 883h0M150 883h0M153 883h0M236 883h0M239 883h0M240 883h0M234 884h0M236 884h0M238 884h0M240 884h0M144 885h0M149 885h0M151 885h0M232 885h0M143 886h0M147 886h0M149 886h0M232 886h0M235 886h0M236 886h0M238 886h0M145 887h0M141 888h0M231 888h0M232 888h0M234 888h0M237 888h0M139 889h0M143 889h0M230 890h0M234 890h0M237 890h0M137 891h0M139 891h0M141 891h0M232 891h0M140 892h0M229 892h0M230 892h0M232 892h0M234 892h0M135 893h0M137 893h0M236 893h0M135 894h0M228 894h0M230 894h0M131 895h0M133 895h0M232 895h0M235 895h0M131 896h0M230 896h0M233 896h0M234 896h0M129 897h0M226 897h0M228 897h0M129 898h0M233 898h0M125 899h0M127 899h0M231 899h0M127 900h0M224 900h0M227 900h0M230 900h0M232 900h0M123 901h0M125 901h0M228 901h0M121 902h0M224 902h0M119 903h0M226 903h0M229 903h0M115 905h0M116 905h0M222 905h0M225 905h0M226 905h0M115 906h0M119 906h0M220 906h0M222 906h0M224 906h0M113 907h0M117 907h0M115 908h0M217 908h0M218 908h0M220 908h0M222 908h0M113 909h0M109 910h0M111 910h0M113 910h0M218 910h0M222 910h0M215 911h0M216 911h0M109 912h0M111 912h0M214 912h0M216 912h0M219 912h0M108 914h0M212 914h0M105 915h0M107 915h0M215 915h0M105 916h0M211 916h0M214 916h0M101 917h0M103 917h0M207 918h0M208 918h0M212 918h0M99 919h0M100 919h0M103 919h0M100 920h0M210 920h0M212 920h0M97 921h0M98 921h0M206 921h0M209 921h0M97 922h0M99 922h0M204 922h0M202 923h0M208 923h0M97 924h0M201 925h0M204 925h0M202 926h0M199 928h0M200 928h0M194 930h0M192 932h0M195 933h0M187 936h0M184 938h0M187 939h0M181 940h0M177 941h0M182 941h0M176 942h0M178 942h0M177 944h0M177 946h0M171 947h0M172 947h0M169 948h0M171 949h0M169 950h0M163 952h0M161 954h0M157 955h0M156 956h0M158 957h0M152 958h0M154 958h0"/>
<path stroke="#2e5bc9" d="M212 864h0M199 865h0M205 865h0M207 865h0M209 865h0M210 865h0M215 865h0M220 865h0M200 866h0M212 866h0M215 866h0M193 867h0M197 867h0M199 867h0M202 867h0M205 867h0M206 867h0M209 867h0M210 867h0M216 867h0M219 867h0M222 867h0M224 867h0M191 868h0M192 868h0M200 868h0M202 868h0M212 868h0M187 869h0M189 869h0M196 869h0M207 869h0M208 869h0M210 869h0M215 869h0M216 869h0M218 869h0M221 869h0M222 869h0M225 869h0M227 869h0M204 870h0M213 870h0M214 870h0M224 870h0M226 870h0M180 871h0M187 871h0M189 871h0M190 871h0M193 871h0M194 871h0M219 871h0M221 871h0M222 871h0M229 871h0M178 872h0M181 872h0M188 872h0M192 872h0M176 873h0M183 873h0M185 873h0M187 873h0M217 873h0M218 873h0M221 873h0M224 873h0M226 873h0M228 873h0M231 873h0M172 874h0M220 874h0M176 875h0M178 875h0M222 875h0M224 875h0M228 875h0M230 875h0M176 876h0M223 876h0M226 876h0M168 877h0M170 877h0M173 877h0M175 877h0M221 877h0M228 877h0M230 877h0M165 878h0M225 878h0M228 878h0M232 878h0M166 879h0M169 879h0M170 879h0M222 879h0M226 879h0M230 879h0M169 880h0M224 880h0M226 880h0M228 880h0M231 880h0M161 881h0M162 881h0M165 881h0M166 881h0M158 882h0M225 882h0M156 883h0M161 883h0M162 883h0M226 883h0M228 883h0M231 883h0M157 884h0M228 884h0M230 884h0M152 885h0M159 885h0M224 885h0M226 885h0M153 886h0M223 886h0M227 886h0M151 887h0M155 887h0M228 887h0M230 887h0M146 888h0M222 888h0M225 888h0M226 888h0M228 888h0M145 889h0M148 889h0M149 890h0M222 890h0M225 890h0M226 891h0M228 891h0M143 892h0M220 893h0M222 893h0M224 893h0M226 893h0M222 894h0M136 895h0M139 895h0M140 895h0M221 895h0M224 895h0M133 897h0M135 897h0M136 897h0M220 897h0M224 897h0M133 898h0M135 898h0M218 898h0M221 898h0M222 898h0M224 898h0M130 899h0M129 900h0M132 900h0M221 900h0M223 900h0M131 901h0M218 902h0M221 902h0M222 902h0M124 903h0M126 903h0M217 903h0M218 904h0M220 904h0M121 905h0M122 905h0M124 905h0M214 905h0M218 906h0M214 907h0M216 907h0M210 908h0M214 908h0M117 909h0M213 909h0M114 911h0M116 911h0M210 911h0M212 911h0M212 912h0M113 913h0M209 913h0M210 913h0M208 914h0M111 915h0M205 915h0M206 915h0M210 915h0M207 916h0M208 916h0M106 917h0M108 917h0M202 917h0M204 917h0M203 918h0M204 918h0M105 919h0M203 920h0M204 920h0M103 921h0M199 921h0M198 922h0M101 923h0M197 924h0M99 925h0M194 925h0M192 926h0M194 926h0M97 927h0M189 928h0M194 928h0M190 929h0M193 929h0M188 931h0M189 932h0M187 934h0M179 936h0M180 936h0M184 936h0M182 937h0M175 940h0M178 940h0M172 943h0M170 944h0M169 945h0M165 946h0M168 946h0M166 947h0M162 948h0M165 948h0M162 950h0M160 951h0M161 952h0M154 954h0M158 954h0M153 956h0M154 956h0M146 958h0M149 958h0"/>
<path stroke="#2f63cf" d="M196 871h0M199 871h0M200 871h0M203 871h0M206 871h0M196 872h0M204 872h0M191 873h0M195 873h0M198 873h0M200 873h0M202 873h0M207 873h0M208 873h0M210 873h0M212 873h0M214 873h0M187 874h0M199 874h0M213 874h0M216 874h0M184 875h0M189 875h0M191 875h0M193 875h0M194 875h0M201 875h0M202 875h0M204 875h0M207 875h0M208 875h0M214 875h0M218 875h0M181 876h0M189 876h0M195 876h0M198 876h0M212 876h0M218 876h0M178 877h0M185 877h0M187 877h0M190 877h0M192 877h0M204 877h0M207 877h0M209 877h0M210 877h0M214 877h0M217 877h0M210 878h0M212 878h0M218 878h0M220 878h0M173 879h0M175 879h0M176 879h0M179 879h0M180 879h0M216 879h0M175 880h0M211 880h0M212 880h0M214 880h0M218 880h0M222 880h0M173 881h0M216 881h0M220 881h0M212 882h0M214 882h0M217 882h0M167 883h0M169 883h0M170 883h0M172 883h0M218 883h0M220 883h0M220 884h0M222 884h0M162 885h0M164 885h0M214 885h0M218 885h0M216 886h0M218 886h0M157 887h0M158 887h0M161 887h0M214 887h0M220 887h0M155 888h0M158 888h0M217 888h0M218 888h0M220 888h0M153 889h0M156 889h0M215 889h0M151 890h0M218 890h0M220 890h0M153 891h0M216 891h0M150 892h0M215 892h0M216 892h0M145 893h0M146 893h0M149 893h0M218 893h0M146 894h0M214 894h0M219 894h0M143 895h0M144 895h0M216 895h0M214 896h0M219 896h0M139 897h0M141 897h0M143 897h0M212 897h0M216 897h0M138 898h0M140 898h0M212 898h0M216 898h0M137 899h0M215 899h0M135 900h0M213 900h0M215 900h0M216 900h0M136 901h0M209 902h0M213 902h0M214 902h0M129 903h0M131 903h0M210 903h0M129 904h0M210 904h0M127 905h0M208 905h0M125 906h0M127 906h0M209 906h0M210 906h0M122 907h0M207 908h0M121 909h0M208 909h0M203 910h0M206 910h0M209 910h0M118 911h0M205 911h0M203 912h0M115 913h0M117 913h0M204 913h0M206 913h0M116 914h0M200 914h0M202 914h0M113 915h0M114 915h0M113 916h0M200 916h0M111 917h0M198 917h0M111 918h0M200 918h0M107 919h0M109 919h0M196 919h0M198 919h0M194 920h0M105 921h0M107 921h0M192 921h0M192 922h0M194 922h0M196 922h0M103 923h0M104 923h0M193 924h0M101 925h0M188 925h0M191 925h0M98 927h0M187 927h0M189 927h0M190 927h0M185 928h0M186 928h0M97 930h0M182 930h0M184 930h0M186 930h0M181 932h0M182 932h0M180 934h0M177 935h0M178 935h0M176 936h0M174 937h0M172 938h0M174 938h0M176 938h0M171 940h0M166 942h0M168 943h0M163 944h0M164 944h0M166 944h0M162 946h0M158 948h0M157 951h0M153 952h0M154 952h0M150 954h0M152 954h0M147 955h0M148 956h0M147 957h0M145 958h0M140 959h0M143 959h0"/>
<path stroke="#3169d1" d="M196 877h0M201 877h0M202 877h0M196 878h0M202 878h0M206 878h0M183 879h0M185 879h0M187 879h0M188 879h0M190 879h0M192 879h0M195 879h0M198 879h0M200 879h0M205 879h0M194 880h0M177 881h0M179 881h0M180 881h0M182 881h0M185 881h0M187 881h0M188 881h0M191 881h0M193 881h0M197 881h0M199 881h0M200 881h0M202 881h0M204 881h0M207 881h0M208 881h0M182 882h0M191 882h0M192 882h0M211 882h0M175 883h0M176 883h0M178 883h0M181 883h0M196 883h0M198 883h0M200 883h0M203 883h0M205 883h0M206 883h0M178 884h0M205 884h0M210 884h0M167 885h0M168 885h0M171 885h0M172 885h0M175 885h0M207 885h0M208 885h0M212 885h0M175 886h0M204 886h0M210 886h0M162 887h0M164 887h0M167 887h0M168 887h0M206 887h0M208 887h0M213 887h0M161 888h0M208 888h0M163 889h0M164 889h0M207 889h0M210 889h0M212 889h0M208 890h0M210 890h0M212 890h0M214 890h0M155 891h0M157 891h0M158 891h0M206 891h0M155 892h0M208 892h0M210 892h0M152 893h0M206 893h0M209 894h0M210 894h0M213 894h0M148 895h0M151 895h0M152 895h0M210 896h0M145 897h0M147 897h0M208 897h0M147 898h0M206 898h0M210 898h0M204 899h0M209 899h0M141 900h0M206 900h0M209 900h0M210 900h0M138 901h0M204 901h0M135 902h0M137 902h0M203 902h0M206 902h0M204 903h0M131 905h0M132 905h0M204 905h0M206 905h0M130 906h0M206 906h0M128 907h0M204 907h0M202 908h0M205 908h0M123 909h0M200 909h0M121 911h0M122 911h0M198 911h0M200 911h0M200 912h0M118 913h0M196 914h0M198 914h0M194 915h0M115 916h0M192 917h0M194 917h0M192 918h0M194 918h0M109 921h0M190 921h0M188 922h0M186 924h0M103 925h0M184 925h0M184 926h0M100 927h0M182 927h0M181 928h0M183 928h0M99 929h0M178 930h0M181 930h0M177 932h0M179 932h0M172 934h0M174 935h0M172 937h0M168 938h0M166 940h0M168 940h0M164 941h0M163 942h0M164 942h0M161 943h0M160 945h0M157 948h0M154 950h0M152 951h0M148 952h0M150 952h0M146 953h0M145 955h0M144 956h0M138 958h0"/>
<path stroke="#3370d3" d="M184 883h0M187 883h0M188 883h0M195 883h0M193 884h0M194 884h0M200 884h0M177 885h0M180 885h0M183 885h0M185 885h0M186 885h0M189 885h0M191 885h0M197 885h0M199 885h0M184 886h0M171 887h0M173 887h0M176 887h0M179 887h0M180 887h0M183 887h0M187 887h0M188 887h0M190 887h0M192 887h0M194 887h0M197 887h0M199 887h0M200 887h0M202 887h0M167 888h0M168 888h0M171 888h0M184 888h0M195 888h0M196 888h0M203 888h0M173 889h0M175 889h0M199 889h0M201 889h0M204 889h0M164 890h0M166 890h0M199 890h0M201 890h0M202 890h0M160 891h0M162 891h0M196 891h0M199 892h0M204 892h0M157 893h0M159 893h0M160 893h0M162 893h0M200 893h0M203 893h0M155 894h0M202 894h0M204 894h0M157 895h0M198 895h0M200 895h0M200 896h0M149 897h0M151 897h0M202 897h0M204 897h0M200 898h0M202 898h0M145 899h0M198 899h0M198 900h0M200 900h0M202 900h0M143 901h0M141 902h0M198 902h0M201 902h0M139 903h0M139 904h0M201 904h0M202 904h0M135 905h0M136 905h0M197 905h0M197 906h0M198 906h0M200 907h0M194 908h0M196 908h0M127 909h0M129 909h0M196 910h0M125 911h0M193 911h0M192 912h0M194 912h0M196 912h0M121 913h0M122 913h0M192 914h0M119 915h0M189 915h0M190 915h0M189 916h0M190 916h0M117 917h0M115 918h0M188 918h0M190 918h0M113 920h0M185 920h0M186 920h0M188 920h0M111 921h0M186 922h0M107 923h0M108 923h0M107 924h0M183 924h0M105 925h0M181 926h0M103 927h0M177 928h0M178 928h0M176 930h0M98 931h0M173 931h0M172 932h0M96 933h0M171 934h0M169 935h0M168 936h0M171 936h0M166 939h0M156 944h0M159 944h0M155 946h0M154 948h0M152 949h0M151 950h0M142 954h0M141 956h0M138 957h0M135 958h0"/>
<path stroke="#3576d4" d="M176 889h0M179 889h0M181 889h0M187 889h0M188 889h0M190 889h0M192 889h0M172 890h0M176 890h0M171 891h0M174 891h0M181 891h0M182 891h0M185 891h0M186 891h0M188 891h0M190 891h0M194 891h0M165 892h0M170 892h0M192 892h0M168 893h0M173 893h0M174 893h0M186 893h0M189 893h0M191 893h0M194 893h0M196 893h0M171 894h0M191 894h0M192 894h0M194 894h0M159 895h0M161 895h0M163 895h0M165 895h0M188 895h0M196 895h0M194 896h0M196 896h0M153 897h0M155 897h0M159 897h0M198 897h0M153 898h0M156 898h0M192 898h0M195 898h0M149 899h0M151 899h0M147 900h0M151 900h0M196 900h0M145 901h0M149 901h0M192 901h0M194 901h0M145 902h0M146 902h0M192 902h0M196 902h0M143 903h0M194 903h0M191 904h0M194 904h0M140 905h0M193 905h0M190 906h0M192 906h0M194 906h0M135 907h0M190 908h0M193 908h0M131 909h0M133 909h0M188 910h0M128 911h0M191 911h0M188 912h0M190 912h0M123 914h0M121 915h0M187 915h0M184 916h0M187 916h0M118 917h0M116 918h0M184 918h0M182 919h0M182 920h0M114 921h0M182 922h0M111 923h0M180 923h0M109 925h0M178 925h0M176 926h0M178 926h0M104 927h0M174 927h0M103 929h0M172 929h0M174 930h0M100 931h0M170 932h0M168 933h0M167 934h0M166 936h0M164 938h0M158 940h0M162 940h0M160 941h0M158 942h0M153 947h0M146 950h0M148 950h0M142 952h0M144 952h0M140 954h0M136 956h0M132 958h0"/>
<path stroke="#377dd6" d="M177 893h0M179 893h0M181 893h0M183 893h0M184 893h0M173 894h0M167 895h0M169 895h0M175 895h0M176 895h0M179 895h0M181 895h0M182 895h0M186 895h0M166 896h0M169 896h0M171 896h0M182 896h0M161 897h0M162 897h0M165 897h0M173 897h0M174 897h0M176 897h0M178 897h0M180 897h0M184 897h0M186 897h0M188 897h0M166 898h0M155 899h0M159 899h0M161 899h0M163 899h0M182 899h0M184 899h0M186 899h0M188 899h0M190 899h0M186 900h0M190 900h0M152 901h0M183 901h0M185 901h0M188 901h0M187 902h0M190 902h0M149 903h0M150 903h0M184 903h0M188 903h0M186 904h0M188 904h0M144 905h0M185 905h0M184 906h0M186 906h0M137 907h0M139 907h0M141 907h0M188 907h0M137 908h0M138 908h0M183 908h0M185 908h0M188 908h0M185 910h0M187 910h0M131 911h0M133 911h0M183 912h0M186 912h0M127 913h0M129 913h0M184 913h0M183 914h0M184 914h0M125 915h0M182 916h0M120 917h0M119 918h0M178 918h0M180 918h0M180 920h0M116 921h0M178 921h0M178 922h0M113 923h0M177 923h0M176 924h0M111 925h0M174 925h0M173 926h0M107 927h0M171 928h0M105 929h0M168 930h0M170 931h0M99 932h0M101 932h0M166 933h0M165 934h0M164 936h0M160 937h0M163 937h0M162 938h0M158 939h0M156 940h0M157 942h0M154 943h0M152 944h0M150 946h0M143 950h0M144 950h0M139 954h0M132 957h0M134 957h0"/>
<path stroke="#3983d8" d="M176 898h0M164 899h0M169 899h0M171 899h0M173 899h0M178 899h0M180 899h0M175 900h0M178 900h0M181 900h0M157 901h0M158 901h0M162 901h0M165 901h0M167 901h0M168 901h0M171 901h0M177 901h0M169 902h0M153 903h0M155 903h0M157 903h0M174 903h0M176 903h0M178 903h0M181 903h0M182 903h0M180 904h0M147 905h0M148 905h0M177 905h0M179 905h0M182 905h0M178 906h0M182 906h0M145 907h0M141 908h0M142 909h0M179 909h0M180 909h0M135 910h0M182 910h0M131 913h0M179 913h0M180 914h0M127 915h0M179 915h0M123 917h0M125 917h0M176 917h0M178 917h0M123 918h0M176 918h0M121 919h0M175 919h0M175 920h0M173 921h0M176 921h0M117 922h0M174 922h0M114 923h0M173 923h0M172 924h0M109 927h0M168 927h0M170 927h0M106 929h0M166 929h0M103 931h0M164 931h0M165 932h0M162 934h0M97 935h0M158 937h0M156 938h0M155 940h0M153 942h0M148 946h0M144 948h0M146 948h0M136 954h0M134 955h0M130 958h0"/>
<path stroke="#3b8ad9" d="M161 903h0M163 903h0M164 903h0M167 903h0M171 903h0M172 903h0M159 904h0M165 904h0M167 904h0M168 904h0M174 904h0M151 905h0M153 905h0M155 905h0M157 905h0M160 905h0M170 905h0M172 905h0M157 906h0M167 906h0M147 907h0M148 907h0M151 907h0M171 907h0M173 907h0M174 907h0M172 908h0M176 908h0M144 909h0M147 909h0M174 909h0M140 910h0M176 910h0M137 911h0M138 911h0M172 911h0M175 911h0M172 912h0M132 913h0M135 913h0M136 913h0M175 913h0M176 913h0M133 914h0M174 914h0M129 915h0M172 915h0M174 916h0M126 917h0M173 917h0M172 919h0M170 920h0M119 921h0M118 922h0M170 922h0M170 924h0M113 925h0M114 925h0M166 925h0M168 925h0M166 926h0M111 927h0M112 927h0M165 929h0M162 930h0M105 931h0M162 932h0M161 933h0M99 934h0M160 934h0M158 935h0M154 938h0M152 941h0M151 942h0M148 944h0M150 944h0M146 946h0M138 950h0M140 950h0M136 953h0M132 954h0M130 956h0M127 958h0M128 958h0"/>
<path stroke="#4292dc" d="M152 907h0M155 907h0M158 907h0M160 907h0M163 907h0M164 907h0M169 907h0M161 908h0M163 908h0M170 908h0M149 909h0M151 909h0M153 909h0M156 909h0M168 909h0M142 911h0M166 911h0M168 911h0M170 911h0M139 912h0M142 913h0M170 913h0M134 914h0M131 915h0M169 915h0M171 915h0M170 916h0M129 917h0M130 917h0M168 917h0M166 918h0M168 918h0M170 918h0M125 919h0M123 920h0M125 920h0M121 921h0M166 921h0M168 921h0M166 922h0M168 922h0M116 925h0M163 925h0M165 925h0M164 927h0M161 928h0M162 928h0M109 929h0M159 930h0M160 930h0M103 933h0M158 933h0M156 934h0M155 936h0M156 936h0M150 941h0M146 944h0M145 945h0M144 946h0M143 947h0M140 948h0M138 949h0M137 950h0"/>
<path stroke="#4b9bdf" d="M154 909h0M160 910h0M147 911h0M149 911h0M151 911h0M153 911h0M155 911h0M156 911h0M159 911h0M162 911h0M163 912h0M166 912h0M141 913h0M145 913h0M159 913h0M161 913h0M164 913h0M138 914h0M160 914h0M166 914h0M137 915h0M162 915h0M165 915h0M164 916h0M132 917h0M164 918h0M127 919h0M128 919h0M163 920h0M161 921h0M164 921h0M162 922h0M122 923h0M164 923h0M118 925h0M161 926h0M114 927h0M162 927h0M159 928h0M110 929h0M107 931h0M105 932h0M103 934h0M97 937h0M151 937h0M150 938h0M152 938h0M149 940h0M146 942h0M148 942h0M143 945h0M141 946h0M135 950h0M133 952h0M129 954h0M130 954h0"/>
<path stroke="#54a4e2" d="M149 913h0M151 913h0M152 913h0M155 913h0M149 914h0M159 914h0M141 915h0M142 915h0M144 915h0M146 915h0M151 915h0M153 915h0M154 915h0M156 915h0M156 916h0M135 917h0M136 917h0M158 917h0M161 917h0M162 917h0M130 919h0M160 919h0M159 921h0M158 922h0M121 923h0M160 923h0M160 924h0M158 925h0M116 926h0M158 927h0M113 929h0M156 929h0M111 930h0M156 930h0M154 932h0M152 933h0M152 934h0M101 935h0M151 935h0M148 939h0M147 941h0M138 947h0M137 948h0M126 957h0M124 959h0"/>
<path stroke="#5dade6" d="M144 916h0M138 917h0M141 917h0M142 917h0M146 917h0M148 917h0M151 917h0M152 917h0M154 917h0M151 918h0M133 919h0M135 919h0M136 919h0M142 919h0M152 919h0M155 919h0M156 919h0M154 920h0M156 920h0M127 921h0M157 922h0M125 923h0M126 923h0M154 923h0M121 925h0M122 925h0M155 925h0M156 925h0M119 926h0M154 926h0M115 928h0M116 928h0M152 928h0M154 929h0M154 930h0M109 931h0M152 931h0M109 932h0M150 933h0M99 937h0M148 937h0M146 938h0M143 942h0M144 942h0M140 944h0M139 945h0M136 947h0M133 949h0M134 949h0M133 950h0M130 952h0"/>
<path stroke="#68b6e9" d="M138 919h0M140 919h0M145 919h0M147 919h0M135 920h0M151 920h0M131 921h0M143 921h0M144 921h0M149 921h0M129 923h0M149 923h0M150 923h0M151 924h0M124 925h0M153 925h0M150 927h0M152 927h0M115 930h0M149 931h0M150 931h0M148 933h0M105 934h0M106 934h0M148 934h0M100 937h0M144 938h0M97 939h0M144 940h0M128 953h0M124 956h0"/>
<path stroke="#7ac1eb" d="M136 921h0M140 921h0M131 922h0M132 923h0M143 923h0M144 923h0M147 923h0M127 924h0M149 924h0M146 925h0M123 927h0M118 929h0M148 929h0M147 930h0M113 931h0M146 932h0M146 935h0M145 936h0M146 936h0M143 938h0M142 940h0M140 941h0M140 942h0M137 944h0M135 946h0M130 950h0M122 958h0"/>
<path stroke="#8ccbee" d="M136 923h0M139 923h0M140 923h0M136 924h0M139 924h0M129 925h0M131 925h0M142 925h0M144 925h0M125 926h0M127 926h0M145 926h0M146 926h0M145 928h0M121 929h0M116 931h0M145 931h0M111 933h0M143 935h0M144 935h0M143 936h0M99 938h0M139 940h0M136 943h0M132 947h0M131 948h0M126 954h0M123 956h0"/>
<path stroke="#9fd6f0" d="M132 925h0M135 925h0M140 925h0M141 926h0M129 927h0M142 927h0M123 928h0M124 928h0M140 928h0M142 929h0M141 930h0M142 930h0M118 931h0M113 933h0M142 933h0M140 937h0M100 938h0M97 940h0M135 944h0M128 950h0M127 952h0"/>
<path stroke="#b0def3" d="M131 927h0M132 927h0M135 927h0M136 927h0M138 927h0M127 928h0M138 928h0M121 931h0M115 933h0M139 933h0M140 933h0M140 934h0M138 935h0M138 936h0M103 937h0M105 937h0M138 938h0M135 940h0M136 940h0M133 943h0M134 943h0M132 944h0M129 948h0M124 954h0"/>
<path stroke="#c0e5f4" d="M135 928h0M129 929h0M131 929h0M132 929h0M136 929h0M123 931h0M134 931h0M136 931h0M138 931h0M136 933h0M137 934h0M136 936h0M102 938h0M134 939h0M127 950h0M124 953h0M120 958h0"/>
<path stroke="#cfecf6" d="M125 931h0M130 931h0M133 931h0M123 932h0M119 933h0M131 933h0M132 933h0M134 933h0M111 935h0M133 935h0M134 935h0M106 937h0M134 937h0M132 940h0M130 944h0M128 946h0M126 948h0M122 955h0M121 956h0"/>
<path stroke="#dff2f8" d="M126 933h0M128 933h0M112 935h0M114 935h0M130 935h0M130 936h0M132 936h0M104 938h0M132 939h0M130 940h0M128 943h0M128 944h0"/>
<path stroke="#ebf6eb" d="M116 935h0M119 935h0M120 935h0M122 935h0M124 935h0M127 935h0M128 935h0M112 936h0M108 937h0M128 937h0M130 938h0M128 939h0M101 940h0M129 940h0M99 941h0M126 946h0M120 955h0"/>
<path stroke="#f6fadd" d="M110 937h0M122 937h0M125 937h0M126 939h0M126 940h0M126 943h0M126 945h0M124 950h0M122 953h0M118 958h0"/>
<path stroke="#fbfbce" d="M114 937h0M119 937h0M121 937h0M122 938h0M96 943h0M125 944h0M124 948h0M123 950h0M118 957h0"/>
<path stroke="#fcfbc0" d="M120 938h0M124 939h0M124 940h0M124 946h0M116 959h0"/>
<path stroke="#fdfcb1" d="M115 938h0M119 938h0M106 939h0M122 940h0M103 941h0M124 943h0M120 952h0"/>
<path stroke="#fffca3" d="M109 939h0M110 939h0M112 939h0M123 946h0M121 949h0M119 954h0"/>
<path stroke="#fffa9b" d="M116 939h0M105 941h0M119 941h0M122 945h0M119 952h0"/>
<path stroke="#fff795" d="M106 941h0M117 941h0M120 942h0M100 943h0M120 945h0M120 946h0M120 950h0M116 956h0"/>
<path stroke="#fff48f" d="M99 943h0M114 958h0"/>
<path stroke="#fff189" d="M114 941h0M118 943h0M119 944h0M119 947h0M119 949h0M118 951h0"/>
<path stroke="#ffee83" d="M111 941h0M116 943h0M97 945h0M116 954h0"/>
<path stroke="#ffec7e" d="M115 943h0M98 945h0"/>
<path stroke="#ffe978" d="M103 943h0M105 943h0M101 944h0M116 945h0"/>
<path stroke="#ffe169" d="M113 943h0M103 944h0M114 944h0M116 951h0M112 959h0"/>
<path stroke="#ffd957" d="M106 943h0M108 943h0M110 943h0M97 946h0M116 952h0M113 957h0"/>
<path stroke="#ffd045" d="M116 948h0"/>
<path stroke="#ffc734" d="M113 945h0M114 954h0"/>
<path stroke="#ffbe22" d="M109 945h0M110 945h0M114 947h0"/>
<path stroke="#ffb510" d="M114 948h0M114 952h0"/>
<path stroke="#ffa908" d="M106 945h0M98 947h0M113 947h0M97 948h0M114 951h0"/>
<path stroke="#ff9b05" d="M105 945h0"/>
<path stroke="#ff8e02" d="M109 946h0"/>
<path stroke="#ff8000" d="M107 946h0M112 948h0M112 954h0M110 958h0"/>
<path stroke="#fd5f00" d="M101 947h0M110 947h0M112 951h0M110 957h0"/>
<path stroke="#fb4f00" d="M112 952h0"/>
<path stroke="#fa3e00" d="M100 948h0M110 955h0"/>
<path stroke="#f63100" d="M102 947h0M109 957h0"/>
<path stroke="#f22400" d="M104 947h0M110 950h0M111 952h0M107 958h0"/>
<path stroke="#ee1600" d="M108 958h0"/>
<path stroke="#ea0b00" d="M108 949h0"/>
<path stroke="#e40800" d="M99 949h0"/>
<path stroke="#df0500" d="M106 949h0M108 951h0M109 952h0"/>
<path stroke="#d90100" d="M105 949h0"/>
<path stroke="#c80000" d="M99 951h0M106 951h0M106 957h0"/>
<path stroke="#bf0000" d="M97 953h0M106 954h0M104 958h0"/>
<path stroke="#b60000" d="M102 951h0M106 953h0"/>
<path stroke="#ad0000" d="M102 952h0M99 953h0M100 953h0M104 953h0M99 954h0M97 955h0M100 955h0M102 955h0M97 956h0M99 956h0M100 956h0M102 956h0M104 956h0M97 958h0"/>
</g>
</g>
<line x1="48.2" y1="479.6" x2="199.8" y2="333.9" stroke="#7c7c7c" stroke-opacity="0.9" stroke-width="0.8" stroke-dasharray="1.8 1"/>
<polyline points="48.2,473.8 184.6,400.4" fill="none" stroke="#c22c3a" stroke-width="1"/>
<text x="48.5" y="488.0" font-size="8" stroke="#111" stroke-width="0.12" text-anchor="middle">0</text>
<text x="45.6" y="482.2" font-size="8" stroke="#111" stroke-width="0.12" text-anchor="end">0</text>
<text x="73.8" y="488.0" font-size="8" stroke="#111" stroke-width="0.12" text-anchor="middle">5</text>
<text x="45.6" y="457.9" font-size="8" stroke="#111" stroke-width="0.12" text-anchor="end">5</text>
<text x="99.0" y="488.0" font-size="8" stroke="#111" stroke-width="0.12" text-anchor="middle">10</text>
<text x="45.6" y="433.6" font-size="8" stroke="#111" stroke-width="0.12" text-anchor="end">10</text>
<text x="124.3" y="488.0" font-size="8" stroke="#111" stroke-width="0.12" text-anchor="middle">15</text>
<text x="45.6" y="409.4" font-size="8" stroke="#111" stroke-width="0.12" text-anchor="end">15</text>
<text x="149.6" y="488.0" font-size="8" stroke="#111" stroke-width="0.12" text-anchor="middle">20</text>
<text x="45.6" y="385.1" font-size="8" stroke="#111" stroke-width="0.12" text-anchor="end">20</text>
<text x="174.8" y="488.0" font-size="8" stroke="#111" stroke-width="0.12" text-anchor="middle">25</text>
<text x="45.6" y="360.8" font-size="8" stroke="#111" stroke-width="0.12" text-anchor="end">25</text>
<text x="200.1" y="488.0" font-size="8" stroke="#111" stroke-width="0.12" text-anchor="middle">30</text>
<text x="45.6" y="336.5" font-size="8" stroke="#111" stroke-width="0.12" text-anchor="end">30</text>
<text x="52.1" y="344.4" font-size="11.8" stroke="#111" stroke-width="0.15">R²=0.67</text>
<text x="52.1" y="355.7" font-size="11.8" stroke="#111" stroke-width="0.15">RMSE=2.52</text>
<text x="52.1" y="367.0" font-size="11.8" stroke="#111" stroke-width="0.15">MAE=1.66</text>
<text x="52.1" y="378.3" font-size="11.8" stroke="#111" stroke-width="0.15">IOA=0.86</text>
<text x="52.1" y="389.6" font-size="11.8" stroke="#111" stroke-width="0.15">slope=0.56</text>
<text x="129.8" y="474.9" font-size="13.1" font-weight="bold" fill="#161616">FLUXCOM</text>
</g>
<rect x="223" y="396.6" width="313.8" height="19.6" fill="url(#cb)" stroke="#333" stroke-width="0.9"/>
<text x="222.2" y="390.2" font-size="12.9" font-weight="bold">Low</text>
<text x="535" y="390.2" font-size="12.9" font-weight="bold" text-anchor="end">High</text>
<text x="385.3" y="436" font-size="13.6" font-weight="bold" text-anchor="middle">Scatter Density</text>
<text x="183.9" y="512.6" font-size="19.1" fill="#000" stroke="#000" stroke-width="0.3">FLUXNET GPP (g C/m²/d)</text>
<text transform="translate(24.6,355.8) rotate(-90)" font-size="19.4" fill="#000" stroke="#000" stroke-width="0.3">Simulated GPP (g C/m²/d)</text>
</svg></body></html>
